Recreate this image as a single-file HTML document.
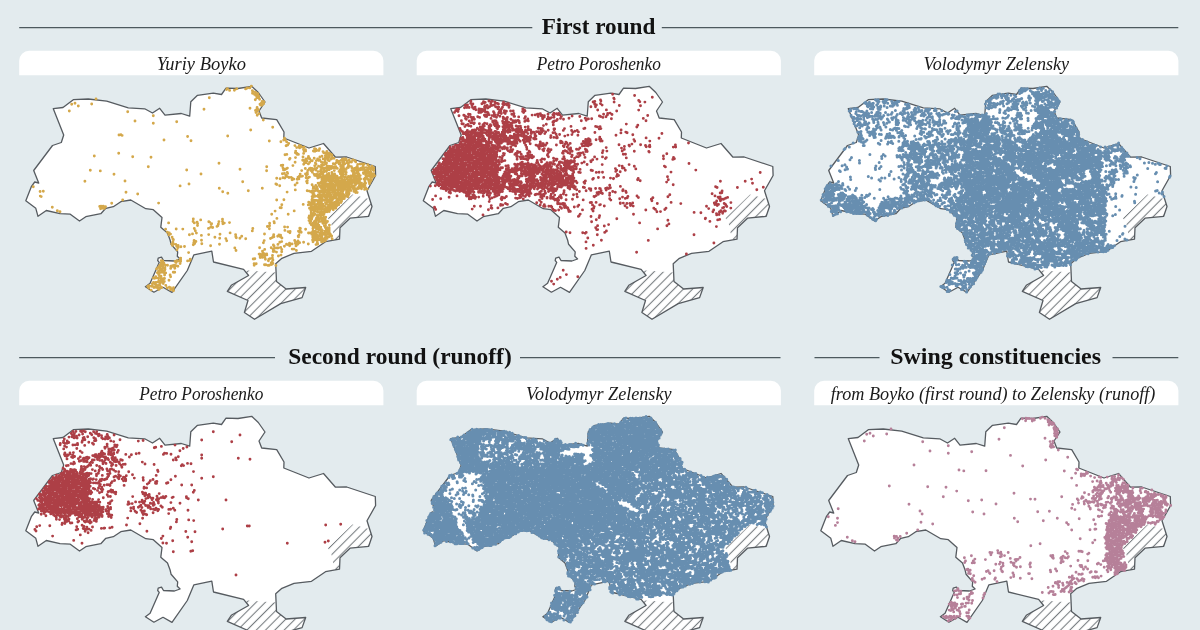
<!DOCTYPE html><html><head><meta charset="utf-8"><title>Ukraine election maps</title><style>html,body{margin:0;padding:0;background:#e3ebee}svg{display:block}</style></head><body><svg width="1200" height="630" viewBox="0 0 1200 630"><defs><pattern id="h" width="6.58" height="6.58" patternUnits="userSpaceOnUse" patternTransform="translate(542.35 0) rotate(-45)"><rect width="6.58" height="6.58" fill="#fff"/><line x1="0" y1="3.29" x2="6.58" y2="3.29" stroke="#787d81" stroke-width="1.1"/></pattern></defs><rect width="1200" height="630" fill="#e3ebee"/><line x1="19.2" y1="27.6" x2="532.3" y2="27.6" stroke="#4d595e" stroke-width="1.3"/><line x1="661.8" y1="27.6" x2="1178.3" y2="27.6" stroke="#4d595e" stroke-width="1.3"/><line x1="19.2" y1="357.6" x2="275" y2="357.6" stroke="#4d595e" stroke-width="1.3"/><line x1="520" y1="357.6" x2="780.5" y2="357.6" stroke="#4d595e" stroke-width="1.3"/><line x1="814.5" y1="357.6" x2="879.5" y2="357.6" stroke="#4d595e" stroke-width="1.3"/><line x1="1112.5" y1="357.6" x2="1178.3" y2="357.6" stroke="#4d595e" stroke-width="1.3"/><text x="541.7" y="34.2" textLength="113.7" lengthAdjust="spacingAndGlyphs" font-family="'Liberation Serif',serif" font-weight="bold" font-size="22.5" fill="#121212">First round</text><text x="288.3" y="364.2" textLength="223.4" lengthAdjust="spacingAndGlyphs" font-family="'Liberation Serif',serif" font-weight="bold" font-size="22.5" fill="#121212">Second round (runoff)</text><text x="890.2" y="364.2" textLength="210.8" lengthAdjust="spacingAndGlyphs" font-family="'Liberation Serif',serif" font-weight="bold" font-size="22.5" fill="#121212">Swing constituencies</text><path d="M19.2 75.19999999999999V60.8a10 10 0 0 1 10 -10H373.4a10 10 0 0 1 10 10V75.19999999999999Z" fill="#fff"/><text x="156.7" y="70.0" textLength="89.2" lengthAdjust="spacingAndGlyphs" font-family="'Liberation Serif',serif" font-style="italic" font-size="19.5" fill="#1a1a1a">Yuriy Boyko</text><g transform="translate(0.0,0)"><polygon points="53.3,108.7 63.0,107.5 73.3,99.7 88.3,99.0 106.7,101.2 128.3,107.8 144.7,108.8 152.5,113.0 159.7,108.3 165.0,115.2 181.3,113.5 189.7,116.2 190.8,101.7 197.5,95.3 213.3,93.2 221.5,94.5 226.0,88.2 238.0,88.5 251.7,86.3 258.3,92.5 265.0,102.0 259.0,111.0 261.7,118.0 276.7,119.7 284.0,132.0 283.8,138.0 309.0,148.0 323.5,143.5 335.5,157.2 346.7,157.0 375.3,166.5 375.6,175.5 367.0,190.8 372.0,206.5 368.7,216.3 350.0,218.2 340.0,227.8 339.5,239.2 325.5,241.7 311.5,251.3 294.0,253.3 281.9,258.3 275.7,263.7 276.5,281.5 286.1,289.0 305.7,287.5 302.1,297.6 280.7,303.6 254.5,319.3 244.4,312.5 248.0,300.5 227.3,291.3 231.3,285.3 248.6,275.5 243.6,269.4 213.5,262.0 211.8,251.2 193.9,254.8 187.3,270.5 172.0,292.4 163.0,287.3 153.9,292.2 145.4,286.7 150.1,283.3 159.2,262.4 157.7,260.5 158.2,258.1 161.5,257.1 163.5,260.5 174.4,261.0 180.1,259.0 177.3,256.2 177.7,251.9 171.1,244.3 170.1,240.0 167.5,233.0 160.8,227.2 162.0,217.5 153.3,209.7 145.8,208.7 130.8,200.0 120.8,201.7 113.3,206.7 105.8,208.3 100.8,213.7 85.8,216.7 79.5,221.0 70.3,214.2 60.0,213.7 46.3,210.5 38.0,216.3 35.8,208.3 25.8,200.8 31.3,186.7 34.7,182.0 38.7,183.0 33.7,170.5 52.5,145.5 61.3,142.5 63.7,135.0" fill="#fff"/><polygon points="248.6,275.5 243.6,269.4 248.0,270.5 276.0,272.5 276.5,281.5 286.1,289.0 305.7,287.5 302.1,297.6 280.7,303.6 254.5,319.3 244.4,312.5 248.0,300.5 227.3,291.3 231.3,285.3" fill="url(#h)"/><polygon points="352.5,194.5 369.0,199.0 372.0,206.5 368.7,216.3 350.0,218.2 340.0,227.8 339.5,239.2 335.5,239.9 333.0,232.5 331.5,224.5 328.0,218.0" fill="url(#h)"/><polygon points="53.3,108.7 63.0,107.5 73.3,99.7 88.3,99.0 106.7,101.2 128.3,107.8 144.7,108.8 152.5,113.0 159.7,108.3 165.0,115.2 181.3,113.5 189.7,116.2 190.8,101.7 197.5,95.3 213.3,93.2 221.5,94.5 226.0,88.2 238.0,88.5 251.7,86.3 258.3,92.5 265.0,102.0 259.0,111.0 261.7,118.0 276.7,119.7 284.0,132.0 283.8,138.0 309.0,148.0 323.5,143.5 335.5,157.2 346.7,157.0 375.3,166.5 375.6,175.5 367.0,190.8 372.0,206.5 368.7,216.3 350.0,218.2 340.0,227.8 339.5,239.2 325.5,241.7 311.5,251.3 294.0,253.3 281.9,258.3 275.7,263.7 276.5,281.5 286.1,289.0 305.7,287.5 302.1,297.6 280.7,303.6 254.5,319.3 244.4,312.5 248.0,300.5 227.3,291.3 231.3,285.3 248.6,275.5 243.6,269.4 213.5,262.0 211.8,251.2 193.9,254.8 187.3,270.5 172.0,292.4 163.0,287.3 153.9,292.2 145.4,286.7 150.1,283.3 159.2,262.4 157.7,260.5 158.2,258.1 161.5,257.1 163.5,260.5 174.4,261.0 180.1,259.0 177.3,256.2 177.7,251.9 171.1,244.3 170.1,240.0 167.5,233.0 160.8,227.2 162.0,217.5 153.3,209.7 145.8,208.7 130.8,200.0 120.8,201.7 113.3,206.7 105.8,208.3 100.8,213.7 85.8,216.7 79.5,221.0 70.3,214.2 60.0,213.7 46.3,210.5 38.0,216.3 35.8,208.3 25.8,200.8 31.3,186.7 34.7,182.0 38.7,183.0 33.7,170.5 52.5,145.5 61.3,142.5 63.7,135.0" fill="none" stroke="#565b60" stroke-width="1.3" stroke-linejoin="round"/><path transform="scale(.1)" d="M2514 861h0m-16 18h0m-25 1h0m-199 6h0m93 2h0m89 1h0m-190 7h0m78 6h0m-48 2h0m228 3h0m10 9h0m21 8h0m-30 9h0m53 3h0m-10 4h0m-22 4h0m13 10h0m20 2h0m10 3h0m-496 18h0m495 0h0m-19 1h0m-1609 12h0m1636 3h0m-43 5h0m68 16h0m18 4h0m-24 14h0m-1865 1h0m1886 5h0m-1719 2h0m1683 2h0m-1883 1h0m1888 8h0m14 1h0m-1836 8h0m1788 15h0m-71 8h0m70 5h0m-530 5h0m544 5h0m-29 7h0m-1862 5h0m1876 3h0m-1292 4h0m1283 9h0m29 10h0m-17 16h0m-1039 5h0m1100 43h0m-1283 10h0m417 7h0m-234 16h0m1194 40h0m-220 27h0m-1298 48h0m-19 2h0m31 4h0m1056 6h0m-401 5h0m969 18h0m5 15h0m-1210 2h0m1197 1h0m-927 6h0m783 3h0m173 7h0m-57 1h0m78 16h0m-10 16h0m72 6h0m-88 2h0m132 0h0m12 1h0m-15 9h0m31 3h0m20 0h0m-74 5h0m29 3h0m200 8h0m-51 1h0m14 4h0m-124 4h0m20 1h0m112 8h0m22 0h0m-148 5h0m93 0h0m-177 1h0m100 0h0m93 2h0m119 1h0m-39 2h0m-276 12h0m283 0h0m21 1h0m17 1h0m-2088 2h0m1783 2h0m66 0h0m259 0h0m-325 9h0m335 0h0m-437 1h0m116 0h0m-134 4h0m469 1h0m-28 1h0m-25 2h0m-12 3h0m-2311 5h0m2277 2h0m-135 2h0m-1758 3h0m1966 2h0m27 0h0m-290 1h0m169 0h0m79 2h0m-1768 1h0m1744 0h0m-299 3h0m127 6h0m60 1h0m183 0h0m15 0h0m-440 1h0m365 0h0m-168 3h0m185 0h0m159 1h0m-209 1h0m230 0h0m-403 1h0m117 0h0m135 1h0m-416 1h0m528 0h0m-177 1h0m282 6h0m-331 1h0m252 0h0m43 0h0m-78 1h0m-131 1h0m-256 1h0m225 0h0m116 2h0m61 0h0m-265 1h0m25 0h0m-78 1h0m-68 1h0m79 0h0m170 0h0m256 0h0m-76 1h0m-403 1h0m322 1h0m-177 8h0m212 0h0m131 0h0m-58 1h0m16 0h0m-564 2h0m298 0h0m190 1h0m-343 1h0m128 1h0m-179 1h0m319 0h0m19 0h0m15 0h0m-338 2h0m413 0h0m-208 1h0m-111 1h0m-964 3h0m1143 5h0m18 0h0m98 0h0m-365 1h0m535 0h0m23 0h0m-250 1h0m39 0h0m52 0h0m118 0h0m-345 1h0m-219 1h0m123 1h0m244 1h0m173 0h0m100 4h0m-462 1h0m21 0h0m-408 2h0m-16 3h0m117 2h0m218 1h0m126 2h0m220 0h0m196 0h0m-503 2h0m248 0h0m49 0h0m237 1h0m-87 1h0m-226 1h0m166 0h0m-281 1h0m8 0h0m19 0h0m99 0h0m-72 1h0m168 0h0m-2031 1h0m1184 0h0m692 0h0m-153 2h0m72 7h0m195 0h0m11 0h0m178 0h0m32 0h0m-865 1h0m433 0h0m455 0h0m-494 1h0m114 0h0m224 0h0m75 1h0m-467 1h0m126 0h0m64 0h0m258 0h0m121 0h0m-864 1h0m369 0h0m277 0h0m-416 1h0m326 1h0m251 0h0m-561 1h0m253 0h0m37 0h0m-357 1h0m95 0h0m166 0h0m129 0h0m103 0h0m36 0h0m-749 1h0m771 0h0m-739 1h0m228 0h0m-693 6h0m1228 2h0m54 0h0m25 0h0m-498 1h0m252 0h0m-614 1h0m575 0h0m17 0h0m167 0h0m-314 1h0m297 0h0m138 0h0m-892 1h0m295 0h0m271 0h0m155 0h0m12 0h0m-1701 1h0m1292 0h0m113 0h0m266 0h0m-301 1h0m-2334 1h0m2745 1h0m-570 1h0m584 0h0m-553 1h0m140 0h0m488 0h0m-720 1h0m326 0h0m176 0h0m-853 2h0m-1663 1h0m2387 5h0m289 0h0m-475 1h0m322 0h0m-346 1h0m84 0h0m179 0h0m-228 1h0m324 2h0m43 0h0m73 0h0m-242 1h0m-174 1h0m196 0h0m265 0h0m-576 1h0m444 0h0m141 1h0m-837 1h0m590 0h0m-143 1h0m-246 1h0m561 0h0m39 7h0m-829 1h0m32 0h0m334 1h0m79 0h0m282 0h0m137 0h0m-288 1h0m129 0h0m86 0h0m54 0h0m33 0h0m15 0h0m-913 1h0m579 1h0m251 0h0m-308 1h0m-1336 1h0m1045 0h0m171 0h0m-224 1h0m165 0h0m422 0h0m-514 1h0m358 0h0m100 0h0m-2393 1h0m2002 1h0m15 0h0m35 0h0m80 0h0m51 0h0m136 1h0m86 7h0m-481 1h0m83 1h0m-288 1h0m419 0h0m55 0h0m18 0h0m-155 1h0m406 0h0m-438 1h0m150 0h0m114 0h0m318 0h0m-449 1h0m287 0h0m74 0h0m58 0h0m-461 1h0m253 0h0m187 0h0m-451 1h0m491 0h0m-710 1h0m345 0h0m44 1h0m110 0h0m42 0h0m113 0h0m-502 1h0m-186 1h0m19 0h0m209 0h0m265 0h0m-613 1h0m223 6h0m-114 1h0m476 0h0m83 0h0m186 0h0m-511 1h0m230 0h0m-532 1h0m314 0h0m268 0h0m-604 1h0m298 0h0m362 0h0m-201 1h0m124 0h0m234 0h0m-877 1h0m462 0h0m85 0h0m18 0h0m197 0h0m71 0h0m-602 1h0m209 0h0m37 0h0m203 0h0m-431 1h0m337 0h0m-568 1h0m330 0h0m190 1h0m-116 1h0m74 0h0m241 0h0m85 0h0m-885 1h0m155 0h0m-121 4h0m188 2h0m230 1h0m138 0h0m249 0h0m34 0h0m-701 1h0m644 0h0m-611 2h0m265 0h0m132 0h0m103 0h0m96 1h0m84 0h0m-109 1h0m138 0h0m-424 1h0m41 0h0m117 0h0m90 0h0m23 0h0m162 0h0m-769 1h0m359 1h0m40 1h0m114 0h0m-103 1h0m383 0h0m-328 1h0m63 0h0m32 0h0m-408 6h0m218 2h0m70 0h0m-2111 1h0m2014 0h0m45 0h0m12 0h0m328 0h0m-421 2h0m171 0h0m38 0h0m75 0h0m-2663 1h0m2687 0h0m21 0h0m-491 1h0m529 0h0m-378 1h0m358 1h0m-1148 1h0m920 0h0m76 0h0m68 0h0m199 0h0m14 0h0m-455 1h0m135 0h0m69 2h0m25 0h0m-66 8h0m-441 1h0m101 0h0m245 0h0m184 0h0m19 0h0m27 0h0m-345 1h0m169 0h0m205 0h0m-395 1h0m434 0h0m41 1h0m-436 1h0m137 0h0m-120 1h0m61 1h0m191 0h0m-234 1h0m312 0h0m-238 1h0m119 0h0m247 0h0m-230 1h0m178 0h0m-368 1h0m119 0h0m39 0h0m163 0h0m-1706 1h0m869 0h0m9 5h0m708 2h0m-355 1h0m372 0h0m25 0h0m-226 1h0m16 0h0m107 0h0m-464 1h0m372 0h0m231 0h0m76 0h0m-441 1h0m40 1h0m420 0h0m-307 1h0m15 0h0m83 0h0m-282 1h0m240 0h0m218 0h0m-362 1h0m12 0h0m113 1h0m152 0h0m-318 1h0m381 0h0m-797 1h0m656 0h0m-1652 1h0m1331 7h0m66 0h0m-2865 1h0m3044 0h0m9 0h0m-146 1h0m249 0h0m130 0h0m-146 1h0m-43 1h0m-292 1h0m366 1h0m15 0h0m80 0h0m45 0h0m-475 1h0m112 0h0m20 0h0m-48 1h0m64 0h0m-93 1h0m105 0h0m78 0h0m136 0h0m-90 1h0m-104 1h0m228 0h0m79 1h0m-1463 5h0m430 0h0m509 1h0m17 1h0m81 0h0m73 0h0m-88 1h0m333 0h0m38 0h0m-205 1h0m234 0h0m-190 1h0m109 0h0m-253 1h0m219 0h0m67 2h0m105 0h0m-497 1h0m150 0h0m153 1h0m-232 1h0m94 0h0m101 0h0m205 0h0m-245 1h0m-138 1h0m96 0h0m104 0h0m-510 3h0m208 5h0m227 0h0m-154 1h0m276 0h0m-194 1h0m-833 1h0m589 0h0m359 0h0m129 1h0m-438 2h0m291 0h0m-320 1h0m53 0h0m109 0h0m210 0h0m-183 1h0m12 0h0m-2861 1h0m2749 0h0m21 0h0m136 0h0m9 0h0m29 0h0m-274 1h0m437 0h0m-3139 1h0m2818 0h0m266 0h0m-1258 2h0m644 4h0m-1611 2h0m1856 0h0m95 1h0m139 0h0m-25 1h0m232 0h0m15 0h0m-347 1h0m21 0h0m-48 2h0m183 1h0m-109 1h0m94 1h0m98 0h0m15 0h0m-178 1h0m-1023 1h0m1013 0h0m108 0h0m27 0h0m65 0h0m-357 2h0m-1757 5h0m1978 4h0m74 0h0m-155 1h0m24 0h0m41 1h0m28 0h0m121 0h0m-346 2h0m40 1h0m52 0h0m209 0h0m28 0h0m-341 1h0m124 0h0m158 0h0m-19 1h0m-81 1h0m-108 1h0m22 0h0m-2823 8h0m2938 0h0m44 0h0m-210 1h0m-24 1h0m309 0h0m-196 2h0m20 0h0m73 0h0m47 0h0m-2992 1h0m2709 0h0m18 0h0m86 0h0m254 1h0m-273 1h0m100 0h0m24 1h0m-142 1h0m238 1h0m11 0h0m-186 1h0m22 9h0m86 0h0m-40 1h0m-17 3h0m33 0h0m108 0h0m-72 2h0m20 0h0m-168 1h0m204 0h0m-304 1h0m138 1h0m-64 1h0m215 0h0m-573 6h0m430 2h0m-2042 1h0m1540 0h0m352 0h0m171 1h0m33 0h0m60 1h0m22 0h0m-264 1h0m89 0h0m17 0h0m-92 1h0m35 0h0m178 0h0m-199 1h0m136 0h0m-96 3h0m207 1h0m-291 10h0m77 0h0m94 0h0m-24 2h0m41 0h0m40 0h0m-266 2h0m94 0h0m-37 1h0m224 0h0m42 2h0m-303 1h0m108 0h0m40 0h0m83 0h0m53 0h0m-1805 4h0m-469 2h0m2003 6h0m13 0h0m130 0h0m-88 2h0m54 0h0m74 0h0m62 1h0m-172 1h0m134 0h0m21 0h0m-316 1h0m72 0h0m51 1h0m59 1h0m70 0h0m-466 1h0m569 1h0m-304 1h0m156 7h0m-32 1h0m160 2h0m-208 1h0m-2127 1h0m2155 1h0m-2177 1h0m2288 0h0m55 0h0m-207 1h0m137 0h0m32 0h0m-2318 1h0m2225 0h0m109 0h0m-210 1h0m133 0h0m-2199 1h0m2054 0h0m-2586 6h0m2703 3h0m118 0h0m-543 1h0m481 0h0m-469 1h0m321 1h0m39 0h0m-56 1h0m-22 2h0m54 0h0m57 0h0m56 0h0m-2232 1h0m2159 0h0m170 0h0m-2315 1h0m2209 1h0m54 0h0m17 1h0m-2318 1h0m2152 7h0m-35 1h0m118 0h0m-99 1h0m54 0h0m78 0h0m59 1h0m-155 1h0m120 1h0m-83 1h0m-106 2h0m152 3h0m-2688 2h0m2369 2h0m-191 2h0m402 2h0m139 3h0m-2692 1h0m2672 0h0m-132 1h0m93 1h0m21 1h0m-41 2h0m-37 1h0m-64 1h0m83 0h0m27 10h0m-98 2h0m-12 1h0m87 0h0m-317 5h0m357 0h0m-522 1h0m433 0h0m43 8h0m41 0h0m-96 1h0m72 1h0m-38 2h0m-54 4h0m-25 1h0m84 12h0m-55 1h0m84 0h0m51 0h0m-18 1h0m-130 2h0m108 0h0m-129 2h0m77 2h0m-396 4h0m-836 6h0m1184 0h0m100 0h0m-992 2h0m947 0h0m19 0h0m38 1h0m23 4h0m-93 1h0m-1152 1h0m1090 0h0m-7 7h0m19 3h0m127 0h0m-49 2h0m29 1h0m-57 2h0m-1228 1h0m294 0h0m920 0h0m130 0h0m-1086 1h0m551 0h0m458 0h0m65 1h0m-1175 1h0m-117 3h0m124 0h0m200 5h0m968 1h0m-1577 2h0m257 0h0m800 0h0m357 1h0m152 0h0m-1009 1h0m453 1h0m435 0h0m28 1h0m70 0h0m-118 1h0m66 0h0m-948 3h0m-253 1h0m140 0h0m68 2h0m-72 6h0m1001 1h0m32 0h0m-17 3h0m166 1h0m-106 2h0m67 0h0m-87 1h0m-1193 2h0m1269 1h0m-1065 1h0m517 0h0m-526 6h0m504 1h0m458 1h0m40 2h0m26 1h0m-352 1h0m-738 1h0m768 0h0m332 0h0m-55 3h0m-1026 1h0m1126 0h0m20 1h0m18 0h0m-293 7h0m-913 1h0m919 0h0m-1061 1h0m585 0h0m601 0h0m147 0h0m-582 3h0m472 1h0m-1404 1h0m1422 0h0m80 0h0m28 0h0m-1464 1h0m-172 1h0m1400 1h0m144 1h0m15 1h0m-25 8h0m-341 1h0m153 2h0m207 0h0m58 0h0m-43 1h0m-1271 1h0m570 1h0m607 1h0m162 0h0m-41 1h0m-266 1h0m169 1h0m-253 1h0m-20 2h0m114 6h0m17 0h0m112 0h0m39 0h0m14 0h0m-1503 1h0m1584 0h0m20 0h0m-57 2h0m-322 2h0m-598 2h0m800 0h0m-1408 1h0m1392 0h0m-1121 1h0m1270 0h0m-94 1h0m61 0h0m94 1h0m-1370 6h0m720 1h0m-940 1h0m1580 0h0m-147 1h0m-938 1h0m919 1h0m186 0h0m-1218 2h0m650 0h0m475 0h0m16 0h0m-1334 1h0m1261 0h0m-799 1h0m896 0h0m-1563 1h0m1507 0h0m69 0h0m-476 1h0m201 1h0m179 0h0m-363 2h0m-792 1h0m1166 6h0m19 0h0m118 0h0m-335 1h0m-565 1h0m360 1h0m-44 1h0m407 2h0m-782 1h0m860 0h0m75 0h0m-554 1h0m65 0h0m356 0h0m-175 1h0m291 0h0m-20 1h0m-129 1h0m-1406 1h0m428 0h0m573 4h0m-359 2h0m456 2h0m391 1h0m-1013 1h0m202 0h0m851 1h0m-78 1h0m100 0h0m-567 1h0m426 0h0m-873 1h0m199 1h0m772 0h0m-43 1h0m135 0h0m-165 2h0m-1427 1h0m5 7h0m1465 0h0m-73 1h0m96 0h0m-80 1h0m36 1h0m-12 1h0m76 0h0m-1227 1h0m-74 1h0m1006 0h0m-305 2h0m613 0h0m-988 2h0m713 2h0m-1021 5h0m858 1h0m134 0h0m27 0h0m256 0h0m-104 2h0m-1401 2h0m1487 0h0m-418 2h0m238 0h0m137 3h0m-1235 1h0m696 1h0m329 0h0m33 0h0m-101 4h0m59 4h0m-1007 1h0m71 1h0m-300 2h0m1203 0h0m-1188 1h0m1350 0h0m94 0h0m-982 2h0m782 0h0m-112 1h0m-1107 1h0m1021 0h0m119 0h0m-22 2h0m284 0h0m-1227 2h0m801 1h0m-1009 5h0m56 1h0m1115 2h0m-790 1h0m854 1h0m-219 4h0m103 0h0m-1077 1h0m78 1h0m-36 3h0m998 6h0m-1026 1h0m815 2h0m116 1h0m-364 1h0m434 0h0m-11 1h0m-25 3h0m176 8h0m18 0h0m-293 3h0m85 0h0m86 0h0m-1048 3h0m590 8h0m604 0h0m-339 7h0m118 1h0m-11 2h0m85 3h0m-52 3h0m-879 5h0m741 7h0m14 4h0m26 3h0m-76 1h0m9 0h0m68 8h0m142 2h0m-186 2h0m-13 1h0m114 1h0m-76 1h0m135 4h0m-183 1h0m23 13h0m24 0h0m-46 2h0m122 3h0m-917 2h0m895 5h0m-154 1h0m-16 3h0m157 1h0m-888 1h0m101 0h0m752 0h0m-847 7h0m922 0h0m-829 6h0m-287 2h0m157 0h0m914 1h0m-808 1h0m-95 2h0m-152 2h0m121 1h0m56 0h0m916 4h0m-961 7h0m951 4h0m-1073 3h0m-27 1h0m1117 2h0m-928 1h0m-182 1h0m943 0h0m-21 1h0m-927 7h0m1102 1h0m-71 1h0m-1013 1h0m1025 0h0m-1002 3h0m887 1h0m-867 1h0m69 0h0m949 0h0m-1097 1h0m1083 0h0m80 1h0m-1033 2h0m34 0h0m19 5h0m-71 1h0m11 1h0m19 1h0m-135 3h0m25 2h0m-45 4h0m66 2h0m-9 7h0m108 0h0m-41 1h0m-141 5h0m32 2h0m23 0h0m29 2h0m-48 9h0m45 2h0m-25 5h0m-36 3h0m34 10h0m127 0h0m-14 1h0m-96 3h0m-63 2h0m83 1h0m-62 1h0m-7 17h0m58 3h0m55 0h0m-108 8h0m17 5h0m96 4h0m-149 1h0m6 10h0m-28 2h0m11 3h0m37 0h0m26 0h0m36 2h0m-15 1h0m0 15h0m60 1h0m-80 5h0m-19 1h0m37 7h0m15 0h0m-61 3h0m-47 7h0m28 0h0m-12 1h0m53 2h0m-62 7h0m90 0h0m-109 2h0m29 7h0m43 1h0m5 9h0m58 0h0m-88 1h0m16 0h0m-96 3h0m24 5h0m11 0h0m-48 2h0m75 7h0m142 0h0m-155 3h0m78 0h0m88 1h0m30 2h0m-247 2h0m183 0h0m-71 1h0m-23 1h0m149 9h0m-139 4h0m119 3h0m-195 3h0m225 5h0m-3 2h0" stroke="#d4a84b" stroke-width="29" stroke-linecap="round" fill="none"/></g><path d="M416.7 75.19999999999999V60.8a10 10 0 0 1 10 -10H770.9a10 10 0 0 1 10 10V75.19999999999999Z" fill="#fff"/><text x="536.8" y="70.0" textLength="124" lengthAdjust="spacingAndGlyphs" font-family="'Liberation Serif',serif" font-style="italic" font-size="19.5" fill="#1a1a1a">Petro Poroshenko</text><g transform="translate(397.5,0)"><polygon points="53.3,108.7 63.0,107.5 73.3,99.7 88.3,99.0 106.7,101.2 128.3,107.8 144.7,108.8 152.5,113.0 159.7,108.3 165.0,115.2 181.3,113.5 189.7,116.2 190.8,101.7 197.5,95.3 213.3,93.2 221.5,94.5 226.0,88.2 238.0,88.5 251.7,86.3 258.3,92.5 265.0,102.0 259.0,111.0 261.7,118.0 276.7,119.7 284.0,132.0 283.8,138.0 309.0,148.0 323.5,143.5 335.5,157.2 346.7,157.0 375.3,166.5 375.6,175.5 367.0,190.8 372.0,206.5 368.7,216.3 350.0,218.2 340.0,227.8 339.5,239.2 325.5,241.7 311.5,251.3 294.0,253.3 281.9,258.3 275.7,263.7 276.5,281.5 286.1,289.0 305.7,287.5 302.1,297.6 280.7,303.6 254.5,319.3 244.4,312.5 248.0,300.5 227.3,291.3 231.3,285.3 248.6,275.5 243.6,269.4 213.5,262.0 211.8,251.2 193.9,254.8 187.3,270.5 172.0,292.4 163.0,287.3 153.9,292.2 145.4,286.7 150.1,283.3 159.2,262.4 157.7,260.5 158.2,258.1 161.5,257.1 163.5,260.5 174.4,261.0 180.1,259.0 177.3,256.2 177.7,251.9 171.1,244.3 170.1,240.0 167.5,233.0 160.8,227.2 162.0,217.5 153.3,209.7 145.8,208.7 130.8,200.0 120.8,201.7 113.3,206.7 105.8,208.3 100.8,213.7 85.8,216.7 79.5,221.0 70.3,214.2 60.0,213.7 46.3,210.5 38.0,216.3 35.8,208.3 25.8,200.8 31.3,186.7 34.7,182.0 38.7,183.0 33.7,170.5 52.5,145.5 61.3,142.5 63.7,135.0" fill="#fff"/><polygon points="248.6,275.5 243.6,269.4 248.0,270.5 276.0,272.5 276.5,281.5 286.1,289.0 305.7,287.5 302.1,297.6 280.7,303.6 254.5,319.3 244.4,312.5 248.0,300.5 227.3,291.3 231.3,285.3" fill="url(#h)"/><polygon points="352.5,194.5 369.0,199.0 372.0,206.5 368.7,216.3 350.0,218.2 340.0,227.8 339.5,239.2 335.5,239.9 333.0,232.5 331.5,224.5 328.0,218.0" fill="url(#h)"/><polygon points="53.3,108.7 63.0,107.5 73.3,99.7 88.3,99.0 106.7,101.2 128.3,107.8 144.7,108.8 152.5,113.0 159.7,108.3 165.0,115.2 181.3,113.5 189.7,116.2 190.8,101.7 197.5,95.3 213.3,93.2 221.5,94.5 226.0,88.2 238.0,88.5 251.7,86.3 258.3,92.5 265.0,102.0 259.0,111.0 261.7,118.0 276.7,119.7 284.0,132.0 283.8,138.0 309.0,148.0 323.5,143.5 335.5,157.2 346.7,157.0 375.3,166.5 375.6,175.5 367.0,190.8 372.0,206.5 368.7,216.3 350.0,218.2 340.0,227.8 339.5,239.2 325.5,241.7 311.5,251.3 294.0,253.3 281.9,258.3 275.7,263.7 276.5,281.5 286.1,289.0 305.7,287.5 302.1,297.6 280.7,303.6 254.5,319.3 244.4,312.5 248.0,300.5 227.3,291.3 231.3,285.3 248.6,275.5 243.6,269.4 213.5,262.0 211.8,251.2 193.9,254.8 187.3,270.5 172.0,292.4 163.0,287.3 153.9,292.2 145.4,286.7 150.1,283.3 159.2,262.4 157.7,260.5 158.2,258.1 161.5,257.1 163.5,260.5 174.4,261.0 180.1,259.0 177.3,256.2 177.7,251.9 171.1,244.3 170.1,240.0 167.5,233.0 160.8,227.2 162.0,217.5 153.3,209.7 145.8,208.7 130.8,200.0 120.8,201.7 113.3,206.7 105.8,208.3 100.8,213.7 85.8,216.7 79.5,221.0 70.3,214.2 60.0,213.7 46.3,210.5 38.0,216.3 35.8,208.3 25.8,200.8 31.3,186.7 34.7,182.0 38.7,183.0 33.7,170.5 52.5,145.5 61.3,142.5 63.7,135.0" fill="none" stroke="#565b60" stroke-width="1.3" stroke-linejoin="round"/><path transform="scale(.1)" d="M2151 943h0m220 12h0m177 17h0m-385 11h0m4 8h0m-137 8h0m382 6h0m-1498 5h0m1120 1h0m-1300 1h0m214 0h0m1025 3h0m-1038 1h0m-75 1h0m1563 0h0m-467 3h0m210 1h0m308 0h0m-1414 1h0m-85 1h0m-98 1h0m-11 6h0m113 3h0m-247 1h0m265 0h0m-64 2h0m176 0h0m920 0h0m-1185 1h0m228 1h0m-318 2h0m255 0h0m44 0h0m43 0h0m876 2h0m-882 5h0m-28 2h0m-362 1h0m268 0h0m131 0h0m890 0h0m57 1h0m-1368 1h0m218 2h0m50 0h0m171 1h0m1101 0h0m-1473 1h0m188 1h0m1497 0h0m-1554 3h0m105 7h0m-60 1h0m1013 0h0m46 0h0m-989 1h0m-121 1h0m-94 1h0m236 0h0m38 1h0m-300 2h0m365 0h0m-399 1h0m163 0h0m-185 1h0m-24 1h0m233 3h0m-141 7h0m242 0h0m37 0h0m212 2h0m-438 1h0m-223 1h0m19 1h0m223 1h0m18 2h0m22 1h0m-90 1h0m239 2h0m1066 0h0m-820 1h0m733 0h0m410 1h0m-1554 4h0m-45 1h0m256 0h0m-487 1h0m246 0h0m329 2h0m118 0h0m-241 1h0m97 0h0m1061 0h0m-1103 2h0m162 2h0m6 0h0m-652 1h0m243 1h0m112 1h0m-83 1h0m140 1h0m-118 4h0m-329 1h0m264 0h0m427 1h0m-448 1h0m253 0h0m-160 4h0m61 0h0m45 0h0m1114 1h0m-562 1h0m-526 3h0m39 0h0m87 0h0m449 0h0m489 0h0m-673 2h0m162 1h0m-192 4h0m106 0h0m556 0h0m-1351 1h0m433 0h0m270 0h0m-512 1h0m-175 1h0m1419 0h0m-543 1h0m-687 2h0m639 0h0m546 0h0m-1219 1h0m92 0h0m404 0h0m188 0h0m58 0h0m-622 1h0m161 0h0m184 1h0m-477 1h0m-206 1h0m301 0h0m-296 2h0m779 0h0m1055 0h0m-1558 1h0m-329 1h0m822 0h0m32 0h0m550 3h0m-273 1h0m-722 1h0m-147 1h0m89 1h0m199 0h0m6 0h0m-490 1h0m726 0h0m416 0h0m-931 1h0m747 0h0m393 0h0m-1230 1h0m1283 0h0m-806 1h0m-67 1h0m-504 1h0m760 1h0m-478 1h0m575 0h0m-828 1h0m320 0h0m450 0h0m-747 1h0m61 0h0m1233 0h0m-955 1h0m352 1h0m88 0h0m-787 7h0m778 0h0m185 0h0m162 0h0m-942 1h0m336 0h0m359 0h0m828 0h0m-1778 1h0m378 1h0m1081 1h0m-1064 1h0m376 0h0m491 0h0m-426 1h0m393 0h0m-606 1h0m594 0h0m-399 1h0m-729 1h0m325 0h0m40 0h0m526 0h0m-972 1h0m910 2h0m-853 4h0m1142 4h0m-802 1h0m118 0h0m89 0h0m298 2h0m-618 1h0m866 0h0m647 0h0m-1846 1h0m515 0h0m24 0h0m-226 1h0m33 0h0m323 0h0m263 0h0m-854 1h0m379 0h0m119 0h0m347 1h0m-511 2h0m222 1h0m-88 5h0m-232 2h0m120 1h0m481 0h0m7 0h0m-581 1h0m192 0h0m-58 2h0m-367 1h0m249 0h0m223 1h0m-485 2h0m34 0h0m287 0h0m39 1h0m42 1h0m11 1h0m-276 1h0m-227 4h0m120 1h0m55 0h0m76 0h0m-237 2h0m432 1h0m1198 0h0m-1225 2h0m425 0h0m-783 2h0m260 0h0m19 0h0m16 0h0m-145 1h0m74 0h0m208 2h0m-41 1h0m462 0h0m-870 2h0m428 0h0m1287 1h0m-943 4h0m-526 1h0m-223 1h0m157 1h0m47 0h0m62 0h0m18 0h0m191 0h0m-112 1h0m59 0h0m12 0h0m84 1h0m-495 1h0m1001 2h0m246 0h0m-966 1h0m79 0h0m14 0h0m99 0h0m-533 1h0m1352 0h0m-1178 1h0m206 0h0m252 1h0m693 1h0m-1172 1h0m1566 0h0m-1116 1h0m-175 5h0m-187 1h0m148 1h0m170 1h0m-240 1h0m125 1h0m28 0h0m-348 1h0m58 0h0m223 0h0m327 1h0m468 0h0m-950 1h0m506 0h0m-805 1h0m528 1h0m154 0h0m363 0h0m193 0h0m171 0h0m-586 1h0m-614 1h0m166 0h0m191 1h0m25 0h0m349 0h0m453 0h0m-446 1h0m-711 5h0m59 0h0m-107 2h0m32 0h0m230 0h0m-17 1h0m105 0h0m403 0h0m-238 1h0m908 0h0m-1467 1h0m415 0h0m122 0h0m-427 1h0m56 0h0m307 0h0m194 0h0m-654 1h0m345 0h0m205 0h0m175 0h0m-758 1h0m362 0h0m42 0h0m127 0h0m-646 1h0m65 0h0m959 0h0m-426 1h0m509 0h0m56 0h0m-895 1h0m556 0h0m-626 1h0m266 0h0m112 0h0m563 6h0m-798 2h0m209 0h0m-485 1h0m57 0h0m-31 1h0m665 0h0m21 0h0m-761 1h0m249 0h0m89 0h0m138 0h0m162 0h0m-211 1h0m197 0h0m208 0h0m327 0h0m-613 1h0m35 0h0m-300 1h0m134 0h0m297 0h0m921 0h0m-1598 1h0m56 0h0m110 0h0m407 0h0m88 0h0m97 0h0m310 0h0m-706 1h0m-213 1h0m271 0h0m232 0h0m-558 1h0m139 0h0m93 0h0m411 0h0m552 0h0m-1314 1h0m143 0h0m19 0h0m49 0h0m80 0h0m260 0h0m363 0h0m722 1h0m-741 1h0m679 1h0m-1527 4h0m44 2h0m97 0h0m38 0h0m452 0h0m1306 0h0m-1955 1h0m250 0h0m54 0h0m311 0h0m114 0h0m55 0h0m-797 1h0m564 0h0m190 0h0m-773 1h0m397 0h0m-241 1h0m-39 1h0m298 0h0m-247 1h0m383 1h0m166 0h0m-640 1h0m230 0h0m11 0h0m193 0h0m418 0h0m-792 1h0m110 1h0m12 0h0m106 0h0m18 0h0m226 0h0m355 0h0m-428 1h0m551 0h0m609 1h0m-649 4h0m-887 1h0m987 0h0m381 0h0m-1496 1h0m209 0h0m75 0h0m247 0h0m-500 2h0m-18 1h0m363 0h0m-326 1h0m795 0h0m-733 1h0m397 0h0m-413 1h0m56 0h0m161 0h0m181 0h0m57 0h0m144 0h0m-257 1h0m248 0h0m-420 1h0m128 0h0m53 0h0m27 0h0m510 0h0m-759 1h0m17 0h0m356 0h0m43 0h0m-473 1h0m133 0h0m34 0h0m25 1h0m210 0h0m14 0h0m320 0h0m-830 1h0m60 7h0m140 0h0m303 0h0m37 0h0m720 0h0m-840 1h0m22 0h0m-476 1h0m214 0h0m390 0h0m230 0h0m-909 1h0m99 0h0m226 0h0m553 0h0m-456 2h0m513 0h0m-439 1h0m177 0h0m271 0h0m-595 1h0m102 0h0m1381 0h0m-1789 1h0m74 0h0m-137 1h0m226 0h0m272 0h0m-423 1h0m100 0h0m41 0h0m67 0h0m143 1h0m27 0h0m201 0h0m1327 0h0m-1583 1h0m131 0h0m198 1h0m16 0h0m533 1h0m-525 3h0m-666 1h0m651 0h0m-496 1h0m147 0h0m-380 1h0m362 0h0m314 0h0m-684 1h0m1388 0h0m12 0h0m-1082 1h0m17 0h0m232 0h0m682 0h0m19 0h0m-1240 1h0m85 0h0m56 0h0m181 0h0m-208 1h0m1589 0h0m-1282 1h0m98 0h0m90 0h0m655 0h0m61 0h0m-1279 1h0m51 0h0m157 1h0m185 0h0m226 0h0m-641 1h0m150 0h0m282 0h0m98 0h0m78 0h0m-478 1h0m227 0h0m28 0h0m-218 1h0m405 0h0m-599 8h0m78 0h0m1191 0h0m119 0h0m-1274 1h0m91 0h0m216 0h0m221 0h0m730 0h0m493 0h0m-1774 1h0m134 0h0m748 0h0m263 0h0m-1223 1h0m170 0h0m179 0h0m17 0h0m189 0h0m1146 0h0m-1313 1h0m66 0h0m733 0h0m-879 1h0m116 0h0m70 0h0m152 0h0m-533 1h0m1089 0h0m-871 1h0m104 0h0m-390 1h0m112 0h0m88 0h0m998 0h0m-1010 1h0m524 0h0m-625 1h0m842 0h0m-1012 1h0m66 0h0m241 0h0m253 0h0m85 0h0m-131 1h0m121 0h0m416 1h0m-53 5h0m17 0h0m-893 1h0m159 0h0m949 0h0m-1184 1h0m102 0h0m108 0h0m805 0h0m1216 0h0m-2113 1h0m138 0h0m104 0h0m230 0h0m-276 1h0m202 0h0m299 0h0m-755 1h0m440 0h0m548 1h0m174 1h0m14 0h0m-1189 1h0m112 0h0m184 0h0m94 0h0m-409 1h0m744 0h0m7 0h0m423 0h0m-1256 1h0m16 0h0m174 0h0m322 0h0m190 0h0m-316 1h0m148 0h0m777 0h0m-1267 1h0m1173 0h0m-739 1h0m1241 0h0m-920 1h0m251 0h0m254 6h0m286 0h0m216 0h0m-1485 1h0m220 0h0m-525 1h0m170 0h0m91 0h0m99 0h0m152 0h0m436 0h0m1190 0h0m-2199 1h0m91 0h0m714 0h0m-771 1h0m247 0h0m421 0h0m198 0h0m835 0h0m207 0h0m-1829 1h0m79 0h0m13 0h0m100 0h0m822 0h0m-1054 1h0m77 0h0m-133 1h0m113 0h0m1770 0h0m-1726 1h0m68 0h0m1067 0h0m-930 1h0m14 0h0m897 0h0m-1023 1h0m70 0h0m486 0h0m55 0h0m-277 1h0m239 0h0m238 0h0m191 0h0m58 0h0m-887 1h0m417 1h0m883 0h0m197 3h0m-248 1h0m-1469 2h0m14 0h0m851 0h0m-1108 1h0m160 0h0m352 0h0m1418 0h0m37 0h0m-1391 1h0m-503 1h0m208 0h0m13 0h0m847 0h0m1084 0h0m-2218 1h0m218 0h0m1976 0h0m-2231 1h0m447 0h0m317 0h0m-681 1h0m90 0h0m62 0h0m132 0h0m137 1h0m382 0h0m-767 1h0m225 0h0m117 0h0m-322 1h0m13 0h0m266 0h0m106 0h0m1036 0h0m-1495 1h0m148 0h0m339 0h0m-170 1h0m27 0h0m75 0h0m720 1h0m-632 1h0m725 0h0m416 1h0m-1171 5h0m399 0h0m-622 1h0m33 0h0m101 0h0m70 0h0m-390 1h0m107 0h0m16 0h0m172 0h0m464 0h0m-493 1h0m72 0h0m511 0h0m-915 1h0m137 0h0m130 0h0m870 0h0m-1188 1h0m399 0h0m771 1h0m77 0h0m-1267 1h0m185 0h0m121 0h0m465 0h0m585 0h0m-1313 1h0m47 0h0m27 0h0m55 0h0m207 0h0m231 0h0m677 0h0m458 0h0m-1171 2h0m56 0h0m299 0h0m-872 1h0m94 0h0m75 0h0m60 0h0m726 1h0m355 1h0m-886 5h0m-359 1h0m73 0h0m213 0h0m-193 1h0m763 0h0m554 0h0m-1527 1h0m285 0h0m294 0h0m-532 1h0m33 0h0m166 0h0m250 0h0m437 0h0m214 0h0m-801 1h0m35 0h0m55 0h0m-377 1h0m98 0h0m152 0h0m1410 0h0m-1621 1h0m134 0h0m138 0h0m832 0h0m364 0h0m-1540 1h0m146 0h0m1668 0h0m-1051 1h0m429 0h0m-546 1h0m457 0h0m34 0h0m822 0h0m-2005 1h0m157 0h0m132 0h0m55 0h0m101 0h0m944 0h0m-912 1h0m159 0h0m740 0h0m-759 1h0m395 0h0m997 4h0m-1292 2h0m99 0h0m-478 1h0m147 1h0m-450 1h0m18 0h0m127 0h0m20 0h0m98 0h0m1049 0h0m-1257 1h0m301 0h0m40 1h0m766 0h0m344 0h0m-1417 1h0m124 0h0m107 0h0m-135 1h0m56 0h0m142 0h0m57 0h0m-500 1h0m134 0h0m35 0h0m310 0h0m238 0h0m450 0h0m169 0h0m15 0h0m-1162 1h0m150 0h0m67 0h0m413 0h0m-797 1h0m14 0h0m62 0h0m191 1h0m411 0h0m474 0h0m67 0h0m-664 1h0m9 1h0m436 0h0m298 0h0m890 1h0m-2006 6h0m74 0h0m135 0h0m1362 0h0m22 0h0m-1106 1h0m64 0h0m-380 1h0m112 0h0m-246 1h0m90 0h0m1052 0h0m-1072 1h0m83 0h0m115 0h0m198 0h0m-716 1h0m186 0h0m118 0h0m62 1h0m225 0h0m260 0h0m-836 1h0m61 0h0m382 0h0m-415 1h0m17 0h0m36 0h0m58 0h0m118 0h0m166 0h0m430 0h0m-732 1h0m338 0h0m356 0h0m443 0h0m-1157 1h0m114 0h0m795 0h0m-855 1h0m1181 0h0m834 5h0m-1608 1h0m-376 2h0m43 0h0m-87 1h0m159 0h0m497 0h0m-380 1h0m-424 1h0m18 0h0m153 0h0m80 0h0m466 0h0m-389 1h0m182 0h0m199 0h0m66 0h0m406 0h0m-815 1h0m15 0h0m96 0h0m346 0h0m30 0h0m24 0h0m149 0h0m-683 1h0m52 0h0m863 0h0m51 0h0m17 0h0m-1265 1h0m434 0h0m993 0h0m79 0h0m-1495 1h0m673 0h0m-700 1h0m68 0h0m94 0h0m65 0h0m19 0h0m464 0h0m80 0h0m-735 1h0m30 0h0m326 0h0m83 0h0m-100 1h0m953 1h0m885 1h0m-672 1h0m-1043 3h0m301 0h0m942 0h0m-971 2h0m-742 1h0m259 0h0m937 0h0m-1272 1h0m10 0h0m136 0h0m58 0h0m57 0h0m25 0h0m775 0h0m-951 1h0m55 0h0m55 0h0m195 0h0m16 0h0m-108 1h0m37 0h0m394 0h0m-382 1h0m21 0h0m55 0h0m36 0h0m1096 0h0m-1625 1h0m288 0h0m527 0h0m-792 1h0m489 0h0m268 0h0m436 0h0m990 0h0m109 0h0m-2186 1h0m1069 0h0m-967 1h0m762 0h0m-920 1h0m96 0h0m177 0h0m783 0h0m412 0h0m-1441 1h0m916 0h0m-274 1h0m93 0h0m306 0h0m1158 1h0m-801 3h0m-1148 3h0m176 0h0m60 0h0m262 0h0m-803 1h0m179 0h0m16 0h0m42 0h0m89 0h0m37 0h0m571 0h0m-895 1h0m25 0h0m92 0h0m191 0h0m108 0h0m634 0h0m-1068 1h0m103 0h0m126 0h0m262 0h0m-529 1h0m100 0h0m21 0h0m112 0h0m168 0h0m25 1h0m489 0h0m-462 1h0m139 0h0m690 0h0m-845 1h0m779 0h0m38 0h0m-1267 1h0m523 0h0m-218 1h0m901 0h0m258 0h0m-1296 1h0m150 0h0m266 0h0m717 1h0m-208 2h0m161 0h0m-684 4h0m896 1h0m-1438 1h0m221 0h0m722 0h0m311 0h0m-1049 1h0m191 0h0m737 0h0m237 0h0m-1333 1h0m71 0h0m191 0h0m23 0h0m194 0h0m235 0h0m370 0h0m147 0h0m-1293 1h0m92 0h0m307 0h0m79 0h0m-492 1h0m474 0h0m-287 1h0m117 0h0m640 0h0m306 0h0m-1046 2h0m324 0h0m405 0h0m104 0h0m29 0h0m-842 1h0m99 0h0m130 0h0m55 0h0m569 0h0m114 0h0m-1137 1h0m36 0h0m311 0h0m-274 1h0m47 0h0m674 0h0m369 0h0m-1256 1h0m317 0h0m100 0h0m396 0h0m453 0h0m45 0h0m113 1h0m1072 4h0m-2394 4h0m152 0h0m137 0h0m35 0h0m-432 1h0m34 0h0m43 0h0m753 0h0m40 0h0m270 0h0m66 0h0m-1075 1h0m60 0h0m17 0h0m266 0h0m32 0h0m63 0h0m285 0h0m221 0h0m-733 1h0m183 0h0m81 0h0m183 0h0m138 0h0m461 0h0m-629 1h0m51 0h0m73 0h0m274 0h0m130 0h0m77 0h0m-1199 1h0m73 0h0m1031 0h0m-956 1h0m589 0h0m96 0h0m94 0h0m19 0h0m194 0h0m178 0h0m-1264 1h0m82 0h0m60 0h0m15 0h0m1258 0h0m269 0h0m-1849 1h0m33 0h0m190 0h0m139 0h0m34 0h0m43 0h0m286 0h0m-766 1h0m129 0h0m437 0h0m484 0h0m-520 1h0m408 0h0m240 0h0m63 0h0m-289 1h0m391 6h0m448 0h0m-1110 1h0m-669 1h0m153 0h0m592 0h0m149 0h0m90 0h0m61 0h0m16 0h0m-820 1h0m47 0h0m182 0h0m176 0h0m156 0h0m222 0h0m-929 1h0m131 0h0m111 0h0m199 0h0m280 0h0m101 0h0m163 0h0m177 1h0m974 0h0m-2189 1h0m718 0h0m175 0h0m874 0h0m121 0h0m-1965 1h0m430 0h0m171 0h0m591 0h0m-1182 1h0m156 0h0m225 0h0m25 0h0m57 0h0m419 0h0m95 0h0m-761 1h0m15 0h0m249 0h0m54 0h0m686 0h0m-1024 1h0m99 0h0m56 0h0m87 0h0m84 0h0m605 0h0m-1088 1h0m60 0h0m35 0h0m197 0h0m524 0h0m48 0h0m389 0h0m44 0h0m38 0h0m-1295 1h0m501 0h0m447 0h0m237 0h0m49 0h0m953 1h0m-1924 7h0m280 0h0m196 0h0m32 0h0m60 0h0m-540 1h0m327 0h0m307 0h0m52 0h0m-571 1h0m152 0h0m633 0h0m-1257 1h0m158 0h0m148 0h0m245 0h0m196 0h0m429 0h0m95 0h0m38 0h0m-1294 1h0m24 0h0m81 0h0m131 0h0m31 0h0m100 0h0m-399 1h0m193 0h0m229 0h0m30 0h0m673 0h0m715 0h0m16 0h0m-1499 1h0m416 0h0m314 0h0m265 0h0m-1105 1h0m648 0h0m77 0h0m124 0h0m162 0h0m-1168 1h0m22 0h0m39 0h0m320 0h0m41 0h0m19 0h0m18 0h0m402 0h0m-974 1h0m614 0h0m12 0h0m229 0h0m36 0h0m62 0h0m61 0h0m316 0h0m-570 1h0m285 0h0m214 0h0m534 0h0m-1695 1h0m135 0h0m20 0h0m55 0h0m156 0h0m239 0h0m118 0h0m241 0h0m182 0h0m158 0h0m595 2h0m-617 5h0m60 0h0m-1413 1h0m409 0h0m396 0h0m94 0h0m-928 1h0m9 0h0m275 0h0m115 0h0m125 0h0m180 0h0m141 0h0m328 0h0m82 0h0m-691 1h0m78 0h0m77 0h0m631 0h0m-1372 1h0m131 0h0m53 0h0m173 0h0m120 0h0m35 0h0m-413 1h0m20 0h0m108 0h0m165 0h0m825 0h0m-973 1h0m138 0h0m676 0h0m269 0h0m-1252 1h0m361 0h0m60 0h0m73 0h0m192 0h0m40 0h0m200 0h0m124 0h0m53 0h0m59 0h0m69 0h0m1315 0h0m-2015 1h0m35 0h0m135 0h0m358 0h0m440 0h0m256 0h0m86 0h0m-1703 1h0m75 0h0m55 0h0m476 0h0m20 0h0m145 0h0m99 0h0m15 0h0m285 0h0m-1228 1h0m12 0h0m459 0h0m298 0h0m-660 1h0m57 0h0m210 0h0m358 0h0m19 0h0m56 0h0m76 0h0m115 0h0m-129 1h0m259 0h0m303 0h0m-1289 8h0m870 0h0m76 0h0m576 0h0m-1454 1h0m405 0h0m106 0h0m252 0h0m168 0h0m-1287 1h0m38 0h0m94 0h0m37 0h0m173 0h0m36 0h0m870 0h0m-1133 1h0m452 0h0m210 0h0m113 0h0m300 0h0m123 0h0m541 0h0m-1644 1h0m286 0h0m244 0h0m434 0h0m-716 1h0m123 0h0m211 0h0m255 0h0m-1028 1h0m36 0h0m172 0h0m473 0h0m328 0h0m-956 1h0m77 0h0m325 0h0m340 0h0m190 0h0m128 0h0m1230 0h0m-2178 1h0m76 0h0m150 0h0m538 0h0m17 0h0m18 0h0m111 0h0m295 0h0m254 0h0m34 0h0m-1696 1h0m343 0h0m78 0h0m128 0h0m73 0h0m310 0h0m19 0h0m507 0h0m-1345 1h0m342 0h0m71 0h0m120 0h0m453 0h0m138 0h0m397 0h0m-1376 1h0m58 0h0m247 0h0m175 0h0m2535 0h0m-1799 1h0m-1374 7h0m1032 0h0m148 0h0m-1078 1h0m91 0h0m455 0h0m184 0h0m293 0h0m-947 1h0m-200 1h0m76 0h0m79 0h0m171 0h0m138 0h0m56 0h0m286 0h0m95 0h0m59 0h0m11 0h0m115 0h0m173 0h0m-994 1h0m480 0h0m381 0h0m-1194 1h0m37 0h0m717 0h0m227 0h0m-680 1h0m173 0h0m660 0h0m254 0h0m-1374 1h0m41 0h0m186 0h0m82 0h0m111 0h0m14 0h0m119 0h0m55 0h0m-269 1h0m26 0h0m336 0h0m178 0h0m13 0h0m265 0h0m79 0h0m-1137 1h0m16 0h0m77 0h0m211 0h0m94 0h0m190 0h0m128 0h0m118 0h0m133 0h0m-906 1h0m316 0h0m55 0h0m59 0h0m394 0h0m311 0h0m-75 1h0m600 1h0m-1433 7h0m231 0h0m345 0h0m-661 1h0m124 0h0m26 0h0m35 0h0m54 0h0m388 0h0m166 0h0m42 0h0m-960 1h0m382 0h0m744 0h0m-993 1h0m268 0h0m23 0h0m479 0h0m29 0h0m119 0h0m604 0h0m-1463 1h0m616 0h0m343 0h0m-1179 1h0m89 0h0m172 0h0m309 0h0m524 0h0m-1114 1h0m130 0h0m213 0h0m472 0h0m205 0h0m118 0h0m108 0h0m-639 1h0m132 0h0m345 0h0m-1198 1h0m33 0h0m17 0h0m37 0h0m121 0h0m55 0h0m400 0h0m21 0h0m153 0h0m52 0h0m382 0h0m-947 1h0m658 0h0m-914 1h0m80 0h0m41 0h0m152 0h0m145 0h0m20 0h0m671 0h0m166 0h0m-1330 1h0m728 0h0m75 0h0m335 0h0m178 0h0m469 1h0m509 4h0m-2246 3h0m210 0h0m206 0h0m85 0h0m129 0h0m261 0h0m177 0h0m-1009 1h0m90 0h0m161 0h0m867 0h0m118 0h0m-1064 1h0m374 0h0m497 0h0m56 0h0m-1237 1h0m198 0h0m78 0h0m49 0h0m312 0h0m418 0h0m38 0h0m28 0h0m45 0h0m521 0h0m-1643 1h0m21 0h0m399 0h0m17 0h0m40 0h0m97 0h0m1016 0h0m-1615 2h0m330 0h0m247 0h0m136 0h0m-578 1h0m94 0h0m158 0h0m146 0h0m117 0h0m321 0h0m210 0h0m23 0h0m135 0h0m-1183 1h0m194 0h0m457 0h0m125 0h0m115 0h0m270 0h0m-1231 1h0m107 0h0m626 0h0m274 0h0m166 0h0m111 0h0m-1265 1h0m300 0h0m226 0h0m100 0h0m191 0h0m372 0h0m442 0h0m-1307 1h0m94 0h0m1244 2h0m-202 1h0m448 0h0m-248 3h0m-1118 2h0m316 0h0m265 0h0m21 0h0m-1196 1h0m190 0h0m78 0h0m869 0h0m1957 0h0m-3054 1h0m133 0h0m299 0h0m681 0h0m352 0h0m-1014 1h0m362 0h0m399 0h0m-1272 1h0m36 0h0m329 0h0m37 0h0m136 0h0m238 0h0m251 0h0m261 0h0m41 0h0m-1103 1h0m326 0h0m191 0h0m118 0h0m237 0h0m23 0h0m17 0h0m-828 1h0m354 0h0m34 0h0m-734 1h0m204 0h0m80 0h0m662 0h0m58 0h0m37 0h0m254 0h0m715 0h0m-1631 1h0m301 0h0m304 0h0m1333 0h0m-2187 1h0m167 0h0m153 0h0m19 0h0m41 0h0m213 0h0m77 0h0m467 0h0m-1246 1h0m148 0h0m18 0h0m168 0h0m137 0h0m111 0h0m17 0h0m44 0h0m98 0h0m336 0h0m-988 1h0m35 0h0m268 0h0m516 0h0m153 0h0m264 0h0m690 7h0m-1910 1h0m86 0h0m135 0h0m386 0h0m11 0h0m199 0h0m59 0h0m197 0h0m-794 1h0m138 0h0m55 0h0m510 0h0m135 0h0m245 0h0m-1342 1h0m10 0h0m153 0h0m252 0h0m51 0h0m541 0h0m130 0h0m-1198 1h0m704 0h0m282 0h0m322 0h0m1445 0h0m-2828 1h0m36 0h0m413 0h0m248 0h0m104 0h0m151 0h0m51 0h0m212 0h0m156 0h0m1705 0h0m-3058 1h0m171 0h0m299 0h0m323 0h0m77 0h0m77 0h0m-586 1h0m268 0h0m35 0h0m78 0h0m586 0h0m-1022 1h0m113 0h0m137 0h0m541 0h0m142 0h0m-989 1h0m94 0h0m115 0h0m33 0h0m323 0h0m254 0h0m217 0h0m-1016 1h0m133 0h0m198 0h0m287 0h0m382 0h0m-1228 1h0m104 0h0m77 0h0m427 0h0m-571 1h0m124 0h0m820 0h0m115 0h0m21 0h0m155 0h0m958 1h0m-826 2h0m-70 4h0m-1345 1h0m167 0h0m622 0h0m295 1h0m-937 1h0m82 0h0m127 0h0m212 0h0m168 0h0m43 0h0m128 0h0m271 0h0m-854 1h0m18 0h0m29 0h0m80 0h0m822 0h0m12 0h0m-1194 1h0m185 0h0m249 0h0m76 0h0m151 0h0m200 0h0m148 0h0m2000 0h0m-3030 1h0m64 0h0m129 0h0m450 0h0m172 0h0m98 0h0m320 0h0m119 0h0m-1393 1h0m173 0h0m39 0h0m231 0h0m22 0h0m173 0h0m209 0h0m87 0h0m-1018 1h0m474 0h0m125 0h0m157 0h0m317 0h0m-719 1h0m740 0h0m174 0h0m-1105 1h0m398 0h0m178 0h0m509 0h0m55 0h0m-1289 1h0m98 0h0m127 0h0m244 0h0m194 0h0m311 0h0m66 0h0m65 0h0m53 0h0m36 0h0m84 0h0m-1263 1h0m47 0h0m379 0h0m446 0h0m292 0h0m-1153 8h0m134 0h0m950 0h0m82 0h0m1156 0h0m-2353 1h0m93 0h0m316 0h0m133 0h0m-164 1h0m414 0h0m213 0h0m134 0h0m20 0h0m187 0h0m-1082 1h0m456 0h0m145 0h0m119 0h0m72 0h0m-1005 1h0m549 0h0m177 0h0m109 0h0m35 0h0m352 0h0m18 0h0m35 0h0m-1127 1h0m116 0h0m44 0h0m149 0h0m57 0h0m99 0h0m571 0h0m483 0h0m-1533 1h0m91 0h0m19 0h0m101 0h0m130 0h0m102 0h0m409 0h0m36 0h0m179 0h0m-1007 1h0m229 0h0m492 0h0m-817 1h0m677 0h0m277 0h0m111 0h0m-1144 1h0m63 0h0m299 0h0m25 0h0m30 0h0m532 0h0m284 0h0m-1293 1h0m102 0h0m112 0h0m529 0h0m61 0h0m545 0h0m-1385 1h0m359 0h0m248 0h0m58 0h0m92 0h0m117 0h0m64 0h0m31 0h0m-1018 3h0m1900 3h0m-1707 2h0m759 0h0m120 0h0m341 0h0m-893 1h0m129 0h0m97 0h0m-624 1h0m147 0h0m176 0h0m702 0h0m1705 0h0m-2695 1h0m79 0h0m49 0h0m287 0h0m395 0h0m76 0h0m255 0h0m151 0h0m-1104 1h0m75 0h0m38 0h0m149 0h0m703 0h0m81 0h0m-1137 1h0m285 0h0m374 0h0m-603 1h0m173 0h0m204 0h0m40 0h0m286 0h0m13 0h0m75 0h0m119 0h0m309 0h0m1800 0h0m-3187 1h0m73 0h0m111 0h0m77 0h0m150 0h0m115 0h0m129 0h0m102 0h0m96 0h0m125 0h0m151 0h0m158 0h0m-644 1h0m418 0h0m-440 1h0m2104 0h0m203 0h0m-2901 1h0m195 0h0m23 0h0m116 0h0m87 0h0m37 0h0m84 0h0m224 0h0m150 0h0m456 0h0m-717 1h0m10 0h0m328 0h0m214 0h0m424 0h0m-6 1h0m-27 1h0m-1660 4h0m1585 1h0m-880 1h0m840 0h0m100 0h0m-1303 1h0m72 0h0m28 0h0m16 0h0m57 0h0m819 0h0m147 0h0m194 0h0m-1633 1h0m132 0h0m51 0h0m79 0h0m245 0h0m121 0h0m262 0h0m81 0h0m96 0h0m483 0h0m-1571 1h0m38 0h0m148 0h0m153 0h0m329 0h0m50 0h0m74 0h0m44 0h0m211 0h0m68 0h0m-1040 1h0m90 0h0m57 0h0m257 0h0m394 0h0m-362 1h0m89 0h0m408 0h0m258 0h0m210 0h0m-1341 1h0m620 0h0m188 0h0m126 0h0m67 0h0m-1086 1h0m198 0h0m117 0h0m-64 1h0m148 0h0m373 0h0m-730 1h0m175 0h0m286 1h0m20 0h0m14 0h0m111 0h0m42 0h0m116 0h0m246 0h0m-327 1h0m560 1h0m463 0h0m1338 0h0m-1506 4h0m-1524 3h0m304 0h0m1066 0h0m-1447 1h0m153 0h0m886 0h0m60 0h0m-987 1h0m1068 0h0m-938 1h0m537 0h0m-416 1h0m398 0h0m639 0h0m150 0h0m216 0h0m-1726 1h0m378 0h0m221 0h0m62 1h0m2059 0h0m-2666 1h0m97 0h0m239 0h0m383 0h0m269 0h0m-244 1h0m150 0h0m-763 1h0m245 0h0m23 0h0m18 0h0m18 0h0m25 0h0m399 0h0m111 0h0m732 0h0m-1629 1h0m94 0h0m64 0h0m19 0h0m54 0h0m267 0h0m51 0h0m76 0h0m-656 1h0m66 0h0m480 0h0m52 0h0m290 0h0m309 0h0m333 0h0m-1103 1h0m-77 5h0m56 0h0m-513 1h0m908 0h0m591 0h0m-1347 1h0m97 0h0m47 0h0m458 0h0m396 0h0m513 0h0m-1475 1h0m130 0h0m345 1h0m115 0h0m994 0h0m-728 1h0m-322 1h0m77 0h0m681 0h0m-1127 1h0m2375 0h0m-2338 1h0m1131 0h0m-1506 1h0m454 0h0m2243 0h0m-1974 1h0m869 0h0m-1192 1h0m550 0h0m-792 1h0m40 0h0m172 0h0m434 1h0m-477 1h0m152 0h0m1040 0h0m1097 2h0m-2173 3h0m439 0h0m247 0h0m-478 1h0m285 0h0m-226 1h0m769 0h0m-714 1h0m95 0h0m38 0h0m109 0h0m256 0h0m-1082 2h0m602 2h0m135 0h0m312 0h0m-384 1h0m1347 0h0m-1826 1h0m117 0h0m-261 1h0m536 0h0m283 1h0m60 0h0m54 0h0m435 1h0m-900 1h0m-532 1h0m231 0h0m-152 1h0m230 0h0m259 0h0m730 1h0m-1606 3h0m214 0h0m2580 0h0m-2185 1h0m1405 0h0m-1705 1h0m628 0h0m147 0h0m67 0h0m-823 1h0m148 0h0m-138 2h0m1246 0h0m339 0h0m-1541 1h0m326 0h0m189 0h0m163 2h0m-524 1h0m702 0h0m350 0h0m735 0h0m-1734 1h0m828 0h0m-366 1h0m1794 0h0m-2444 1h0m30 0h0m1438 0h0m-1734 1h0m227 0h0m300 0h0m513 0h0m81 0h0m-403 1h0m1972 0h0m-1710 1h0m1805 0h0m-892 1h0m145 2h0m-1798 1h0m306 0h0m161 0h0m1075 0h0m-1353 1h0m127 0h0m423 1h0m143 0h0m-457 1h0m349 1h0m1751 0h0m-1675 1h0m-830 1h0m774 0h0m728 0h0m-1079 1h0m247 0h0m1773 1h0m-2787 1h0m604 0h0m-300 1h0m827 0h0m559 0h0m100 0h0m-1504 1h0m540 0h0m-334 1h0m661 1h0m953 1h0m723 0h0m-1511 1h0m1493 0h0m-2892 2h0m692 2h0m643 1h0m171 1h0m-284 2h0m560 0h0m-713 2h0m191 0h0m-13 1h0m946 3h0m685 1h0m-37 1h0m-2275 7h0m520 6h0m165 1h0m384 1h0m750 0h0m-796 1h0m-13 1h0m1407 0h0m-1942 1h0m960 2h0m-124 1h0m940 0h0m7 0h0m-917 1h0m66 3h0m-1244 1h0m575 0h0m639 0h0m304 0h0m669 0h0m-1039 1h0m605 0h0m-1232 1h0m20 0h0m49 0h0m1518 1h0m-1550 1h0m-539 5h0m1238 0h0m873 0h0m-2178 1h0m2142 0h0m-1145 1h0m-561 1h0m1814 1h0m-1332 1h0m72 0h0m-970 1h0m375 0h0m386 1h0m-782 3h0m1299 1h0m867 0h0m-2259 1h0m724 0h0m18 0h0m1605 0h0m-1010 2h0m-207 2h0m289 1h0m-896 1h0m75 0h0m1554 0h0m-2322 1h0m62 0h0m683 0h0m-37 1h0m327 0h0m1490 1h0m-1326 1h0m-339 3h0m140 1h0m-1398 2h0m1173 1h0m1719 1h0m-1571 1h0m-21 1h0m625 0h0m-1359 3h0m68 0h0m699 0h0m1548 0h0m-2878 2h0m2960 0h0m-1693 1h0m322 0h0m-1018 1h0m1619 0h0m122 0h0m427 3h0m-2365 5h0m807 2h0m391 0h0m-1563 1h0m2197 0h0m-872 1h0m966 0h0m-1764 2h0m941 2h0m1312 0h0m-1550 1h0m871 0h0m-919 3h0m150 2h0m-134 1h0m1654 1h0m36 0h0m-1314 4h0m1323 0h0m-1551 3h0m-14 1h0m916 1h0m-36 2h0m560 0h0m65 1h0m7 0h0m29 0h0m-289 5h0m68 4h0m218 4h0m-62 4h0m-1363 5h0m533 2h0m856 2h0m-2361 4h0m2337 0h0m-1376 8h0m205 1h0m-212 6h0m126 1h0m81 11h0m1064 7h0m-2 4h0m-885 1h0m1029 6h0m-1234 4h0m1214 1h0m-498 4h0m420 11h0m-1183 4h0m480 11h0m293 10h0m-603 7h0m-110 11h0m693 0h0m-626 3h0m1121 6h0m-1207 11h0m619 12h0m-609 7h0m10 0h0m87 14h0m-402 10h0m200 4h0m185 0h0m-347 4h0m127 0h0m25 5h0m1088 14h0m-967 1h0m-95 32h0m136 22h0m469 2h0m-623 15h0m1279 11h0m-1206 23h0m-72 31h0m505 38h0m498 18h0m-1232 162h0m32 44h0m114 21h0m-176 7h0m-29 18h0m-58 21h0m22 28h0" stroke="#ad3f46" stroke-width="29" stroke-linecap="round" fill="none"/></g><path d="M814.2 75.19999999999999V60.8a10 10 0 0 1 10 -10H1168.4a10 10 0 0 1 10 10V75.19999999999999Z" fill="#fff"/><text x="923.6" y="70.0" textLength="145.5" lengthAdjust="spacingAndGlyphs" font-family="'Liberation Serif',serif" font-style="italic" font-size="19.5" fill="#1a1a1a">Volodymyr Zelensky</text><g transform="translate(795.0,0)"><polygon points="53.3,108.7 63.0,107.5 73.3,99.7 88.3,99.0 106.7,101.2 128.3,107.8 144.7,108.8 152.5,113.0 159.7,108.3 165.0,115.2 181.3,113.5 189.7,116.2 190.8,101.7 197.5,95.3 213.3,93.2 221.5,94.5 226.0,88.2 238.0,88.5 251.7,86.3 258.3,92.5 265.0,102.0 259.0,111.0 261.7,118.0 276.7,119.7 284.0,132.0 283.8,138.0 309.0,148.0 323.5,143.5 335.5,157.2 346.7,157.0 375.3,166.5 375.6,175.5 367.0,190.8 372.0,206.5 368.7,216.3 350.0,218.2 340.0,227.8 339.5,239.2 325.5,241.7 311.5,251.3 294.0,253.3 281.9,258.3 275.7,263.7 276.5,281.5 286.1,289.0 305.7,287.5 302.1,297.6 280.7,303.6 254.5,319.3 244.4,312.5 248.0,300.5 227.3,291.3 231.3,285.3 248.6,275.5 243.6,269.4 213.5,262.0 211.8,251.2 193.9,254.8 187.3,270.5 172.0,292.4 163.0,287.3 153.9,292.2 145.4,286.7 150.1,283.3 159.2,262.4 157.7,260.5 158.2,258.1 161.5,257.1 163.5,260.5 174.4,261.0 180.1,259.0 177.3,256.2 177.7,251.9 171.1,244.3 170.1,240.0 167.5,233.0 160.8,227.2 162.0,217.5 153.3,209.7 145.8,208.7 130.8,200.0 120.8,201.7 113.3,206.7 105.8,208.3 100.8,213.7 85.8,216.7 79.5,221.0 70.3,214.2 60.0,213.7 46.3,210.5 38.0,216.3 35.8,208.3 25.8,200.8 31.3,186.7 34.7,182.0 38.7,183.0 33.7,170.5 52.5,145.5 61.3,142.5 63.7,135.0" fill="#fff"/><polygon points="248.6,275.5 243.6,269.4 248.0,270.5 276.0,272.5 276.5,281.5 286.1,289.0 305.7,287.5 302.1,297.6 280.7,303.6 254.5,319.3 244.4,312.5 248.0,300.5 227.3,291.3 231.3,285.3" fill="url(#h)"/><polygon points="352.5,194.5 369.0,199.0 372.0,206.5 368.7,216.3 350.0,218.2 340.0,227.8 339.5,239.2 335.5,239.9 333.0,232.5 331.5,224.5 328.0,218.0" fill="url(#h)"/><polygon points="53.3,108.7 63.0,107.5 73.3,99.7 88.3,99.0 106.7,101.2 128.3,107.8 144.7,108.8 152.5,113.0 159.7,108.3 165.0,115.2 181.3,113.5 189.7,116.2 190.8,101.7 197.5,95.3 213.3,93.2 221.5,94.5 226.0,88.2 238.0,88.5 251.7,86.3 258.3,92.5 265.0,102.0 259.0,111.0 261.7,118.0 276.7,119.7 284.0,132.0 283.8,138.0 309.0,148.0 323.5,143.5 335.5,157.2 346.7,157.0 375.3,166.5 375.6,175.5 367.0,190.8 372.0,206.5 368.7,216.3 350.0,218.2 340.0,227.8 339.5,239.2 325.5,241.7 311.5,251.3 294.0,253.3 281.9,258.3 275.7,263.7 276.5,281.5 286.1,289.0 305.7,287.5 302.1,297.6 280.7,303.6 254.5,319.3 244.4,312.5 248.0,300.5 227.3,291.3 231.3,285.3 248.6,275.5 243.6,269.4 213.5,262.0 211.8,251.2 193.9,254.8 187.3,270.5 172.0,292.4 163.0,287.3 153.9,292.2 145.4,286.7 150.1,283.3 159.2,262.4 157.7,260.5 158.2,258.1 161.5,257.1 163.5,260.5 174.4,261.0 180.1,259.0 177.3,256.2 177.7,251.9 171.1,244.3 170.1,240.0 167.5,233.0 160.8,227.2 162.0,217.5 153.3,209.7 145.8,208.7 130.8,200.0 120.8,201.7 113.3,206.7 105.8,208.3 100.8,213.7 85.8,216.7 79.5,221.0 70.3,214.2 60.0,213.7 46.3,210.5 38.0,216.3 35.8,208.3 25.8,200.8 31.3,186.7 34.7,182.0 38.7,183.0 33.7,170.5 52.5,145.5 61.3,142.5 63.7,135.0" fill="none" stroke="#565b60" stroke-width="1.3" stroke-linejoin="round"/><path transform="scale(.1)" d="M2446 880h0m37 2h0m-217 2h0m58 3h0m-32 1h0m14 1h0m120 0h0m32 0h0m-143 7h0m235 1h0m-282 3h0m85 4h0m-107 1h0m262 0h0m-43 1h0m-163 2h0m-17 1h0m254 7h0m-172 1h0m209 0h0m-61 2h0m-78 2h0m-14 1h0m-154 1h0m116 1h0m22 1h0m-150 2h0m246 0h0m-257 7h0m141 1h0m96 0h0m-7 2h0m92 0h0m-193 1h0m206 0h0m-72 1h0m-479 1h0m18 0h0m366 0h0m20 0h0m112 1h0m-89 1h0m-373 2h0m41 2h0m400 0h0m-330 6h0m-36 1h0m232 1h0m-365 1h0m60 1h0m-24 1h0m38 0h0m363 1h0m70 0h0m-530 1h0m423 0h0m20 1h0m53 0h0m-159 1h0m-223 1h0m363 0h0m99 0h0m-589 1h0m409 0h0m158 1h0m32 0h0m-77 1h0m-304 1h0m-213 7h0m35 0h0m459 1h0m51 0h0m19 0h0m-103 1h0m-352 1h0m-128 1h0m92 0h0m510 0h0m-242 1h0m282 1h0m-208 1h0m-276 1h0m221 0h0m80 0h0m-420 1h0m585 0h0m-640 2h0m307 0h0m198 0h0m-278 1h0m-54 7h0m-171 1h0m290 0h0m211 0h0m129 0h0m-1689 1h0m1594 0h0m-267 1h0m339 0h0m-455 1h0m60 0h0m-1369 1h0m116 0h0m-90 1h0m1114 0h0m576 0h0m108 0h0m-186 1h0m166 0h0m-398 1h0m134 3h0m77 0h0m113 0h0m-129 1h0m-275 6h0m87 0h0m26 0h0m-1426 1h0m1266 0h0m-1117 1h0m1182 0h0m14 0h0m320 0h0m-1576 1h0m119 0h0m889 0h0m22 0h0m705 0h0m-1762 1h0m9 0h0m1186 0h0m341 0h0m-208 1h0m-1368 1h0m199 0h0m1435 0h0m-282 1h0m339 0h0m-580 1h0m105 2h0m370 0h0m122 0h0m-268 1h0m33 0h0m-1605 1h0m287 0h0m1569 0h0m42 0h0m15 0h0m-1877 1h0m267 0h0m-122 6h0m1385 0h0m-1578 1h0m201 0h0m1456 0h0m-392 1h0m173 0h0m151 0h0m26 0h0m-1384 1h0m1016 0h0m379 0h0m240 0h0m-1779 1h0m1204 0h0m438 0h0m-1651 1h0m1823 0h0m-1768 1h0m145 0h0m1052 0h0m51 0h0m502 0h0m-43 1h0m99 0h0m-1616 1h0m-306 1h0m12 0h0m1275 0h0m119 0h0m111 0h0m-1238 1h0m141 0h0m915 0h0m150 0h0m12 0h0m194 0h0m208 0h0m-1861 1h0m1153 0h0m276 0h0m319 0h0m-1394 2h0m914 6h0m299 0h0m-1570 1h0m69 0h0m174 0h0m1308 0h0m288 0h0m10 0h0m-67 2h0m-1506 1h0m910 0h0m493 0h0m86 0h0m30 0h0m-589 1h0m617 0h0m-1794 1h0m1849 0h0m-645 1h0m206 0h0m281 0h0m-260 1h0m10 0h0m-1461 1h0m383 0h0m1316 1h0m-370 1h0m289 0h0m-1483 1h0m234 0h0m-403 1h0m133 0h0m97 0h0m1045 0h0m265 0h0m16 0h0m-1304 1h0m-245 5h0m1256 0h0m183 0h0m228 1h0m49 0h0m-1659 1h0m71 0h0m1091 1h0m55 0h0m-1174 1h0m1739 0h0m-1796 1h0m460 0h0m1039 0h0m210 0h0m69 1h0m-1408 1h0m1355 0h0m-1650 2h0m73 0h0m1386 0h0m120 0h0m167 0h0m-1476 1h0m847 0h0m255 0h0m244 0h0m-552 1h0m219 1h0m403 0h0m82 0h0m-1414 1h0m728 0h0m264 0h0m323 0h0m-1909 5h0m222 0h0m258 1h0m1053 0h0m43 0h0m-1597 1h0m516 0h0m835 0h0m265 0h0m-1449 1h0m368 0h0m280 0h0m-192 1h0m-586 1h0m1881 0h0m-1728 1h0m1655 0h0m-1124 1h0m978 0h0m-1731 1h0m296 0h0m497 0h0m1125 0h0m-60 1h0m-1172 1h0m88 0h0m720 1h0m406 0h0m-1264 1h0m931 0h0m400 0h0m-360 1h0m237 0h0m85 0h0m-257 2h0m-1223 5h0m265 0h0m67 0h0m974 0h0m51 0h0m42 0h0m-1009 1h0m17 0h0m638 0h0m87 0h0m-1579 1h0m911 0h0m-387 1h0m1377 0h0m-1817 1h0m78 0h0m1819 0h0m-1996 1h0m762 0h0m798 0h0m322 0h0m73 0h0m-1404 1h0m114 0h0m414 0h0m826 0h0m-1122 1h0m-133 2h0m411 0h0m872 0h0m39 0h0m-1853 1h0m171 0h0m420 0h0m-579 1h0m1924 0h0m-1985 2h0m616 1h0m-323 5h0m260 0h0m-347 1h0m153 0h0m1075 0h0m410 0h0m-1690 1h0m446 0h0m1331 0h0m18 0h0m18 1h0m-1890 1h0m370 0h0m69 0h0m75 0h0m887 0h0m344 0h0m69 0h0m-1661 1h0m1624 0h0m-1765 1h0m633 0h0m-617 1h0m569 0h0m231 0h0m798 0h0m-1215 1h0m341 0h0m815 0h0m78 0h0m156 0h0m-1638 1h0m1374 0h0m19 0h0m-1637 1h0m443 1h0m36 0h0m275 0h0m743 0h0m-1369 1h0m682 0h0m496 0h0m614 0h0m-1022 1h0m33 0h0m-267 1h0m-69 4h0m-240 1h0m172 0h0m353 0h0m45 0h0m-511 1h0m1211 1h0m-1062 1h0m17 0h0m613 0h0m445 0h0m-1441 1h0m123 0h0m146 0h0m377 0h0m309 0h0m756 0h0m16 0h0m-1598 1h0m369 0h0m469 0h0m65 0h0m667 0h0m-1881 2h0m950 0h0m987 0h0m10 0h0m-1890 1h0m55 0h0m90 0h0m647 0h0m248 0h0m18 0h0m78 0h0m55 0h0m22 0h0m-462 1h0m214 0h0m574 0h0m257 0h0m116 0h0m-2031 1h0m782 0h0m249 0h0m867 0h0m-1770 1h0m198 0h0m374 0h0m649 0h0m224 0h0m132 1h0m180 0h0m-1804 1h0m66 0h0m144 0h0m-194 5h0m630 0h0m-646 1h0m114 0h0m67 0h0m1420 0h0m358 0h0m-2038 1h0m210 0h0m24 0h0m875 0h0m-661 1h0m845 0h0m-1225 1h0m496 0h0m34 0h0m684 0h0m78 0h0m60 0h0m-1144 1h0m895 0h0m773 0h0m64 0h0m12 0h0m-962 1h0m72 0h0m738 0h0m55 0h0m-1746 1h0m613 0h0m20 0h0m72 0h0m496 0h0m314 0h0m-30 1h0m245 0h0m-586 1h0m638 1h0m-1934 1h0m268 0h0m286 0h0m40 0h0m450 0h0m193 0h0m624 0h0m96 0h0m-1671 1h0m830 0h0m105 0h0m91 0h0m224 0h0m-1138 1h0m661 0h0m-960 1h0m37 0h0m360 0h0m496 0h0m-254 1h0m-5 4h0m53 0h0m-531 1h0m124 0h0m233 0h0m878 0h0m-156 1h0m182 0h0m-539 1h0m765 0h0m285 0h0m-2001 1h0m1556 0h0m37 0h0m329 0h0m-908 1h0m170 0h0m97 0h0m525 0h0m-1829 1h0m500 0h0m26 0h0m489 0h0m379 0h0m425 0h0m48 0h0m-204 1h0m12 0h0m309 0h0m75 0h0m-627 1h0m-1366 1h0m119 0h0m958 0h0m274 0h0m-1146 1h0m62 0h0m246 0h0m467 0h0m80 0h0m727 0h0m-1859 1h0m1186 0h0m49 0h0m-1183 1h0m550 0h0m1010 0h0m281 0h0m232 0h0m-1905 1h0m207 0h0m123 0h0m564 0h0m64 0h0m114 0h0m26 0h0m41 0h0m610 0h0m35 0h0m75 0h0m-1840 1h0m150 0h0m473 0h0m515 0h0m-1274 1h0m661 5h0m-39 1h0m359 0h0m96 0h0m435 0h0m461 0h0m95 0h0m-1825 1h0m151 0h0m197 0h0m450 0h0m99 0h0m809 1h0m85 0h0m-2100 1h0m409 0h0m352 0h0m495 0h0m453 0h0m-1177 1h0m1337 0h0m11 0h0m66 0h0m-1986 1h0m1341 0h0m599 0h0m-1325 1h0m290 0h0m262 0h0m58 0h0m95 0h0m687 0h0m-47 1h0m-1433 1h0m36 0h0m564 0h0m224 0h0m765 0h0m-1912 1h0m659 0h0m421 0h0m319 0h0m-946 1h0m256 0h0m288 0h0m438 0h0m193 0h0m194 0h0m12 0h0m112 0h0m46 0h0m-1766 1h0m680 0h0m782 0h0m-1215 1h0m691 0h0m135 1h0m-1379 4h0m730 0h0m-492 1h0m-347 1h0m806 0h0m1381 0h0m-1337 1h0m297 0h0m-1048 1h0m134 0h0m388 0h0m160 0h0m435 0h0m138 0h0m-608 1h0m430 0h0m192 0h0m629 0h0m-895 1h0m191 0h0m113 0h0m403 0h0m96 0h0m75 0h0m110 0h0m19 0h0m17 0h0m-1935 1h0m539 0h0m398 0h0m128 0h0m243 0h0m576 0h0m-2029 1h0m242 0h0m536 0h0m453 0h0m150 0h0m431 0h0m87 0h0m73 0h0m-1965 1h0m362 0h0m822 0h0m93 0h0m158 0h0m391 0h0m-1440 1h0m90 0h0m24 0h0m-411 1h0m506 0h0m433 0h0m539 0h0m305 0h0m33 0h0m-1047 1h0m91 0h0m-324 1h0m362 0h0m118 0h0m43 0h0m115 0h0m238 0h0m278 0h0m206 0h0m136 0h0m-1558 1h0m272 0h0m551 0h0m-1118 1h0m-327 5h0m811 0h0m18 0h0m778 0h0m-1472 1h0m1667 0h0m195 0h0m144 0h0m-1591 1h0m147 0h0m160 0h0m146 0h0m27 0h0m980 0h0m120 0h0m-685 1h0m391 0h0m217 0h0m19 0h0m-2032 1h0m1268 0h0m-1066 1h0m514 1h0m459 0h0m19 0h0m90 0h0m537 0h0m-1807 1h0m1085 0h0m14 0h0m100 0h0m19 0h0m94 0h0m462 0h0m92 0h0m-1824 1h0m18 0h0m307 0h0m17 0h0m280 0h0m1167 0h0m152 0h0m72 0h0m-1808 1h0m264 0h0m114 0h0m665 0h0m-1270 1h0m576 0h0m834 0h0m457 0h0m142 0h0m116 0h0m-1530 1h0m205 0h0m320 0h0m102 0h0m160 0h0m494 0h0m-770 1h0m465 0h0m23 0h0m301 0h0m-1171 2h0m-568 4h0m-162 1h0m776 0h0m-815 1h0m631 0h0m1175 0h0m114 0h0m54 0h0m56 0h0m-1003 1h0m238 0h0m313 0h0m180 0h0m194 0h0m139 0h0m-731 1h0m121 0h0m536 0h0m-2032 1h0m67 0h0m423 0h0m638 0h0m176 0h0m330 0h0m285 0h0m30 0h0m195 0h0m-1130 1h0m631 0h0m-1437 1h0m985 0h0m338 0h0m342 0h0m191 0h0m-1443 1h0m534 0h0m21 0h0m939 0h0m-1614 1h0m475 0h0m349 0h0m151 0h0m318 0h0m389 0h0m-934 1h0m607 0h0m232 0h0m68 0h0m-1415 1h0m490 0h0m780 0h0m-1888 1h0m404 0h0m681 0h0m57 0h0m341 0h0m228 0h0m-1590 1h0m1115 0h0m-1055 1h0m346 5h0m1007 1h0m129 0h0m35 0h0m-1688 1h0m86 0h0m902 0h0m38 0h0m76 0h0m251 0h0m480 0h0m-1924 1h0m1405 0h0m195 0h0m340 0h0m17 0h0m78 0h0m-877 1h0m149 0h0m419 0h0m154 0h0m127 0h0m-719 1h0m515 0h0m330 0h0m-1777 1h0m1205 0h0m603 0h0m-1788 1h0m477 0h0m366 0h0m360 0h0m106 0h0m142 0h0m317 0h0m-1938 1h0m765 0h0m356 0h0m170 0h0m473 0h0m134 0h0m-1533 1h0m155 0h0m514 0h0m600 0h0m-1768 1h0m1030 0h0m165 0h0m495 0h0m-1370 1h0m231 0h0m363 0h0m268 0h0m167 0h0m574 0h0m-927 1h0m68 0h0m40 0h0m301 0h0m578 0h0m-1714 1h0m309 0h0m699 0h0m-546 1h0m-665 1h0m519 0h0m-497 4h0m590 1h0m70 0h0m786 0h0m-1536 1h0m236 0h0m864 0h0m130 0h0m102 0h0m188 0h0m318 0h0m-1138 1h0m203 0h0m391 0h0m8 0h0m-1226 1h0m948 0h0m54 0h0m833 0h0m-1652 1h0m780 0h0m454 0h0m266 0h0m179 0h0m71 0h0m-898 1h0m542 0h0m374 0h0m-1883 1h0m915 0h0m135 0h0m285 0h0m397 0h0m205 0h0m-530 1h0m417 0h0m-1671 1h0m361 0h0m480 0h0m811 0h0m43 0h0m59 0h0m-304 1h0m58 0h0m85 0h0m-1056 1h0m343 0h0m39 0h0m853 0h0m-1718 1h0m650 0h0m364 0h0m-628 1h0m72 0h0m349 0h0m190 0h0m40 0h0m34 0h0m23 0h0m333 0h0m46 0h0m28 0h0m251 0h0m-1560 1h0m380 0h0m58 0h0m422 0h0m172 0h0m10 0h0m-786 5h0m-742 1h0m289 0h0m633 0h0m400 0h0m244 0h0m-1680 1h0m599 0h0m209 0h0m340 0h0m78 0h0m172 0h0m474 0h0m167 0h0m-1274 1h0m476 1h0m687 0h0m30 0h0m-1824 1h0m569 0h0m172 0h0m177 0h0m548 0h0m21 0h0m39 0h0m190 0h0m283 0h0m38 0h0m-1489 1h0m99 0h0m303 0h0m41 0h0m151 0h0m83 0h0m523 0h0m56 0h0m170 0h0m-1494 1h0m546 0h0m427 0h0m508 0h0m-2127 1h0m100 0h0m14 0h0m1360 0h0m577 0h0m136 0h0m-1528 1h0m475 0h0m95 0h0m707 0h0m92 0h0m76 0h0m-2087 1h0m114 0h0m874 0h0m532 0h0m471 0h0m-791 1h0m222 0h0m400 0h0m16 0h0m-566 1h0m-874 1h0m1365 0h0m44 0h0m271 0h0m-1072 1h0m503 0h0m-1126 1h0m574 0h0m-816 4h0m649 1h0m651 0h0m-1340 1h0m200 0h0m870 0h0m-565 1h0m433 0h0m167 0h0m383 0h0m61 0h0m263 0h0m132 0h0m-1611 1h0m452 0h0m95 0h0m15 0h0m357 0h0m477 0h0m-1671 1h0m806 0h0m84 0h0m275 0h0m303 0h0m478 0h0m-1427 1h0m509 0h0m96 0h0m57 0h0m434 0h0m123 0h0m-1484 1h0m819 0h0m225 0h0m-1334 1h0m592 0h0m413 0h0m137 0h0m608 0h0m-1860 1h0m1142 0h0m89 0h0m357 0h0m197 0h0m53 0h0m179 0h0m29 0h0m17 0h0m-1877 1h0m77 0h0m533 0h0m30 0h0m1094 0h0m-436 1h0m11 0h0m304 0h0m154 0h0m176 0h0m36 0h0m-1259 1h0m190 0h0m840 0h0m-1329 1h0m77 0h0m372 0h0m457 0h0m212 0h0m378 0h0m76 0h0m-1974 1h0m719 0h0m533 0h0m-1318 6h0m577 1h0m412 0h0m110 0h0m84 0h0m407 0h0m41 0h0m-1643 1h0m321 0h0m373 0h0m931 0h0m312 0h0m95 0h0m-2153 1h0m83 0h0m987 0h0m294 0h0m672 0h0m-1068 1h0m189 0h0m56 0h0m313 0h0m304 0h0m-329 1h0m288 0h0m283 0h0m-1784 1h0m119 0h0m738 0h0m1023 0h0m-1865 1h0m230 0h0m152 0h0m518 0h0m701 0h0m53 0h0m-1979 1h0m441 0h0m662 0h0m103 0h0m732 0h0m-885 1h0m377 0h0m53 0h0m646 0h0m-1834 1h0m46 0h0m59 0h0m254 0h0m667 0h0m32 0h0m155 0h0m453 0h0m156 0h0m-843 1h0m99 0h0m497 0h0m38 0h0m-1638 1h0m795 0h0m59 0h0m174 0h0m524 0h0m61 0h0m-1188 1h0m132 0h0m904 0h0m-1401 6h0m68 0h0m277 1h0m103 0h0m607 0h0m409 0h0m-1633 1h0m998 0h0m-714 1h0m787 0h0m169 0h0m110 0h0m406 0h0m30 0h0m151 0h0m80 0h0m-1861 1h0m780 0h0m194 0h0m173 0h0m140 0h0m122 0h0m318 0h0m-1895 1h0m203 0h0m1485 0h0m285 0h0m-1829 1h0m727 0h0m172 0h0m117 0h0m40 0h0m388 0h0m26 0h0m242 0h0m-647 1h0m74 0h0m-1401 1h0m635 0h0m330 0h0m174 0h0m156 0h0m454 0h0m363 0h0m-1178 1h0m241 0h0m383 0h0m344 0h0m-1923 1h0m1121 0h0m114 0h0m466 0h0m141 0h0m27 0h0m13 0h0m101 0h0m208 0h0m-1937 1h0m1291 0h0m261 0h0m-695 1h0m149 0h0m700 0h0m186 0h0m-2166 1h0m630 0h0m-601 6h0m437 0h0m143 0h0m18 0h0m969 0h0m143 0h0m-1690 1h0m820 0h0m245 0h0m253 0h0m264 0h0m303 0h0m-878 1h0m235 0h0m227 0h0m-724 1h0m376 0h0m245 0h0m614 0h0m14 0h0m-1464 1h0m427 0h0m391 0h0m323 0h0m138 0h0m-929 1h0m297 0h0m481 0h0m-747 1h0m57 0h0m137 0h0m317 0h0m308 0h0m464 0h0m-1299 1h0m92 0h0m230 0h0m77 0h0m44 0h0m106 0h0m78 0h0m310 0h0m17 0h0m167 0h0m92 0h0m26 0h0m-232 1h0m196 0h0m-1008 1h0m466 0h0m382 0h0m136 0h0m-1026 1h0m211 0h0m358 0h0m552 0h0m-2131 1h0m897 0h0m776 0h0m75 0h0m168 0h0m106 0h0m-1338 1h0m137 0h0m339 0h0m74 0h0m117 0h0m16 0h0m199 0h0m256 0h0m67 0h0m217 0h0m-2177 2h0m213 0h0m1473 5h0m-519 1h0m412 0h0m137 0h0m110 0h0m-1830 1h0m1227 0h0m593 0h0m376 0h0m-1249 1h0m262 0h0m119 0h0m185 0h0m56 0h0m188 0h0m169 0h0m134 0h0m-1999 1h0m259 0h0m74 0h0m87 0h0m258 0h0m511 0h0m239 0h0m132 0h0m428 0h0m-1509 1h0m157 0h0m270 0h0m465 0h0m459 0h0m61 0h0m55 0h0m137 0h0m38 0h0m35 0h0m12 0h0m-1781 1h0m234 0h0m86 0h0m56 0h0m519 0h0m566 0h0m-871 1h0m24 0h0m56 0h0m10 0h0m257 0h0m93 0h0m683 0h0m-1698 1h0m457 0h0m156 0h0m23 0h0m57 0h0m124 0h0m327 0h0m55 0h0m587 0h0m25 0h0m-1279 1h0m270 0h0m131 0h0m476 0h0m-1823 1h0m928 0h0m382 0h0m348 0h0m145 0h0m268 0h0m-1236 1h0m762 0h0m146 0h0m195 0h0m-1967 1h0m269 0h0m230 0h0m239 0h0m153 0h0m396 0h0m153 0h0m69 0h0m209 0h0m46 0h0m182 0h0m57 0h0m56 0h0m-1062 1h0m537 0h0m-1242 4h0m-272 2h0m545 0h0m118 1h0m572 0h0m607 0h0m-1944 1h0m498 0h0m477 0h0m232 0h0m226 0h0m90 0h0m172 0h0m207 0h0m95 0h0m-1243 1h0m380 0h0m46 0h0m425 0h0m188 0h0m132 0h0m330 0h0m399 0h0m-2403 1h0m328 0h0m41 0h0m238 0h0m710 0h0m304 0h0m340 0h0m-1694 1h0m576 0h0m752 0h0m321 0h0m-1136 1h0m75 0h0m132 0h0m20 0h0m209 0h0m77 0h0m177 0h0m248 0h0m332 0h0m23 0h0m-1692 1h0m814 0h0m444 0h0m247 0h0m18 0h0m192 0h0m-1952 1h0m1640 0h0m66 0h0m13 0h0m-1571 1h0m473 0h0m401 0h0m88 0h0m75 0h0m-685 1h0m267 0h0m66 0h0m50 0h0m479 0h0m264 0h0m54 0h0m152 0h0m56 0h0m-1939 1h0m475 0h0m62 0h0m76 0h0m186 0h0m475 0h0m153 0h0m59 0h0m360 0h0m75 0h0m-1671 1h0m115 0h0m130 0h0m79 0h0m154 0h0m280 0h0m390 0h0m75 0h0m165 0h0m83 0h0m-1799 3h0m395 4h0m139 0h0m10 0h0m401 1h0m632 0h0m106 0h0m343 0h0m19 0h0m29 0h0m-1607 1h0m370 0h0m514 0h0m396 0h0m147 0h0m248 0h0m-1650 1h0m356 0h0m136 0h0m73 0h0m250 0h0m173 0h0m338 0h0m23 0h0m166 0h0m120 0h0m-1843 1h0m56 0h0m415 0h0m55 0h0m97 0h0m766 0h0m30 0h0m284 0h0m371 0h0m-2128 1h0m202 0h0m76 0h0m595 0h0m186 0h0m327 0h0m185 0h0m116 0h0m-1030 1h0m112 0h0m84 0h0m451 0h0m58 0h0m492 0h0m302 0h0m-1341 1h0m324 0h0m186 0h0m232 0h0m74 0h0m80 0h0m-2097 1h0m730 0h0m124 0h0m265 0h0m156 0h0m17 0h0m20 0h0m14 0h0m83 0h0m508 0h0m405 0h0m-2331 1h0m485 0h0m56 0h0m71 0h0m478 0h0m267 0h0m533 0h0m235 0h0m148 0h0m229 0h0m39 0h0m-2080 1h0m579 0h0m448 0h0m119 0h0m19 0h0m167 0h0m350 0h0m-1735 1h0m25 0h0m89 0h0m233 0h0m640 0h0m45 0h0m220 0h0m156 0h0m231 0h0m-1196 1h0m39 0h0m13 0h0m690 0h0m-800 7h0m-94 1h0m114 0h0m48 0h0m74 0h0m276 0h0m64 0h0m172 0h0m40 0h0m124 0h0m152 0h0m192 0h0m82 0h0m452 0h0m-1974 1h0m551 0h0m78 0h0m164 0h0m370 0h0m185 0h0m62 0h0m51 0h0m21 0h0m70 0h0m391 0h0m-2598 1h0m692 0h0m22 0h0m1253 0h0m288 0h0m19 0h0m239 0h0m-1626 1h0m414 0h0m-766 1h0m270 0h0m166 0h0m350 0h0m74 0h0m345 0h0m89 0h0m572 0h0m157 0h0m-1825 1h0m184 0h0m235 0h0m33 0h0m839 0h0m393 0h0m-1740 1h0m222 0h0m594 0h0m74 0h0m78 0h0m301 0h0m741 0h0m-2071 1h0m214 0h0m638 0h0m521 0h0m353 0h0m-1838 1h0m18 0h0m566 0h0m44 0h0m645 0h0m146 0h0m151 0h0m258 0h0m56 0h0m336 0h0m-2083 1h0m730 0h0m62 0h0m171 0h0m76 0h0m174 0h0m381 0h0m220 0h0m-1436 1h0m16 0h0m133 0h0m167 0h0m323 0h0m41 0h0m97 0h0m363 0h0m32 0h0m101 0h0m20 0h0m123 0h0m-1838 1h0m516 0h0m431 0h0m501 0h0m324 0h0m237 0h0m-2111 6h0m-537 1h0m634 0h0m186 0h0m1790 0h0m-1356 1h0m307 0h0m52 0h0m630 0h0m-1532 1h0m32 0h0m651 0h0m114 0h0m30 0h0m324 0h0m78 0h0m188 0h0m210 0h0m95 0h0m20 0h0m-1486 1h0m233 0h0m510 0h0m762 0h0m-1904 1h0m519 0h0m395 0h0m177 0h0m13 0h0m234 0h0m152 0h0m341 0h0m355 0h0m-2103 1h0m15 0h0m24 0h0m299 0h0m153 0h0m262 0h0m21 0h0m103 0h0m221 0h0m169 0h0m191 0h0m112 0h0m40 0h0m-1531 1h0m144 0h0m434 0h0m382 0h0m388 0h0m17 0h0m49 0h0m133 0h0m87 0h0m-1804 1h0m219 0h0m156 0h0m283 0h0m154 0h0m69 0h0m-677 1h0m88 0h0m221 0h0m56 0h0m50 0h0m53 0h0m496 0h0m40 0h0m38 0h0m215 0h0m299 0h0m309 0h0m37 0h0m112 0h0m-2788 1h0m1039 0h0m18 0h0m415 0h0m141 0h0m28 0h0m401 0h0m381 0h0m80 0h0m36 0h0m193 0h0m-1766 1h0m827 0h0m385 0h0m37 0h0m178 0h0m-1581 1h0m478 0h0m600 0h0m93 0h0m215 0h0m496 0h0m-1681 1h0m163 0h0m796 0h0m39 0h0m700 1h0m42 0h0m-2066 7h0m359 0h0m974 0h0m435 0h0m-1907 1h0m43 0h0m158 0h0m130 0h0m88 0h0m24 0h0m555 0h0m181 0h0m23 0h0m114 0h0m109 0h0m232 0h0m214 0h0m300 0h0m17 0h0m-2163 1h0m510 0h0m217 0h0m130 0h0m78 0h0m283 0h0m91 0h0m416 0h0m98 0h0m149 0h0m-1785 1h0m458 0h0m367 0h0m132 0h0m543 0h0m79 0h0m344 0h0m116 0h0m-1902 1h0m668 0h0m523 0h0m428 0h0m18 0h0m174 0h0m-1753 1h0m115 0h0m320 0h0m253 0h0m171 0h0m369 0h0m307 0h0m154 0h0m-1713 1h0m97 0h0m745 0h0m335 0h0m64 0h0m390 0h0m44 0h0m-1898 1h0m73 0h0m423 0h0m29 0h0m99 0h0m21 0h0m56 0h0m268 0h0m288 0h0m161 0h0m25 0h0m227 0h0m58 0h0m335 0h0m-1116 1h0m34 0h0m137 0h0m17 0h0m149 0h0m253 0h0m386 0h0m-1958 1h0m127 0h0m17 0h0m310 0h0m322 0h0m11 0h0m439 0h0m157 0h0m303 0h0m112 0h0m-1458 1h0m239 0h0m24 0h0m33 0h0m57 0h0m154 0h0m95 0h0m324 0h0m93 0h0m42 0h0m-480 1h0m689 0h0m-699 8h0m580 0h0m95 0h0m411 0h0m-1648 1h0m315 0h0m25 0h0m93 0h0m607 0h0m83 0h0m335 0h0m40 0h0m19 0h0m-1923 1h0m858 0h0m381 0h0m782 0h0m11 0h0m-1873 1h0m170 0h0m133 0h0m242 0h0m82 0h0m17 0h0m128 0h0m78 0h0m55 0h0m276 0h0m410 0h0m194 0h0m21 0h0m-1795 1h0m255 0h0m342 0h0m455 0h0m151 0h0m812 0h0m-905 1h0m74 0h0m155 0h0m222 0h0m121 0h0m-1507 1h0m249 0h0m74 0h0m159 0h0m772 0h0m194 0h0m419 0h0m-2113 1h0m381 0h0m165 0h0m267 0h0m82 0h0m259 0h0m46 0h0m106 0h0m61 0h0m115 0h0m400 0h0m-1792 1h0m78 0h0m369 0h0m397 0h0m57 0h0m-1046 1h0m571 0h0m71 0h0m367 0h0m71 0h0m79 0h0m186 0h0m43 0h0m224 0h0m152 0h0m74 0h0m-1769 1h0m20 0h0m235 0h0m529 0h0m253 0h0m468 0h0m156 0h0m50 0h0m-1746 1h0m175 0h0m245 0h0m451 0h0m213 0h0m154 0h0m171 0h0m75 0h0m155 0h0m284 0h0m-1945 1h0m2120 0h0m-1816 6h0m-199 1h0m484 0h0m490 0h0m56 0h0m626 0h0m-1573 1h0m357 0h0m234 0h0m410 0h0m120 0h0m838 0h0m-1518 1h0m333 0h0m194 0h0m185 0h0m124 0h0m90 0h0m393 0h0m-2362 1h0m134 0h0m199 0h0m286 0h0m38 0h0m493 0h0m157 0h0m206 0h0m175 0h0m52 0h0m248 0h0m90 0h0m156 0h0m-1688 1h0m238 0h0m267 0h0m22 0h0m160 0h0m435 0h0m550 0h0m87 0h0m235 0h0m-2135 1h0m18 0h0m221 0h0m123 0h0m123 0h0m223 0h0m324 1h0m190 0h0m151 0h0m137 0h0m-1468 1h0m491 0h0m154 0h0m438 0h0m418 0h0m74 0h0m24 0h0m95 0h0m145 0h0m-1929 1h0m18 0h0m134 0h0m221 0h0m288 0h0m154 0h0m223 0h0m464 0h0m245 0h0m15 0h0m-911 1h0m209 0h0m33 0h0m557 0h0m57 0h0m94 0h0m229 0h0m-1640 1h0m125 0h0m488 0h0m232 0h0m107 0h0m116 0h0m535 0h0m174 0h0m51 0h0m-2184 1h0m74 0h0m357 0h0m25 0h0m134 0h0m153 0h0m506 0h0m152 0h0m405 0h0m-1926 1h0m29 0h0m-148 4h0m2169 2h0m-1954 1h0m76 0h0m1481 0h0m276 0h0m30 0h0m338 0h0m22 0h0m-1844 1h0m316 0h0m41 0h0m55 0h0m44 0h0m323 0h0m448 0h0m59 0h0m97 0h0m-2012 1h0m514 0h0m41 0h0m37 0h0m475 0h0m300 0h0m52 0h0m58 0h0m365 0h0m136 0h0m246 0h0m111 0h0m-2165 1h0m62 0h0m243 0h0m432 0h0m217 0h0m111 0h0m23 0h0m34 0h0m90 0h0m157 0h0m38 0h0m50 0h0m86 0h0m29 0h0m210 0h0m236 0h0m-1904 1h0m116 0h0m470 0h0m25 0h0m69 0h0m387 0h0m88 0h0m731 0h0m94 0h0m-1658 1h0m242 0h0m179 0h0m287 0h0m188 0h0m379 0h0m511 0h0m38 0h0m-1972 1h0m683 0h0m757 0h0m147 0h0m197 0h0m-1804 1h0m497 0h0m586 0h0m166 0h0m590 0h0m71 0h0m-1646 1h0m115 0h0m781 0h0m51 0h0m176 0h0m241 0h0m-1910 1h0m37 0h0m183 0h0m302 0h0m58 0h0m36 0h0m229 0h0m611 0h0m328 0h0m191 0h0m-1918 1h0m121 0h0m28 0h0m360 0h0m374 0h0m124 0h0m242 0h0m93 0h0m112 0h0m332 0h0m34 0h0m118 0h0m260 0h0m-1880 1h0m232 0h0m68 0h0m439 0h0m58 0h0m-1028 1h0m2256 0h0m-2857 1h0m494 6h0m59 0h0m17 0h0m29 0h0m95 0h0m127 0h0m724 0h0m90 0h0m246 0h0m80 0h0m81 0h0m143 0h0m58 0h0m216 0h0m170 0h0m-1860 1h0m352 0h0m462 0h0m92 0h0m177 0h0m246 0h0m447 0h0m-1892 1h0m250 0h0m133 0h0m182 0h0m154 0h0m422 0h0m131 0h0m232 0h0m71 0h0m43 0h0m130 0h0m248 0h0m-2346 1h0m619 0h0m486 0h0m58 0h0m608 0h0m38 0h0m382 0h0m-1884 1h0m327 0h0m242 0h0m96 0h0m18 0h0m270 0h0m63 0h0m711 0h0m30 0h0m292 0h0m-1402 1h0m172 0h0m53 0h0m180 0h0m319 0h0m150 0h0m290 0h0m16 0h0m-574 1h0m134 0h0m288 0h0m95 0h0m505 0h0m-1907 1h0m184 0h0m364 0h0m172 0h0m474 0h0m-1538 1h0m211 0h0m21 0h0m13 0h0m130 0h0m135 0h0m211 0h0m90 0h0m155 0h0m128 0h0m21 0h0m786 0h0m154 0h0m-1486 1h0m512 0h0m193 0h0m415 0h0m248 0h0m-1584 1h0m325 0h0m19 0h0m438 0h0m42 0h0m17 0h0m226 0h0m159 0h0m267 0h0m245 0h0m-2052 1h0m563 0h0m155 0h0m553 0h0m355 0h0m-2314 6h0m581 1h0m321 0h0m1671 0h0m149 0h0m-2059 1h0m469 0h0m14 0h0m42 0h0m112 0h0m252 0h0m211 0h0m240 0h0m235 0h0m35 0h0m187 0h0m35 0h0m252 0h0m-2225 1h0m122 0h0m474 0h0m509 0h0m113 0h0m-872 1h0m495 0h0m113 0h0m222 0h0m114 0h0m553 0h0m198 0h0m104 0h0m-2073 1h0m122 0h0m93 0h0m363 0h0m400 0h0m151 0h0m71 0h0m233 0h0m279 0h0m134 0h0m-2557 1h0m1075 0h0m556 0h0m127 0h0m740 0h0m219 0h0m-1834 1h0m24 0h0m891 0h0m227 0h0m171 0h0m-1985 1h0m843 0h0m405 0h0m259 0h0m251 0h0m75 0h0m16 0h0m173 0h0m309 0h0m-1535 1h0m317 0h0m666 0h0m299 0h0m119 0h0m-1467 1h0m150 0h0m405 0h0m686 0h0m30 0h0m237 0h0m11 0h0m61 0h0m-1648 1h0m266 0h0m201 0h0m308 0h0m309 0h0m144 0h0m58 0h0m121 0h0m28 0h0m59 0h0m406 0h0m-1979 1h0m641 0h0m117 0h0m19 0h0m34 0h0m288 0h0m914 0h0m-1847 1h0m211 0h0m605 0h0m233 0h0m79 0h0m168 0h0m78 0h0m263 0h0m-1783 1h0m1914 0h0m92 0h0m-1985 6h0m170 0h0m-243 1h0m129 0h0m20 0h0m46 0h0m135 0h0m351 0h0m118 0h0m97 0h0m112 0h0m416 0h0m195 0h0m130 0h0m20 0h0m-1830 1h0m690 0h0m36 0h0m62 0h0m245 0h0m13 0h0m44 0h0m117 0h0m128 0h0m116 0h0m395 0h0m-1764 1h0m214 0h0m297 0h0m210 0h0m306 0h0m964 0h0m-1971 1h0m547 0h0m25 0h0m206 0h0m18 0h0m284 0h0m215 0h0m127 0h0m91 0h0m122 0h0m411 0h0m-1786 1h0m219 0h0m180 0h0m384 0h0m73 0h0m59 0h0m150 0h0m83 0h0m353 0h0m42 0h0m236 0h0m-2186 1h0m391 0h0m173 0h0m778 0h0m290 0h0m111 0h0m20 0h0m57 0h0m21 0h0m129 0h0m480 0h0m-2697 1h0m1138 0h0m419 0h0m299 0h0m-432 1h0m189 0h0m52 0h0m-1105 1h0m199 0h0m1131 0h0m44 0h0m243 0h0m-1274 1h0m22 0h0m80 0h0m529 0h0m418 0h0m384 0h0m-2533 1h0m607 0h0m116 0h0m933 0h0m-984 1h0m643 0h0m90 0h0m18 0h0m43 0h0m441 0h0m47 0h0m82 0h0m212 0h0m181 0h0m-1949 1h0m2187 0h0m182 0h0m81 1h0m56 0h0m-2386 5h0m1917 0h0m148 0h0m-1689 1h0m787 0h0m794 0h0m78 0h0m-1963 1h0m96 0h0m23 0h0m397 0h0m136 0h0m264 0h0m137 0h0m162 0h0m77 0h0m24 0h0m13 0h0m47 0h0m128 0h0m73 0h0m-1008 1h0m19 0h0m114 0h0m86 0h0m187 0h0m210 0h0m165 0h0m98 0h0m152 0h0m23 0h0m-1088 1h0m-519 1h0m539 0h0m456 0h0m419 0h0m301 0h0m-1600 1h0m123 0h0m438 0h0m189 0h0m110 0h0m478 0h0m282 0h0m115 0h0m144 0h0m276 0h0m-1938 1h0m413 0h0m56 0h0m39 0h0m548 0h0m570 0h0m-2127 1h0m214 0h0m891 0h0m121 0h0m417 0h0m839 0h0m7 0h0m-2558 1h0m48 0h0m162 0h0m96 0h0m95 0h0m221 0h0m211 0h0m59 0h0m56 0h0m13 0h0m197 0h0m192 0h0m12 0h0m139 0h0m-900 1h0m85 0h0m39 0h0m122 0h0m403 0h0m363 0h0m166 0h0m85 0h0m-2460 1h0m626 0h0m381 0h0m100 0h0m137 0h0m10 0h0m42 0h0m1070 0h0m109 0h0m19 0h0m32 0h0m125 0h0m-1797 1h0m228 0h0m64 0h0m479 0h0m302 0h0m585 0h0m241 0h0m-101 7h0m-2680 1h0m667 0h0m482 0h0m71 0h0m35 0h0m75 0h0m82 0h0m171 0h0m127 0h0m668 0h0m360 0h0m142 0h0m-1415 1h0m92 0h0m64 0h0m300 0h0m115 0h0m158 0h0m113 0h0m336 0h0m-2305 1h0m317 0h0m285 0h0m417 0h0m38 0h0m1056 0h0m46 0h0m12 0h0m330 0h0m-2075 1h0m339 0h0m271 0h0m168 0h0m64 0h0m390 0h0m178 0h0m361 0h0m247 0h0m466 0h0m-3359 1h0m701 0h0m683 0h0m617 0h0m73 0h0m190 0h0m170 0h0m222 0h0m-1684 1h0m16 0h0m71 0h0m295 0h0m184 0h0m843 0h0m91 0h0m71 0h0m-1615 1h0m309 0h0m55 0h0m263 0h0m197 0h0m33 0h0m113 0h0m228 0h0m217 0h0m172 0h0m399 0h0m-1489 1h0m1163 0h0m-1642 1h0m676 0h0m151 0h0m109 0h0m441 0h0m376 0h0m-2199 1h0m179 0h0m45 0h0m73 0h0m378 0h0m635 0h0m133 0h0m30 0h0m45 0h0m334 0h0m95 0h0m268 0h0m-1863 1h0m64 0h0m183 0h0m102 0h0m79 0h0m131 0h0m185 0h0m362 0h0m97 0h0m36 0h0m431 0h0m473 0h0m-1852 1h0m17 0h0m156 0h0m1085 0h0m277 0h0m-1781 1h0m2061 0h0m-2802 2h0m2812 3h0m-19 1h0m-2043 1h0m94 0h0m183 0h0m933 0h0m172 0h0m64 0h0m-1051 1h0m420 0h0m779 0h0m-1387 1h0m136 0h0m29 0h0m96 0h0m607 0h0m84 0h0m41 0h0m161 0h0m56 0h0m332 0h0m33 0h0m-1880 1h0m73 0h0m917 0h0m12 0h0m38 0h0m47 0h0m474 0h0m204 0h0m-2130 1h0m522 0h0m13 0h0m73 0h0m115 0h0m230 0h0m99 0h0m246 0h0m232 0h0m221 0h0m253 0h0m485 0h0m-2200 1h0m33 0h0m106 0h0m221 0h0m262 0h0m101 0h0m91 0h0m74 0h0m216 0h0m193 0h0m276 0h0m-1082 1h0m703 0h0m19 0h0m191 0h0m244 0h0m-1060 1h0m205 0h0m61 0h0m196 0h0m89 0h0m211 0h0m347 0h0m164 0h0m748 0h0m-2080 1h0m213 0h0m90 0h0m195 0h0m420 0h0m440 0h0m55 0h0m493 0h0m-1965 1h0m210 0h0m274 0h0m323 0h0m146 0h0m385 0h0m15 0h0m342 0h0m453 0h0m-2866 1h0m307 0h0m640 0h0m171 0h0m59 0h0m42 0h0m337 0h0m214 0h0m263 0h0m-1175 1h0m165 0h0m902 0h0m57 0h0m17 0h0m147 0h0m-1479 1h0m-986 2h0m280 5h0m785 0h0m713 0h0m162 0h0m744 0h0m-1692 1h0m44 0h0m334 0h0m171 0h0m82 0h0m38 0h0m471 0h0m139 0h0m189 0h0m-2484 1h0m2044 0h0m25 0h0m-897 1h0m41 0h0m9 0h0m194 0h0m572 0h0m231 0h0m340 0h0m-1905 1h0m484 0h0m55 0h0m169 0h0m250 0h0m57 0h0m676 0h0m352 0h0m-2133 1h0m478 0h0m36 0h0m354 0h0m121 0h0m210 0h0m97 0h0m16 0h0m18 0h0m306 0h0m471 0h0m-2050 1h0m58 0h0m323 0h0m268 0h0m78 0h0m105 0h0m63 0h0m12 0h0m309 0h0m96 0h0m564 0h0m-1853 1h0m86 0h0m17 0h0m228 0h0m1045 0h0m107 0h0m51 0h0m131 0h0m20 0h0m38 0h0m24 0h0m68 0h0m-1636 1h0m768 0h0m231 0h0m181 0h0m86 0h0m48 0h0m644 0h0m29 0h0m-1510 1h0m650 0h0m302 0h0m-1475 1h0m334 0h0m368 0h0m297 0h0m459 0h0m-985 1h0m39 0h0m206 0h0m133 0h0m289 0h0m182 0h0m173 0h0m271 0h0m-2599 2h0m8 6h0m2061 0h0m440 0h0m265 0h0m101 0h0m-2360 1h0m587 0h0m133 0h0m45 0h0m70 0h0m585 0h0m272 0h0m96 0h0m76 0h0m226 0h0m-1715 1h0m686 0h0m378 0h0m177 0h0m267 0h0m41 0h0m224 0h0m-1917 1h0m722 0h0m209 0h0m240 0h0m132 0h0m521 0h0m-1738 1h0m326 0h0m403 0h0m98 0h0m54 0h0m12 0h0m138 0h0m234 0h0m10 0h0m630 0h0m-2011 1h0m204 0h0m196 0h0m247 0h0m37 0h0m202 0h0m86 0h0m200 0h0m76 0h0m42 0h0m683 0h0m-1783 1h0m307 0h0m274 0h0m694 0h0m32 0h0m321 0h0m172 0h0m-1862 1h0m19 0h0m156 0h0m572 0h0m566 0h0m101 0h0m589 0h0m-1791 1h0m318 0h0m60 0h0m41 0h0m151 0h0m518 0h0m163 0h0m273 0h0m-1337 1h0m39 0h0m993 0h0m68 0h0m58 0h0m-1652 1h0m673 0h0m92 0h0m364 0h0m146 0h0m214 0h0m921 0h0m-2467 1h0m609 0h0m441 0h0m94 0h0m154 0h0m339 0h0m193 0h0m222 0h0m-2070 1h0m2179 5h0m15 0h0m-1899 2h0m59 0h0m93 0h0m61 0h0m249 0h0m13 0h0m232 0h0m202 0h0m98 0h0m320 0h0m-1615 1h0m597 0h0m68 0h0m248 0h0m360 0h0m480 0h0m110 0h0m-1177 1h0m39 0h0m154 0h0m21 0h0m316 0h0m114 0h0m96 0h0m178 0h0m549 0h0m-1353 1h0m138 0h0m114 0h0m190 0h0m113 0h0m51 0h0m178 0h0m91 0h0m174 0h0m-1680 1h0m85 0h0m724 0h0m921 0h0m570 0h0m-2253 1h0m340 0h0m470 0h0m540 0h0m146 0h0m175 0h0m137 0h0m-1886 1h0m12 0h0m278 0h0m146 0h0m33 0h0m-663 1h0m134 0h0m152 0h0m1081 0h0m230 0h0m118 0h0m-1393 1h0m558 0h0m621 0h0m17 0h0m20 0h0m19 0h0m131 0h0m199 0h0m-2023 1h0m176 0h0m534 0h0m136 0h0m361 0h0m361 0h0m21 0h0m335 0h0m318 0h0m-1995 1h0m43 0h0m969 0h0m189 0h0m268 0h0m-988 1h0m94 0h0m77 0h0m76 0h0m166 0h0m-724 7h0m2062 0h0m-2317 1h0m901 0h0m532 0h0m75 0h0m-1429 1h0m254 0h0m151 0h0m87 0h0m706 0h0m263 0h0m84 0h0m298 0h0m-1287 1h0m38 0h0m300 0h0m44 0h0m58 0h0m37 0h0m241 0h0m168 0h0m237 0h0m183 0h0m142 0h0m-1921 1h0m69 0h0m1089 0h0m75 0h0m171 0h0m205 0h0m-1934 1h0m338 0h0m367 0h0m188 0h0m639 0h0m117 0h0m155 0h0m394 0h0m-1729 1h0m308 0h0m212 0h0m267 0h0m494 0h0m85 0h0m422 0h0m-1810 1h0m273 0h0m91 0h0m66 0h0m164 0h0m112 0h0m62 0h0m398 0h0m157 0h0m262 0h0m-1593 1h0m493 0h0m170 0h0m-434 1h0m86 0h0m96 0h0m65 0h0m209 0h0m75 0h0m86 0h0m293 0h0m476 0h0m754 0h0m-2620 1h0m72 0h0m123 0h0m585 0h0m37 0h0m1063 0h0m-1792 1h0m29 0h0m640 0h0m130 0h0m426 0h0m362 0h0m306 0h0m-1493 1h0m348 0h0m436 0h0m169 0h0m194 0h0m52 0h0m82 0h0m391 0h0m-2558 3h0m-179 5h0m684 0h0m535 0h0m32 0h0m801 0h0m277 0h0m235 0h0m-1821 1h0m51 0h0m358 0h0m82 0h0m70 0h0m229 0h0m1658 0h0m-2572 1h0m137 0h0m52 0h0m38 0h0m324 0h0m24 0h0m134 0h0m250 0h0m259 0h0m102 0h0m36 0h0m96 0h0m191 0h0m223 0h0m149 0h0m-2087 1h0m284 0h0m456 0h0m159 0h0m32 0h0m17 0h0m192 0h0m43 0h0m124 0h0m22 0h0m339 0h0m209 0h0m-1863 1h0m898 0h0m454 0h0m363 0h0m172 0h0m-1963 1h0m882 0h0m265 0h0m517 0h0m20 0h0m664 0h0m-2134 1h0m281 0h0m57 0h0m579 0h0m39 0h0m352 0h0m23 0h0m571 0h0m-1877 1h0m413 0h0m289 0h0m475 0h0m645 0h0m-2234 1h0m630 0h0m327 0h0m116 0h0m15 0h0m729 0h0m333 0h0m387 0h0m-2504 1h0m525 0h0m185 0h0m466 0h0m436 0h0m154 0h0m128 0h0m81 0h0m-2108 1h0m562 0h0m230 0h0m101 0h0m11 0h0m479 0h0m396 0h0m309 0h0m281 0h0m-1937 1h0m906 0h0m161 0h0m375 0h0m-1649 8h0m1221 0h0m251 0h0m41 0h0m266 0h0m339 0h0m-1390 1h0m82 0h0m130 0h0m647 0h0m20 0h0m51 0h0m518 0h0m-1901 1h0m54 0h0m212 0h0m303 0h0m1023 0h0m290 0h0m-2054 1h0m496 0h0m722 0h0m249 0h0m467 0h0m369 0h0m-2335 1h0m601 0h0m471 0h0m398 0h0m-847 1h0m15 0h0m118 0h0m187 0h0m167 0h0m63 0h0m50 0h0m332 0h0m-2060 1h0m607 0h0m328 0h0m135 0h0m247 0h0m30 0h0m64 0h0m59 0h0m35 0h0m206 0h0m940 0h0m27 0h0m-2086 1h0m89 0h0m409 0h0m97 0h0m108 0h0m91 0h0m689 0h0m92 0h0m95 0h0m230 0h0m-2209 1h0m353 0h0m353 0h0m208 0h0m341 0h0m27 0h0m131 0h0m584 0h0m131 0h0m-1684 1h0m231 0h0m374 0h0m97 0h0m58 0h0m399 0h0m547 0h0m24 0h0m-1908 1h0m234 0h0m740 0h0m78 0h0m266 0h0m55 0h0m701 0h0m-1607 1h0m208 0h0m416 0h0m323 0h0m191 0h0m29 0h0m329 0h0m-701 7h0m-1514 1h0m490 0h0m1395 0h0m202 0h0m94 0h0m20 0h0m19 0h0m-1882 1h0m379 0h0m346 0h0m25 0h0m771 0h0m389 0h0m-1942 1h0m90 0h0m419 0h0m119 0h0m186 0h0m384 0h0m116 0h0m-637 1h0m257 0h0m814 0h0m-1694 1h0m114 0h0m381 0h0m117 0h0m434 0h0m194 0h0m109 0h0m421 0h0m12 0h0m-1888 1h0m942 0h0m250 0h0m1089 0h0m-2327 1h0m78 0h0m133 0h0m282 0h0m170 0h0m175 0h0m113 0h0m138 0h0m135 0h0m589 0h0m-2440 1h0m1083 0h0m227 0h0m330 0h0m448 0h0m133 0h0m124 0h0m152 0h0m-1755 1h0m319 0h0m105 0h0m15 0h0m72 0h0m302 0h0m552 0h0m47 0h0m38 0h0m533 0h0m466 0h0m-2396 1h0m308 0h0m226 0h0m102 0h0m17 0h0m73 0h0m170 0h0m189 0h0m172 0h0m18 0h0m104 0h0m-1316 1h0m953 0h0m91 0h0m549 0h0m75 0h0m54 0h0m-1210 1h0m228 0h0m80 0h0m71 0h0m574 0h0m432 0h0m-1554 1h0m13 0h0m1529 0h0m-1916 6h0m479 1h0m184 0h0m96 0h0m691 0h0m-1575 1h0m186 0h0m167 0h0m94 0h0m54 0h0m156 0h0m61 0h0m32 0h0m475 0h0m157 0h0m99 0h0m46 0h0m100 0h0m99 0h0m145 0h0m41 0h0m140 0h0m-1718 1h0m248 0h0m223 0h0m24 0h0m433 0h0m256 0h0m-1501 1h0m470 0h0m360 0h0m245 0h0m36 0h0m213 0h0m245 0h0m270 0h0m-1823 1h0m516 0h0m95 0h0m468 0h0m492 0h0m-923 1h0m284 0h0m11 0h0m78 0h0m139 0h0m52 0h0m516 0h0m33 0h0m22 0h0m-2602 1h0m126 0h0m748 0h0m323 0h0m742 0h0m21 0h0m40 0h0m114 0h0m341 0h0m227 0h0m-1461 1h0m256 0h0m48 0h0m190 0h0m718 0h0m-1503 1h0m55 0h0m196 0h0m602 0h0m502 0h0m-1428 1h0m250 0h0m49 0h0m192 0h0m60 0h0m251 0h0m36 0h0m134 0h0m396 0h0m23 0h0m314 0h0m-2499 1h0m1243 0h0m422 0h0m414 0h0m47 0h0m-1446 1h0m88 0h0m419 0h0m313 0h0m302 0h0m345 0h0m264 0h0m11 0h0m137 0h0m187 0h0m-1863 1h0m187 6h0m1668 0h0m-2758 1h0m937 0h0m362 0h0m92 0h0m232 0h0m11 0h0m191 0h0m284 0h0m303 0h0m-2443 1h0m715 0h0m116 0h0m251 0h0m265 0h0m266 0h0m281 0h0m41 0h0m383 0h0m117 0h0m320 0h0m-2680 1h0m867 0h0m1255 0h0m104 0h0m-1300 1h0m181 0h0m75 0h0m238 0h0m389 0h0m110 0h0m110 0h0m141 0h0m-2129 1h0m1511 0h0m347 0h0m493 0h0m36 0h0m19 0h0m191 0h0m-2691 1h0m798 0h0m166 0h0m536 0h0m32 0h0m176 0h0m35 0h0m360 0h0m214 0h0m237 0h0m83 0h0m-2674 1h0m938 0h0m237 0h0m640 0h0m25 0h0m87 0h0m103 0h0m800 0h0m-2856 1h0m899 0h0m32 0h0m479 0h0m173 0h0m47 0h0m252 0h0m191 0h0m55 0h0m177 0h0m293 0h0m88 0h0m-1605 1h0m347 0h0m90 0h0m94 0h0m171 0h0m210 0h0m267 0h0m461 0h0m98 0h0m-1872 1h0m116 0h0m75 0h0m168 0h0m43 0h0m98 0h0m35 0h0m250 0h0m16 0h0m76 0h0m398 0h0m95 0h0m215 0h0m-2439 1h0m1139 0h0m38 0h0m236 0h0m586 0h0m111 0h0m385 0h0m57 0h0m11 0h0m84 0h0m-1955 1h0m1322 0h0m-1970 1h0m1039 0h0m1679 6h0m-2803 1h0m834 0h0m23 0h0m84 0h0m123 0h0m72 0h0m842 0h0m32 0h0m42 0h0m229 0h0m351 0h0m-2689 1h0m853 0h0m109 0h0m553 0h0m82 0h0m35 0h0m528 0h0m478 0h0m97 0h0m-1594 1h0m108 0h0m1025 0h0m283 0h0m-1473 1h0m67 0h0m66 0h0m279 0h0m330 0h0m53 0h0m245 0h0m918 0h0m-2896 1h0m67 0h0m1146 0h0m381 0h0m189 0h0m555 0h0m22 0h0m92 0h0m76 0h0m-1687 1h0m738 0h0m129 0h0m287 0h0m82 0h0m21 0h0m48 0h0m368 0h0m90 0h0m60 0h0m-1521 1h0m128 0h0m122 0h0m13 0h0m59 0h0m302 0h0m59 0h0m115 0h0m171 0h0m-955 1h0m137 0h0m130 0h0m606 0h0m177 0h0m222 0h0m-2561 1h0m860 0h0m525 0h0m270 0h0m108 0h0m122 0h0m54 0h0m35 0h0m24 0h0m304 0h0m-1374 1h0m233 0h0m174 0h0m34 0h0m95 0h0m169 0h0m64 0h0m493 0h0m333 0h0m237 0h0m-2034 1h0m54 0h0m18 0h0m228 0h0m16 0h0m626 0h0m81 0h0m41 0h0m906 0h0m80 0h0m305 0h0m-3057 1h0m30 0h0m24 0h0m19 0h0m24 0h0m788 0h0m539 0h0m1061 0h0m97 0h0m-2323 5h0m888 2h0m-1107 1h0m75 0h0m707 0h0m33 0h0m161 0h0m73 0h0m301 0h0m455 0h0m122 0h0m19 0h0m529 0h0m166 0h0m-1608 1h0m399 0h0m168 0h0m480 0h0m600 0h0m-2737 1h0m919 0h0m263 0h0m249 0h0m416 0h0m380 0h0m416 0h0m80 0h0m-2759 1h0m1311 0h0m95 0h0m212 0h0m92 0h0m206 0h0m290 0h0m113 0h0m480 0h0m19 0h0m-2753 1h0m698 0h0m1533 0h0m294 0h0m-941 1h0m457 0h0m137 0h0m381 0h0m-1031 1h0m153 0h0m311 0h0m91 0h0m80 0h0m148 0h0m39 0h0m-1553 1h0m811 0h0m111 0h0m154 0h0m193 0h0m270 0h0m132 0h0m132 0h0m-2648 1h0m227 0h0m727 0h0m40 0h0m41 0h0m449 0h0m360 0h0m98 0h0m35 0h0m79 0h0m14 0h0m385 0h0m355 0h0m-1835 1h0m817 0h0m828 0h0m-2558 1h0m61 0h0m757 0h0m259 0h0m81 0h0m195 0h0m50 0h0m64 0h0m14 0h0m20 0h0m872 0h0m265 0h0m-2600 1h0m81 0h0m348 0h0m237 0h0m857 0h0m87 0h0m42 0h0m211 0h0m305 0h0m153 0h0m47 0h0m61 0h0m54 0h0m-1785 7h0m-514 1h0m1175 0h0m212 0h0m248 0h0m566 0h0m80 0h0m-1673 1h0m504 0h0m151 0h0m653 0h0m-2011 1h0m817 0h0m36 0h0m318 0h0m234 0h0m59 0h0m52 0h0m1011 0h0m587 0h0m-3227 1h0m1082 0h0m188 0h0m135 0h0m622 0h0m645 0h0m-972 1h0m882 0h0m34 0h0m-2700 1h0m61 0h0m1580 0h0m49 0h0m64 0h0m19 0h0m182 0h0m464 0h0m12 0h0m864 0h0m-2509 1h0m29 0h0m216 0h0m410 0h0m655 0h0m188 0h0m95 0h0m155 0h0m-648 1h0m54 0h0m111 0h0m198 0h0m20 0h0m207 0h0m152 0h0m145 0h0m-1782 1h0m533 0h0m376 0h0m100 0h0m79 0h0m109 0h0m211 0h0m205 0h0m82 0h0m47 0h0m-2688 1h0m1492 0h0m267 0h0m211 0h0m21 0h0m97 0h0m173 0h0m53 0h0m-1138 1h0m206 0h0m186 0h0m934 0h0m243 0h0m-2772 1h0m1220 0h0m271 0h0m360 0h0m105 0h0m251 0h0m229 0h0m55 0h0m82 0h0m56 0h0m716 6h0m-2441 1h0m40 0h0m267 0h0m1572 0h0m-2735 1h0m1271 0h0m633 0h0m15 0h0m235 0h0m225 0h0m-737 1h0m66 0h0m120 0h0m-1864 1h0m1029 0h0m605 0h0m63 0h0m434 0h0m117 0h0m183 0h0m148 0h0m-2563 1h0m934 0h0m42 0h0m816 0h0m209 0h0m-1101 1h0m380 0h0m29 0h0m578 0h0m322 0h0m59 0h0m77 0h0m32 0h0m129 0h0m-1746 1h0m403 0h0m226 0h0m118 0h0m931 0h0m303 0h0m-2770 1h0m780 0h0m245 0h0m436 0h0m57 0h0m77 0h0m243 0h0m93 0h0m79 0h0m339 0h0m303 0h0m80 0h0m-1973 1h0m685 0h0m1082 0h0m148 0h0m40 0h0m39 0h0m561 0h0m-3183 1h0m17 0h0m724 0h0m505 0h0m290 0h0m417 0h0m547 0h0m-2652 1h0m1082 0h0m687 0h0m28 0h0m75 0h0m199 0h0m54 0h0m213 0h0m262 0h0m-1182 1h0m77 0h0m157 0h0m362 0h0m128 0h0m95 0h0m290 0h0m111 0h0m-1639 1h0m515 0h0m118 0h0m111 0h0m74 0h0m97 0h0m271 0h0m110 0h0m114 0h0m92 0h0m75 0h0m-1666 1h0m1990 2h0m-2460 3h0m2393 0h0m530 1h0m-3282 1h0m1159 0h0m499 0h0m89 0h0m137 0h0m285 0h0m229 0h0m620 0h0m-3088 1h0m170 0h0m1112 0h0m212 0h0m141 0h0m57 0h0m85 0h0m768 0h0m-1673 1h0m334 0h0m600 0h0m57 0h0m31 0h0m36 0h0m82 0h0m97 0h0m169 0h0m344 0h0m87 0h0m17 0h0m-2763 1h0m1379 0h0m42 0h0m93 0h0m61 0h0m209 0h0m760 0h0m78 0h0m-2527 1h0m57 0h0m16 0h0m811 0h0m159 0h0m603 0h0m286 0h0m321 0h0m492 0h0m-1649 1h0m38 0h0m224 0h0m21 0h0m111 0h0m325 0h0m194 0h0m228 0h0m262 0h0m190 0h0m-2766 1h0m817 0h0m131 0h0m525 0h0m61 0h0m458 0h0m439 0h0m360 0h0m-2514 1h0m826 0h0m829 0h0m480 0h0m208 0h0m89 0h0m-2674 1h0m834 0h0m53 0h0m66 0h0m47 0h0m384 0h0m368 0h0m357 0h0m15 0h0m23 0h0m39 0h0m171 0h0m269 0h0m-1825 1h0m773 0h0m55 0h0m19 0h0m361 0h0m332 0h0m94 0h0m35 0h0m40 0h0m-2491 1h0m116 0h0m37 0h0m162 0h0m1017 0h0m470 0h0m213 0h0m133 0h0m476 0h0m13 0h0m-2275 1h0m607 0h0m40 0h0m534 0h0m36 0h0m599 0h0m46 0h0m76 0h0m97 0h0m-2017 1h0m765 0h0m90 0h0m1683 0h0m-2212 6h0m60 0h0m224 0h0m-754 1h0m1365 0h0m173 0h0m41 0h0m506 0h0m391 0h0m-2744 1h0m59 0h0m811 0h0m857 0h0m19 0h0m22 0h0m553 0h0m285 0h0m342 0h0m-2550 1h0m1149 0h0m73 0h0m39 0h0m344 0h0m244 0h0m128 0h0m46 0h0m50 0h0m281 0h0m-2630 1h0m808 0h0m28 0h0m453 0h0m379 0h0m74 0h0m309 0h0m33 0h0m129 0h0m114 0h0m81 0h0m-2495 1h0m196 0h0m774 0h0m383 0h0m76 0h0m24 0h0m491 0h0m203 0h0m120 0h0m241 0h0m826 0h0m-3346 1h0m128 0h0m704 0h0m480 0h0m168 0h0m187 0h0m426 0h0m18 0h0m10 0h0m482 0h0m259 0h0m-2927 1h0m216 0h0m37 0h0m71 0h0m553 0h0m760 0h0m117 0h0m175 0h0m50 0h0m345 0h0m206 0h0m83 0h0m-2583 1h0m263 0h0m359 0h0m288 0h0m281 0h0m191 0h0m153 0h0m534 0h0m528 0h0m79 0h0m-2524 1h0m905 0h0m311 0h0m656 0h0m256 0h0m-987 1h0m616 0h0m-317 1h0m343 0h0m32 0h0m83 0h0m363 0h0m34 0h0m338 0h0m59 0h0m-1638 1h0m96 0h0m156 0h0m119 0h0m110 0h0m151 0h0m394 0h0m293 0h0m169 0h0m24 0h0m8 0h0m-1894 1h0m149 0h0m194 0h0m-786 1h0m-305 6h0m31 0h0m226 0h0m403 0h0m54 0h0m345 0h0m191 0h0m286 0h0m193 0h0m29 0h0m-1590 1h0m21 0h0m421 0h0m563 0h0m112 0h0m498 0h0m271 0h0m76 0h0m75 0h0m410 0h0m76 0h0m-2470 1h0m55 0h0m217 0h0m133 0h0m605 0h0m282 0h0m574 0h0m80 0h0m95 0h0m148 0h0m117 0h0m13 0h0m116 0h0m161 0h0m-2664 1h0m53 0h0m194 0h0m356 0h0m109 0h0m629 0h0m463 0h0m-1901 1h0m720 0h0m546 0h0m118 0h0m114 0h0m75 0h0m405 0h0m38 0h0m199 0h0m27 0h0m-2336 1h0m135 0h0m577 0h0m439 0h0m572 0h0m152 0h0m65 0h0m813 0h0m78 0h0m-2089 1h0m31 0h0m615 0h0m51 0h0m169 0h0m254 0h0m418 0h0m89 0h0m26 0h0m67 0h0m43 0h0m21 0h0m-1185 1h0m159 0h0m152 0h0m97 0h0m169 0h0m344 0h0m222 0h0m57 0h0m61 0h0m-2626 1h0m81 0h0m53 0h0m1289 0h0m235 0h0m57 0h0m87 0h0m231 0h0m211 0h0m209 0h0m-2416 1h0m571 0h0m376 0h0m349 0h0m150 0h0m53 0h0m331 0h0m126 0h0m438 0h0m-1780 1h0m302 0h0m962 0h0m58 0h0m197 0h0m526 0h0m-2730 1h0m14 0h0m209 0h0m437 0h0m83 0h0m192 0h0m15 0h0m59 0h0m239 0h0m237 0h0m751 0h0m171 0h0m364 0h0m-1731 1h0m1830 0h0m-1839 6h0m-1039 1h0m108 0h0m78 0h0m661 0h0m132 0h0m668 0h0m98 0h0m605 0h0m367 0h0m53 0h0m-2797 1h0m63 0h0m320 0h0m268 0h0m42 0h0m431 0h0m382 0h0m53 0h0m192 0h0m302 0h0m156 0h0m278 0h0m27 0h0m127 0h0m-2599 1h0m60 0h0m49 0h0m132 0h0m617 0h0m135 0h0m813 0h0m41 0h0m86 0h0m216 0h0m168 0h0m101 0h0m171 0h0m205 0h0m-2656 1h0m93 0h0m135 0h0m229 0h0m351 0h0m406 0h0m41 0h0m585 0h0m742 0h0m-2678 1h0m1291 0h0m67 0h0m884 0h0m95 0h0m-2109 1h0m530 0h0m87 0h0m972 0h0m23 0h0m75 0h0m40 0h0m78 0h0m114 0h0m38 0h0m169 0h0m36 0h0m119 0h0m-2401 1h0m538 0h0m127 0h0m321 0h0m135 0h0m38 0h0m132 0h0m61 0h0m549 0h0m719 0h0m-2025 1h0m381 0h0m29 0h0m93 0h0m117 0h0m196 0h0m20 0h0m66 0h0m477 0h0m438 0h0m-2263 1h0m1235 0h0m-1454 1h0m211 0h0m32 0h0m348 0h0m264 0h0m549 0h0m545 0h0m275 0h0m56 0h0m-2145 1h0m544 0h0m110 0h0m47 0h0m135 0h0m182 0h0m193 0h0m247 0h0m13 0h0m81 0h0m21 0h0m35 0h0m78 0h0m306 0h0m39 0h0m14 0h0m366 0h0m113 0h0m-1138 1h0m19 0h0m303 0h0m733 0h0m155 1h0m280 1h0m-2189 5h0m-661 1h0m1115 0h0m45 0h0m200 0h0m94 0h0m60 0h0m289 0h0m137 0h0m586 0h0m-2629 1h0m113 0h0m420 0h0m135 0h0m605 0h0m305 0h0m18 0h0m213 0h0m382 0h0m77 0h0m183 0h0m-2393 1h0m101 0h0m1593 0h0m110 0h0m538 0h0m193 0h0m-2718 1h0m370 0h0m308 0h0m77 0h0m16 0h0m48 0h0m758 0h0m381 0h0m242 0h0m535 0h0m-2761 1h0m293 0h0m284 0h0m67 0h0m30 0h0m66 0h0m823 0h0m99 0h0m38 0h0m757 0h0m334 0h0m-2468 1h0m939 0h0m75 0h0m151 0h0m626 0h0m324 0h0m204 0h0m75 0h0m-2088 1h0m91 0h0m1087 0h0m41 0h0m321 0h0m342 0h0m-1924 1h0m859 0h0m474 0h0m21 0h0m319 0h0m59 0h0m-1973 1h0m857 0h0m68 0h0m403 0h0m397 0h0m85 0h0m226 0h0m88 0h0m25 0h0m129 0h0m-1855 1h0m318 0h0m34 0h0m426 0h0m275 0h0m179 0h0m39 0h0m91 0h0m173 0h0m397 0h0m-2341 1h0m25 0h0m228 0h0m244 0h0m42 0h0m396 0h0m52 0h0m45 0h0m77 0h0m52 0h0m342 0h0m19 0h0m689 0h0m93 0h0m147 0h0m295 0h0m-3032 1h0m1503 0h0m57 0h0m154 0h0m304 0h0m115 0h0m39 0h0m33 0h0m309 0h0m98 0h0m-1500 1h0m-581 6h0m489 0h0m-740 1h0m1082 0h0m348 0h0m409 0h0m236 0h0m38 0h0m131 0h0m-2379 1h0m483 0h0m34 0h0m1477 0h0m83 0h0m186 0h0m-2105 1h0m908 0h0m254 0h0m201 0h0m22 0h0m90 0h0m285 0h0m113 0h0m304 0h0m78 0h0m-1496 1h0m42 0h0m209 0h0m679 0h0m383 0h0m-1728 1h0m92 0h0m11 0h0m448 0h0m352 0h0m305 0h0m25 0h0m129 0h0m154 0h0m271 0h0m141 0h0m-2595 1h0m190 0h0m16 0h0m306 0h0m777 0h0m461 0h0m10 0h0m75 0h0m215 0h0m-1963 1h0m656 0h0m523 0h0m76 0h0m55 0h0m193 0h0m519 0h0m412 0h0m115 0h0m45 0h0m-2573 1h0m35 0h0m228 0h0m254 0h0m78 0h0m736 0h0m338 0h0m49 0h0m109 0h0m61 0h0m69 0h0m151 0h0m55 0h0m-1987 1h0m243 0h0m186 0h0m532 0h0m610 0h0m628 0h0m75 0h0m95 0h0m56 0h0m-2482 1h0m20 0h0m13 0h0m307 0h0m14 0h0m724 0h0m112 0h0m102 0h0m738 0h0m209 0h0m229 0h0m-2713 1h0m1555 0h0m1221 0h0m-2627 1h0m474 0h0m457 0h0m400 0h0m35 0h0m63 0h0m106 0h0m249 0h0m215 0h0m606 0h0m-2617 8h0m576 0h0m32 0h0m935 0h0m78 0h0m267 0h0m92 0h0m208 0h0m90 0h0m39 0h0m207 0h0m116 0h0m-2169 1h0m475 0h0m539 0h0m318 0h0m264 0h0m24 0h0m78 0h0m301 0h0m-2525 1h0m718 0h0m403 0h0m23 0h0m372 0h0m401 0h0m96 0h0m-2032 1h0m212 0h0m249 0h0m9 0h0m134 0h0m721 0h0m29 0h0m104 0h0m303 0h0m61 0h0m243 0h0m467 0h0m104 0h0m-2450 1h0m1026 0h0m365 0h0m169 0h0m57 0h0m781 0h0m118 0h0m-2546 1h0m15 0h0m52 0h0m81 0h0m399 0h0m698 0h0m97 0h0m18 0h0m157 0h0m736 0h0m158 0h0m-2604 1h0m19 0h0m285 0h0m21 0h0m769 0h0m211 0h0m326 0h0m61 0h0m186 0h0m16 0h0m38 0h0m218 0h0m67 0h0m39 0h0m-2276 1h0m100 0h0m84 0h0m367 0h0m17 0h0m57 0h0m149 0h0m668 0h0m42 0h0m207 0h0m148 0h0m189 0h0m38 0h0m330 0h0m112 0h0m-2336 1h0m130 0h0m797 0h0m74 0h0m124 0h0m14 0h0m41 0h0m832 0h0m493 0h0m-2528 1h0m442 0h0m128 0h0m446 0h0m256 0h0m74 0h0m557 0h0m208 0h0m170 0h0m444 0h0m-2231 1h0m729 0h0m172 0h0m247 0h0m549 0h0m143 0h0m232 0h0m21 0h0m-2057 1h0m574 0h0m517 0h0m377 0h0m206 0h0m22 0h0m165 0h0m28 0h0m-1310 7h0m-950 1h0m66 0h0m1075 0h0m553 0h0m209 0h0m35 0h0m84 0h0m-1794 1h0m1070 0h0m50 0h0m479 0h0m135 0h0m130 0h0m133 0h0m-2450 1h0m17 0h0m76 0h0m80 0h0m251 0h0m106 0h0m895 0h0m723 0h0m130 0h0m102 0h0m144 0h0m48 0h0m-2611 1h0m115 0h0m39 0h0m24 0h0m300 0h0m62 0h0m585 0h0m227 0h0m154 0h0m31 0h0m118 0h0m40 0h0m14 0h0m39 0h0m75 0h0m179 0h0m454 0h0m182 0h0m-2444 1h0m1078 0h0m306 0h0m266 0h0m196 0h0m356 0h0m-2113 1h0m380 0h0m27 0h0m1178 0h0m153 0h0m416 0h0m-2089 1h0m16 0h0m186 0h0m636 0h0m143 0h0m345 0h0m99 0h0m474 0h0m134 0h0m152 0h0m134 0h0m29 0h0m-2679 1h0m232 0h0m1013 0h0m131 0h0m86 0h0m43 0h0m113 0h0m244 0h0m26 0h0m677 0h0m-1292 1h0m26 0h0m55 0h0m555 0h0m19 0h0m105 0h0m-1747 1h0m97 0h0m190 0h0m57 0h0m801 0h0m284 0h0m73 0h0m308 0h0m13 0h0m178 0h0m315 0h0m68 0h0m-2455 1h0m282 0h0m911 0h0m359 0h0m722 0h0m38 0h0m-1349 1h0m38 0h0m367 0h0m384 0h0m169 0h0m115 0h0m205 0h0m244 0h0m-2460 8h0m931 0h0m137 0h0m114 0h0m127 0h0m742 0h0m160 0h0m35 0h0m21 0h0m130 0h0m-2476 1h0m20 0h0m276 0h0m672 0h0m195 0h0m187 0h0m60 0h0m577 0h0m546 0h0m-2435 1h0m113 0h0m19 0h0m80 0h0m82 0h0m1129 0h0m76 0h0m370 0h0m30 0h0m26 0h0m489 0h0m-2682 1h0m161 0h0m1843 0h0m93 0h0m130 0h0m299 0h0m-1034 1h0m168 0h0m300 0h0m64 0h0m451 0h0m113 0h0m76 0h0m-2523 1h0m162 0h0m1052 0h0m37 0h0m157 0h0m92 0h0m41 0h0m29 0h0m539 0h0m324 0h0m-2518 1h0m62 0h0m176 0h0m965 0h0m108 0h0m485 0h0m75 0h0m934 0h0m-2838 1h0m547 0h0m713 0h0m9 0h0m332 0h0m124 0h0m143 0h0m51 0h0m264 0h0m65 0h0m130 0h0m-1791 1h0m835 0h0m60 0h0m309 0h0m87 0h0m131 0h0m83 0h0m166 0h0m267 0h0m60 0h0m-2571 1h0m182 0h0m13 0h0m115 0h0m817 0h0m74 0h0m225 0h0m272 0h0m640 0h0m343 0h0m-2736 1h0m1213 0h0m600 0h0m38 0h0m144 0h0m362 0h0m18 0h0m-1915 1h0m59 0h0m717 0h0m195 0h0m454 0h0m210 0h0m344 0h0m15 0h0m188 0h0m-2387 8h0m114 0h0m2270 0h0m-2643 1h0m171 0h0m154 0h0m206 0h0m834 0h0m118 0h0m95 0h0m151 0h0m130 0h0m327 0h0m282 0h0m227 0h0m-2219 1h0m115 0h0m38 0h0m665 0h0m242 0h0m15 0h0m86 0h0m10 0h0m226 0h0m171 0h0m305 0h0m-1708 1h0m1333 0h0m170 0h0m189 0h0m101 0h0m299 0h0m-2678 1h0m38 0h0m62 0h0m358 0h0m704 0h0m97 0h0m391 0h0m38 0h0m154 0h0m265 0h0m59 0h0m77 0h0m190 0h0m168 0h0m-2636 1h0m474 0h0m967 0h0m63 0h0m85 0h0m63 0h0m114 0h0m36 0h0m778 0h0m121 0h0m-2490 1h0m1020 0h0m248 0h0m458 0h0m56 0h0m90 0h0m153 0h0m189 0h0m55 0h0m179 0h0m-2639 1h0m172 0h0m209 0h0m771 0h0m211 0h0m661 0h0m181 0h0m294 0h0m38 0h0m-2334 1h0m94 0h0m22 0h0m1404 0h0m36 0h0m132 0h0m62 0h0m318 0h0m-2012 1h0m1082 0h0m45 0h0m17 0h0m476 0h0m117 0h0m241 0h0m136 0h0m-2220 1h0m89 0h0m149 0h0m918 0h0m345 0h0m513 0h0m161 0h0m163 0h0m-1297 1h0m96 0h0m269 0h0m239 0h0m283 0h0m267 0h0m175 0h0m60 0h0m-2041 8h0m797 0h0m68 0h0m153 0h0m463 0h0m10 0h0m103 0h0m37 0h0m113 0h0m76 0h0m264 0h0m-2433 1h0m75 0h0m1224 0h0m168 0h0m108 0h0m172 0h0m246 0h0m141 0h0m230 0h0m149 0h0m-2492 1h0m24 0h0m110 0h0m75 0h0m1253 0h0m573 0h0m-2068 1h0m74 0h0m1290 0h0m214 0h0m395 0h0m50 0h0m459 0h0m-2348 1h0m200 0h0m63 0h0m779 0h0m285 0h0m149 0h0m-527 1h0m104 0h0m350 0h0m202 0h0m573 0h0m17 0h0m20 0h0m113 0h0m-2621 1h0m303 0h0m236 0h0m647 0h0m622 0h0m754 0h0m-2193 1h0m9 0h0m1199 0h0m215 0h0m55 0h0m110 0h0m100 0h0m189 0h0m129 0h0m42 0h0m130 0h0m-2082 1h0m696 0h0m212 0h0m70 0h0m417 0h0m78 0h0m44 0h0m59 0h0m51 0h0m114 0h0m458 0h0m-1471 1h0m78 0h0m26 0h0m113 0h0m20 0h0m51 0h0m1213 0h0m-2268 1h0m49 0h0m785 0h0m241 0h0m101 0h0m675 0h0m315 0h0m-2613 1h0m457 0h0m1450 0h0m193 0h0m246 0h0m38 0h0m66 0h0m350 2h0m-2392 6h0m65 0h0m1018 0h0m483 0h0m221 0h0m153 0h0m273 0h0m-2642 1h0m1209 0h0m102 0h0m30 0h0m151 0h0m144 0h0m30 0h0m177 0h0m11 0h0m41 0h0m116 0h0m24 0h0m218 0h0m314 0h0m51 0h0m116 0h0m-2390 1h0m12 0h0m1047 0h0m42 0h0m717 0h0m20 0h0m15 0h0m190 0h0m81 0h0m-1961 1h0m1146 0h0m146 0h0m-510 1h0m302 0h0m189 0h0m286 0h0m-1521 1h0m709 0h0m134 0h0m153 0h0m30 0h0m190 0h0m176 0h0m363 1h0m38 0h0m88 0h0m17 0h0m157 0h0m72 0h0m-1442 1h0m96 0h0m291 0h0m475 0h0m314 0h0m176 0h0m212 0h0m-2377 1h0m1274 0h0m360 0h0m95 0h0m382 0h0m11 0h0m-2083 1h0m811 0h0m686 0h0m290 0h0m107 0h0m-979 1h0m50 0h0m43 0h0m353 0h0m102 0h0m60 0h0m333 0h0m168 0h0m181 0h0m-1184 1h0m405 0h0m398 0h0m-699 8h0m265 0h0m155 0h0m41 0h0m20 0h0m131 0h0m89 0h0m266 0h0m-1037 1h0m588 0h0m39 0h0m264 0h0m-1063 1h0m260 0h0m156 0h0m73 0h0m43 0h0m15 0h0m230 0h0m133 0h0m470 1h0m-1443 1h0m24 0h0m23 0h0m51 0h0m779 0h0m322 0h0m-1001 1h0m47 0h0m102 0h0m604 0h0m80 0h0m20 0h0m209 0h0m133 0h0m-2296 1h0m31 0h0m837 0h0m153 0h0m263 0h0m43 0h0m716 0h0m43 0h0m54 0h0m-1247 1h0m226 0h0m857 0h0m17 0h0m126 0h0m-1064 1h0m134 0h0m75 0h0m43 0h0m34 0h0m58 0h0m25 0h0m13 0h0m152 0h0m727 0h0m-1234 1h0m620 0h0m192 0h0m117 0h0m-1032 1h0m386 0h0m172 0h0m69 0h0m727 0h0m-500 1h0m12 8h0m140 0h0m12 0h0m115 0h0m169 0h0m-1405 1h0m251 0h0m115 0h0m10 0h0m97 0h0m321 0h0m648 0h0m-1424 1h0m104 0h0m56 0h0m261 0h0m167 0h0m306 0h0m113 0h0m290 0h0m-2169 1h0m38 0h0m1327 0h0m37 0h0m401 0h0m271 0h0m-1121 1h0m39 0h0m59 0h0m582 0h0m272 0h0m107 0h0m-1995 1h0m1048 0h0m514 0h0m137 0h0m-594 1h0m475 0h0m251 0h0m-569 1h0m417 0h0m33 0h0m206 0h0m103 0h0m238 0h0m-853 1h0m365 0h0m-897 1h0m464 0h0m124 0h0m380 0h0m133 0h0m55 0h0m59 0h0m17 0h0m196 0h0m-1235 1h0m298 0h0m64 0h0m50 0h0m117 0h0m140 0h0m163 0h0m234 0h0m-967 1h0m10 0h0m122 0h0m-1287 8h0m1697 0h0m53 0h0m32 0h0m125 0h0m18 0h0m238 0h0m-1303 1h0m111 0h0m98 0h0m186 0h0m186 0h0m578 0h0m283 0h0m-1485 1h0m79 0h0m207 0h0m116 0h0m76 0h0m75 0h0m705 0h0m-891 1h0m49 0h0m43 0h0m493 0h0m98 0h0m-918 1h0m876 0h0m110 0h0m191 0h0m66 0h0m8 0h0m-1366 1h0m552 0h0m591 0h0m-954 1h0m138 0h0m173 0h0m923 0h0m-902 1h0m380 0h0m69 0h0m-792 1h0m295 0h0m118 0h0m110 0h0m28 0h0m526 0h0m136 0h0m-1235 1h0m606 0h0m25 0h0m374 0h0m253 0h0m-1374 1h0m62 0h0m116 0h0m38 0h0m392 0h0m663 0h0m-1237 1h0m231 0h0m266 0h0m443 0h0m34 0h0m80 0h0m154 0h0m161 0h0m-405 7h0m-347 1h0m651 0h0m96 0h0m-1194 1h0m243 0h0m605 0h0m136 0h0m62 0h0m77 0h0m-1226 1h0m62 0h0m363 0h0m-533 1h0m100 0h0m284 0h0m111 0h0m89 0h0m104 0h0m9 0h0m44 0h0m175 0h0m238 0h0m-715 1h0m209 0h0m433 0h0m132 0h0m209 0h0m-1404 1h0m57 0h0m77 0h0m151 0h0m55 0h0m742 0h0m263 0h0m-1177 1h0m131 0h0m313 0h0m646 0h0m-761 1h0m455 0h0m68 0h0m-1097 1h0m35 0h0m883 0h0m494 0h0m-1395 1h0m268 0h0m56 0h0m325 0h0m630 0h0m58 0h0m-1236 1h0m719 0h0m61 0h0m142 0h0m158 0h0m-593 1h0m27 0h0m186 0h0m628 0h0m-1280 8h0m277 0h0m174 0h0m92 0h0m104 0h0m-692 1h0m175 0h0m360 0h0m363 0h0m154 0h0m32 0h0m100 0h0m-976 1h0m824 0h0m-1104 1h0m203 0h0m59 0h0m455 0h0m152 0h0m139 0h0m287 0h0m-1271 1h0m283 0h0m287 0h0m239 0h0m249 0h0m355 0h0m-1455 1h0m476 0h0m164 0h0m159 0h0m202 0h0m38 0h0m285 0h0m-1173 1h0m413 0h0m271 0h0m-761 1h0m136 0h0m952 0h0m-455 1h0m103 0h0m269 0h0m-1024 1h0m56 0h0m83 0h0m1214 0h0m-1423 1h0m372 0h0m138 0h0m21 0h0m142 0h0m218 0h0m411 0h0m161 0h0m-1285 1h0m174 0h0m117 0h0m71 0h0m30 0h0m510 0h0m325 0h0m33 0h0m-707 1h0m627 0h0m312 4h0m-1137 2h0m-514 1h0m364 0h0m629 0h0m116 0h0m-839 1h0m22 0h0m871 0h0m156 0h0m92 0h0m-1445 1h0m380 0h0m75 0h0m53 0h0m218 0h0m173 0h0m-691 1h0m42 0h0m249 0h0m33 0h0m166 0h0m-623 1h0m24 0h0m531 0h0m381 0h0m112 0h0m57 0h0m240 0h0m-855 1h0m199 0h0m56 0h0m-795 1h0m132 0h0m11 0h0m575 0h0m99 0h0m526 0h0m112 0h0m-1004 1h0m569 0h0m-453 1h0m19 0h0m31 0h0m520 0h0m48 0h0m257 0h0m-1204 1h0m647 0h0m25 0h0m51 0h0m-298 1h0m375 0h0m33 0h0m240 0h0m66 0h0m-1168 1h0m104 0h0m96 0h0m225 0h0m427 0h0m297 0h0m-1187 1h0m-95 7h0m114 0h0m178 0h0m36 0h0m42 0h0m-461 1h0m187 0h0m323 0h0m195 0h0m95 0h0m109 0h0m-667 1h0m75 0h0m372 0h0m201 0h0m216 0h0m341 0h0m-1298 1h0m138 0h0m269 0h0m218 0h0m363 0h0m-801 1h0m331 0h0m92 0h0m53 0h0m417 0h0m67 0h0m-766 1h0m121 0h0m466 0h0m-1063 1h0m1024 0h0m314 0h0m-1320 1h0m189 0h0m102 0h0m69 0h0m191 0h0m115 0h0m99 0h0m148 0h0m84 0h0m94 0h0m55 0h0m89 0h0m27 0h0m-1312 1h0m152 0h0m56 0h0m258 0h0m365 0h0m348 0h0m150 0h0m14 0h0m58 0h0m-1027 1h0m77 0h0m566 0h0m139 0h0m-456 1h0m210 0h0m471 0h0m61 0h0m-1422 1h0m965 0h0m355 7h0m-1319 1h0m43 0h0m130 0h0m273 0h0m129 0h0m647 0h0m-1165 1h0m76 0h0m538 0h0m13 0h0m616 0h0m-1312 1h0m93 0h0m81 0h0m167 0h0m208 0h0m307 0h0m170 0h0m-779 1h0m130 0h0m-78 1h0m188 0h0m-70 1h0m211 0h0m732 0h0m78 0h0m-1330 1h0m644 0h0m86 0h0m296 0h0m275 0h0m-1187 1h0m423 0h0m17 0h0m60 0h0m58 0h0m12 0h0m270 0h0m42 0h0m-1064 1h0m169 0h0m184 0h0m45 0h0m34 0h0m267 0h0m305 0h0m378 0h0m-1060 1h0m451 0h0m78 0h0m71 0h0m117 0h0m80 0h0m328 1h0m-1205 1h0m38 0h0m210 0h0m77 0h0m298 0h0m39 0h0m177 0h0m146 0h0m75 0h0m38 0h0m-1217 7h0m71 1h0m76 0h0m245 0h0m36 0h0m521 0h0m126 0h0m195 0h0m-1367 1h0m414 0h0m462 0h0m332 0h0m-835 1h0m313 0h0m51 0h0m-169 1h0m24 0h0m12 0h0m418 0h0m309 0h0m-1120 1h0m222 0h0m118 0h0m110 0h0m64 0h0m31 0h0m403 0h0m-1110 1h0m247 0h0m41 0h0m455 0h0m328 0h0m116 0h0m74 0h0m-246 1h0m12 0h0m26 0h0m188 0h0m-1251 1h0m219 0h0m573 0h0m160 0h0m256 0h0m-1063 1h0m436 0h0m77 0h0m-720 1h0m93 0h0m85 0h0m170 0h0m446 0h0m239 0h0m-778 1h0m166 0h0m76 0h0m801 0h0m75 0h0m-1387 1h0m57 0h0m113 0h0m231 0h0m493 0h0m343 1h0m357 2h0m-1556 5h0m483 0h0m184 0h0m212 0h0m-913 1h0m367 0h0m204 0h0m288 0h0m300 0h0m40 0h0m213 0h0m-1332 1h0m17 0h0m77 0h0m70 0h0m550 0h0m629 0h0m163 0h0m-957 1h0m24 0h0m226 0h0m227 0h0m149 0h0m54 0h0m-373 1h0m75 0h0m11 0h0m62 0h0m-894 1h0m-76 1h0m27 0h0m8 0h0m122 0h0m281 0h0m520 0h0m48 0h0m169 0h0m-1225 1h0m151 0h0m171 0h0m39 0h0m255 0h0m62 0h0m590 0h0m43 0h0m-1145 1h0m99 0h0m17 0h0m95 0h0m152 0h0m-303 1h0m440 0h0m38 0h0m186 0h0m184 0h0m38 0h0m101 0h0m117 0h0m-1368 1h0m369 0h0m139 0h0m77 0h0m61 0h0m111 0h0m111 0h0m-436 1h0m363 0h0m231 0h0m211 7h0m-913 1h0m100 0h0m603 0h0m44 0h0m-689 1h0m17 0h0m86 0h0m70 0h0m24 0h0m110 0h0m81 0h0m-761 1h0m133 0h0m204 0h0m498 0h0m278 0h0m98 0h0m-1136 1h0m647 0h0m283 0h0m129 0h0m-1020 1h0m239 0h0m248 0h0m207 0h0m270 0h0m-1099 2h0m189 0h0m58 0h0m79 0h0m605 0h0m614 0h0m-997 1h0m97 0h0m552 0h0m-1158 1h0m14 0h0m227 0h0m327 0h0m-529 1h0m435 0h0m21 0h0m358 0h0m165 0h0m341 0h0m-1231 1h0m137 0h0m416 0h0m152 0h0m250 0h0m-854 1h0m736 0h0m215 0h0m67 0h0m95 0h0m-979 8h0m100 0h0m528 0h0m-930 1h0m27 0h0m31 0h0m310 0h0m72 0h0m476 0h0m77 0h0m39 0h0m30 0h0m-931 1h0m1092 0h0m-1299 1h0m195 0h0m110 0h0m197 0h0m48 0h0m568 0h0m66 0h0m-1013 1h0m76 0h0m78 0h0m73 0h0m807 0h0m-1220 1h0m441 0h0m32 0h0m158 0h0m222 0h0m44 0h0m-723 1h0m69 0h0m58 0h0m72 0h0m860 0h0m157 0h0m-779 1h0m34 0h0m57 0h0m287 0h0m71 0h0m42 0h0m-748 1h0m-276 1h0m200 0h0m443 0h0m194 0h0m134 0h0m242 0h0m-1234 1h0m755 0h0m27 0h0m38 0h0m710 0h0m-927 1h0m150 8h0m53 0h0m35 0h0m42 0h0m73 0h0m72 0h0m56 0h0m-1151 1h0m849 0h0m136 0h0m76 0h0m132 0h0m122 0h0m-1206 1h0m350 0h0m16 0h0m70 0h0m75 0h0m307 0h0m153 0h0m-840 1h0m122 0h0m76 0h0m398 0h0m307 0h0m85 0h0m390 0h0m-1521 1h0m1160 0h0m-1090 1h0m340 0h0m24 0h0m152 0h0m41 0h0m286 0h0m284 0h0m107 0h0m-1389 1h0m191 0h0m26 0h0m355 0h0m-505 1h0m207 0h0m458 0h0m49 0h0m539 0h0m186 0h0m-1480 1h0m99 0h0m356 0h0m110 0h0m513 0h0m-932 1h0m196 0h0m289 0h0m540 0h0m177 0h0m-745 1h0m63 0h0m268 0h0m77 0h0m130 0h0m-1119 1h0m86 0h0m421 0h0m320 0h0m380 1h0m97 0h0m-1323 7h0m288 0h0m302 0h0m77 0h0m556 0h0m-1262 1h0m29 0h0m258 0h0m636 0h0m125 0h0m97 0h0m83 0h0m-1047 1h0m169 0h0m73 0h0m172 0h0m228 0h0m71 0h0m426 0h0m-1261 1h0m132 0h0m344 0h0m46 0h0m455 0h0m295 0h0m-1102 1h0m26 0h0m193 0h0m36 0h0m398 0h0m77 0h0m116 0h0m278 0h0m-600 1h0m46 0h0m199 0h0m-331 1h0m58 0h0m121 0h0m-630 1h0m439 0h0m133 0h0m188 0h0m189 0h0m-399 1h0m242 0h0m285 0h0m-1139 1h0m123 0h0m87 0h0m18 0h0m77 0h0m405 0h0m245 0h0m18 0h0m156 0h0m-1168 1h0m295 0h0m281 0h0m245 0h0m250 0h0m50 0h0m-1138 1h0m36 0h0m369 0h0m19 0h0m95 0h0m591 0h0m171 0h0m-1265 8h0m781 0h0m37 0h0m77 0h0m208 0h0m11 0h0m-1138 1h0m172 0h0m264 0h0m17 0h0m607 0h0m102 0h0m-871 1h0m89 0h0m45 0h0m245 0h0m29 0h0m311 0h0m-975 1h0m39 0h0m323 0h0m141 0h0m-303 1h0m103 0h0m238 0h0m171 0h0m134 0h0m370 0h0m-663 1h0m18 0h0m47 0h0m198 0h0m77 0h0m351 0h0m-1188 1h0m28 0h0m354 0h0m253 0h0m355 0h0m-1122 1h0m102 0h0m88 0h0m62 0h0m737 0h0m81 0h0m-1084 1h0m376 0h0m781 0h0m72 0h0m163 0h0m-1353 1h0m202 0h0m65 0h0m56 0h0m-386 1h0m632 0h0m232 0h0m37 0h0m74 0h0m392 0h0m-1151 1h0m135 0h0m95 0h0m148 0h0m173 0h0m79 0h0m209 0h0m73 0h0m150 0h0m-707 7h0m-420 1h0m391 0h0m211 0h0m189 0h0m502 0h0m-1415 1h0m42 0h0m303 0h0m99 0h0m49 0h0m384 0h0m-854 1h0m166 0h0m96 0h0m778 0h0m-132 1h0m179 0h0m339 0h0m-986 1h0m201 0h0m196 0h0m402 0h0m114 0h0m-1299 1h0m303 0h0m273 0h0m378 0h0m192 0h0m-1235 1h0m488 0h0m226 0h0m429 0h0m55 0h0m52 0h0m61 0h0m125 0h0m-1328 1h0m150 0h0m323 0h0m181 0h0m454 0h0m-1043 1h0m599 0h0m80 0h0m133 0h0m36 0h0m44 0h0m37 0h0m301 0h0m-1249 1h0m77 0h0m84 0h0m325 0h0m178 0h0m94 0h0m96 0h0m315 0h0m-1084 1h0m138 0h0m39 0h0m184 0h0m558 0h0m-1085 1h0m265 0h0m92 0h0m272 0h0m94 0h0m40 0h0m134 0h0m199 0h0m119 0h0m55 0h0m-599 8h0m252 0h0m189 0h0m259 0h0m-32 1h0m-1312 1h0m255 0h0m183 0h0m39 0h0m16 0h0m98 0h0m77 0h0m74 0h0m-423 1h0m200 0h0m434 0h0m53 0h0m187 0h0m135 0h0m-1043 1h0m111 0h0m285 0h0m122 0h0m162 0h0m60 0h0m187 0h0m-1225 1h0m167 0h0m270 0h0m115 0h0m68 0h0m685 0h0m-1391 1h0m23 0h0m532 0h0m120 0h0m150 0h0m268 0h0m56 0h0m71 0h0m115 0h0m-1005 1h0m395 0h0m511 0h0m135 0h0m-1229 1h0m1135 0h0m83 0h0m-1242 1h0m329 0h0m590 0h0m-989 1h0m9 0h0m171 0h0m78 0h0m62 0h0m99 0h0m15 0h0m175 0h0m151 0h0m110 0h0m283 0h0m-194 1h0m162 0h0m86 0h0m-845 1h0m-73 7h0m137 0h0m-233 1h0m340 0h0m439 0h0m208 0h0m-951 1h0m503 0h0m600 0h0m-1321 1h0m18 0h0m48 0h0m246 0h0m30 0h0m16 0h0m210 0h0m110 0h0m23 0h0m527 0h0m73 0h0m-1094 1h0m95 0h0m69 0h0m655 0h0m-428 1h0m60 0h0m383 0h0m-414 1h0m121 0h0m125 0h0m284 0h0m-1101 1h0m56 0h0m146 0h0m-171 1h0m153 0h0m254 0h0m151 0h0m129 0h0m73 0h0m244 0h0m28 0h0m69 0h0m-1219 1h0m462 0h0m306 0h0m250 0h0m141 0h0m139 0h0m-1238 1h0m416 0h0m63 0h0m41 0h0m240 0h0m494 0h0m55 0h0m-1214 1h0m806 0h0m19 0h0m50 0h0m77 0h0m130 0h0m-150 1h0m-557 6h0m-149 1h0m389 0h0m163 0h0m31 0h0m59 0h0m208 0h0m17 0h0m-1026 1h0m250 0h0m359 0h0m172 0h0m94 0h0m54 0h0m65 0h0m-1122 1h0m162 0h0m39 0h0m400 1h0m502 0h0m105 0h0m46 0h0m-1142 1h0m71 0h0m474 0h0m362 0h0m-1056 1h0m19 0h0m413 0h0m61 0h0m37 0h0m78 0h0m658 0h0m-1194 1h0m115 0h0m150 0h0m290 1h0m59 0h0m75 0h0m69 0h0m99 0h0m60 0h0m38 0h0m94 0h0m-1161 1h0m151 0h0m973 0h0m128 0h0m-1116 1h0m484 0h0m228 0h0m-835 1h0m390 0h0m147 0h0m490 0h0m-950 1h0m608 0h0m83 0h0m48 0h0m99 0h0m-762 8h0m581 0h0m250 0h0m-873 1h0m94 0h0m279 0h0m463 0h0m-949 1h0m511 0h0m207 0h0m-185 1h0m110 0h0m37 0h0m128 0h0m216 0h0m95 0h0m-344 1h0m226 0h0m92 0h0m-717 1h0m93 0h0m492 0h0m-874 1h0m80 0h0m193 0h0m190 0h0m55 0h0m268 0h0m269 0h0m-1089 1h0m779 0h0m92 0h0m-264 1h0m36 0h0m57 0h0m98 0h0m-512 1h0m58 0h0m490 0h0m16 0h0m-825 1h0m542 0h0m438 0h0m25 0h0m-627 1h0m341 0h0m245 0h0m-900 8h0m270 0h0m676 0h0m-1045 1h0m482 0h0m90 0h0m114 0h0m345 0h0m-1091 1h0m85 0h0m816 0h0m30 0h0m97 0h0m-981 1h0m69 0h0m608 1h0m60 0h0m34 0h0m199 0h0m-532 1h0m319 0h0m189 0h0m-585 1h0m33 1h0m603 0h0m-1015 1h0m428 0h0m313 0h0m-667 1h0m249 0h0m19 0h0m542 0h0m157 0h0m-550 1h0m-388 1h0m257 0h0m109 0h0m205 0h0m-211 7h0m-472 1h0m702 0h0m38 0h0m76 0h0m-727 1h0m269 0h0m619 0h0m-264 1h0m209 0h0m123 0h0m-255 2h0m41 0h0m135 0h0m-932 1h0m971 0h0m-939 1h0m41 0h0m576 0h0m162 0h0m37 0h0m60 0h0m-1114 1h0m182 0h0m41 0h0m546 0h0m174 0h0m131 0h0m-778 1h0m626 0h0m113 0h0m-1060 1h0m707 0h0m52 0h0m-166 1h0m133 0h0m-115 1h0m70 0h0m65 0h0m34 0h0m437 1h0m-995 6h0m849 1h0m-781 1h0m462 0h0m190 0h0m231 0h0m-459 1h0m415 0h0m92 0h0m-437 1h0m80 0h0m62 0h0m-940 1h0m199 0h0m54 0h0m382 0h0m497 0h0m-1106 1h0m191 0h0m111 0h0m669 0h0m-321 1h0m147 0h0m17 0h0m16 0h0m-565 1h0m319 0h0m136 0h0m172 0h0m58 1h0m-287 1h0m16 0h0m82 0h0m269 0h0m-789 1h0m326 0h0m422 0h0m12 0h0m174 0h0m-1164 1h0m1029 0h0m160 0h0m-446 8h0m-573 2h0m471 0h0m399 0h0m101 0h0m-238 1h0m24 0h0m21 0h0m-247 1h0m301 0h0m-929 1h0m75 0h0m729 0h0m106 0h0m-795 1h0m-96 1h0m169 0h0m289 0h0m19 0h0m59 0h0m56 0h0m401 0h0m-845 1h0m46 0h0m380 0h0m-684 1h0m988 0h0m147 0h0m-398 1h0m90 1h0m41 0h0m43 0h0m210 0h0m-921 8h0m476 0h0m8 0h0m237 0h0m-918 1h0m176 0h0m896 0h0m-861 1h0m356 0h0m557 0h0m-888 1h0m489 0h0m325 0h0m-890 1h0m847 0h0m81 0h0m13 0h0m-451 1h0m-536 1h0m138 0h0m353 0h0m137 0h0m251 0h0m-400 1h0m188 0h0m95 0h0m270 0h0m-387 1h0m39 0h0m134 1h0m94 0h0m-924 1h0m531 0h0m-369 1h0m28 0h0m601 0h0m-857 8h0m700 0h0m133 0h0m37 0h0m-672 1h0m445 0h0m411 0h0m-806 1h0m-273 1h0m207 0h0m477 0h0m63 0h0m53 0h0m341 0h0m-1020 1h0m699 0h0m96 0h0m-957 1h0m195 0h0m725 0h0m-712 1h0m789 0h0m88 1h0m-982 1h0m777 0h0m151 0h0m-907 1h0m109 0h0m514 0h0m325 0h0m-898 2h0m109 0h0m523 0h0m13 0h0m187 0h0m48 0h0m57 0h0m28 0h0m-877 8h0m513 0h0m-37 2h0m-568 2h0m586 0h0m169 0h0m-134 1h0m59 0h0m95 0h0m-833 1h0m913 0h0m-162 1h0m-738 1h0m15 0h0m61 0h0m81 0h0m529 0h0m-723 1h0m150 0h0m-15 1h0m667 0h0m-710 1h0m119 0h0m-193 7h0m748 2h0m-619 2h0m601 0h0m-791 3h0m33 0h0m748 0h0m-761 1h0m-35 1h0m220 2h0m44 0h0m-28 1h0m37 0h0m-45 8h0m40 0h0m-54 1h0m35 3h0m-111 4h0m-114 1h0m78 11h0m101 0h0m33 0h0m21 0h0m-258 5h0m9 2h0m44 0h0m129 0h0m36 3h0m-194 7h0m186 1h0m-22 2h0m44 1h0m-285 3h0m61 0h0m74 3h0m13 2h0m-98 11h0m205 1h0m-115 6h0m132 0h0m-27 10h0m-174 1h0m-57 1h0m36 2h0m181 0h0m-199 1h0m143 0h0m13 0h0m17 0h0m58 2h0m-292 14h0m227 0h0m41 1h0m17 0h0m-263 2h0m96 1h0m20 1h0m33 0h0m-138 2h0m161 1h0m51 0h0m-40 8h0m35 1h0m-211 1h0m232 0h0m-208 1h0m94 0h0m-133 1h0m209 3h0m-56 1h0m-174 2h0m184 1h0m-97 8h0m59 0h0m-83 3h0m210 0h0m-234 1h0m69 1h0m152 0h0m-137 3h0m107 0h0m-203 1h0m170 2h0m-42 1h0m-57 10h0m74 1h0m-66 2h0m80 1h0m-214 1h0m-26 2h0m14 0h0m283 0h0m-235 9h0m185 0h0m-29 1h0m66 1h0m-266 1h0m18 0h0m197 5h0m-13 12h0m-147 1h0m133 2h0m53 0h0m-169 7h0m-11 10h0m-16 2h0m194 5h0" stroke="#678eb0" stroke-width="30" stroke-linecap="round" fill="none"/></g><path d="M19.2 405.2V390.8a10 10 0 0 1 10 -10H373.4a10 10 0 0 1 10 10V405.2Z" fill="#fff"/><text x="139.3" y="400.0" textLength="124" lengthAdjust="spacingAndGlyphs" font-family="'Liberation Serif',serif" font-style="italic" font-size="19.5" fill="#1a1a1a">Petro Poroshenko</text><g transform="translate(0.0,330)"><polygon points="53.3,108.7 63.0,107.5 73.3,99.7 88.3,99.0 106.7,101.2 128.3,107.8 144.7,108.8 152.5,113.0 159.7,108.3 165.0,115.2 181.3,113.5 189.7,116.2 190.8,101.7 197.5,95.3 213.3,93.2 221.5,94.5 226.0,88.2 238.0,88.5 251.7,86.3 258.3,92.5 265.0,102.0 259.0,111.0 261.7,118.0 276.7,119.7 284.0,132.0 283.8,138.0 309.0,148.0 323.5,143.5 335.5,157.2 346.7,157.0 375.3,166.5 375.6,175.5 367.0,190.8 372.0,206.5 368.7,216.3 350.0,218.2 340.0,227.8 339.5,239.2 325.5,241.7 311.5,251.3 294.0,253.3 281.9,258.3 275.7,263.7 276.5,281.5 286.1,289.0 305.7,287.5 302.1,297.6 280.7,303.6 254.5,319.3 244.4,312.5 248.0,300.5 227.3,291.3 231.3,285.3 248.6,275.5 243.6,269.4 213.5,262.0 211.8,251.2 193.9,254.8 187.3,270.5 172.0,292.4 163.0,287.3 153.9,292.2 145.4,286.7 150.1,283.3 159.2,262.4 157.7,260.5 158.2,258.1 161.5,257.1 163.5,260.5 174.4,261.0 180.1,259.0 177.3,256.2 177.7,251.9 171.1,244.3 170.1,240.0 167.5,233.0 160.8,227.2 162.0,217.5 153.3,209.7 145.8,208.7 130.8,200.0 120.8,201.7 113.3,206.7 105.8,208.3 100.8,213.7 85.8,216.7 79.5,221.0 70.3,214.2 60.0,213.7 46.3,210.5 38.0,216.3 35.8,208.3 25.8,200.8 31.3,186.7 34.7,182.0 38.7,183.0 33.7,170.5 52.5,145.5 61.3,142.5 63.7,135.0" fill="#fff"/><polygon points="248.6,275.5 243.6,269.4 248.0,270.5 276.0,272.5 276.5,281.5 286.1,289.0 305.7,287.5 302.1,297.6 280.7,303.6 254.5,319.3 244.4,312.5 248.0,300.5 227.3,291.3 231.3,285.3" fill="url(#h)"/><polygon points="352.5,194.5 369.0,199.0 372.0,206.5 368.7,216.3 350.0,218.2 340.0,227.8 339.5,239.2 335.5,239.9 333.0,232.5 331.5,224.5 328.0,218.0" fill="url(#h)"/><polygon points="53.3,108.7 63.0,107.5 73.3,99.7 88.3,99.0 106.7,101.2 128.3,107.8 144.7,108.8 152.5,113.0 159.7,108.3 165.0,115.2 181.3,113.5 189.7,116.2 190.8,101.7 197.5,95.3 213.3,93.2 221.5,94.5 226.0,88.2 238.0,88.5 251.7,86.3 258.3,92.5 265.0,102.0 259.0,111.0 261.7,118.0 276.7,119.7 284.0,132.0 283.8,138.0 309.0,148.0 323.5,143.5 335.5,157.2 346.7,157.0 375.3,166.5 375.6,175.5 367.0,190.8 372.0,206.5 368.7,216.3 350.0,218.2 340.0,227.8 339.5,239.2 325.5,241.7 311.5,251.3 294.0,253.3 281.9,258.3 275.7,263.7 276.5,281.5 286.1,289.0 305.7,287.5 302.1,297.6 280.7,303.6 254.5,319.3 244.4,312.5 248.0,300.5 227.3,291.3 231.3,285.3 248.6,275.5 243.6,269.4 213.5,262.0 211.8,251.2 193.9,254.8 187.3,270.5 172.0,292.4 163.0,287.3 153.9,292.2 145.4,286.7 150.1,283.3 159.2,262.4 157.7,260.5 158.2,258.1 161.5,257.1 163.5,260.5 174.4,261.0 180.1,259.0 177.3,256.2 177.7,251.9 171.1,244.3 170.1,240.0 167.5,233.0 160.8,227.2 162.0,217.5 153.3,209.7 145.8,208.7 130.8,200.0 120.8,201.7 113.3,206.7 105.8,208.3 100.8,213.7 85.8,216.7 79.5,221.0 70.3,214.2 60.0,213.7 46.3,210.5 38.0,216.3 35.8,208.3 25.8,200.8 31.3,186.7 34.7,182.0 38.7,183.0 33.7,170.5 52.5,145.5 61.3,142.5 63.7,135.0" fill="none" stroke="#565b60" stroke-width="1.3" stroke-linejoin="round"/><path transform="scale(.1)" d="M835 1010h0m-29 3h0m-77 1h0m30 0h0m94 3h0m83 0h0m31 0h0m1166 0h0m-1314 1h0m84 15h0m52 1h0m-242 1h0m31 3h0m82 3h0m147 0h0m18 2h0m81 1h0m-347 4h0m193 0h0m-127 2h0m350 0h0m1259 0h0m-1662 6h0m277 0h0m-29 3h0m90 1h0m-311 2h0m-45 5h0m157 0h0m180 2h0m24 1h0m-391 1h0m151 3h0m-102 3h0m199 0h0m79 0h0m-272 1h0m349 1h0m-323 1h0m60 0h0m229 5h0m-217 2h0m111 0h0m74 1h0m51 0h0m-436 2h0m408 0h0m-202 7h0m351 1h0m817 2h0m-1058 5h0m472 0h0m-607 3h0m121 0h0m163 1h0m-436 1h0m-36 1h0m747 0h0m-246 5h0m1180 1h0m-1497 6h0m68 0h0m-200 2h0m-54 1h0m36 6h0m255 1h0m-322 1h0m172 0h0m-126 1h0m286 8h0m136 0h0m-295 4h0m-175 1h0m151 1h0m-23 1h0m419 0h0m602 1h0m-579 1h0m-324 2h0m-201 7h0m425 3h0m76 0h0m467 0h0m-449 4h0m704 2h0m-1204 1h0m383 1h0m509 1h0m-14 5h0m-493 5h0m78 0h0m-360 2h0m1064 0h0m-1195 4h0m451 1h0m24 0h0m-17 10h0m48 0h0m-21 3h0m61 2h0m616 3h0m-997 3h0m287 0h0m-70 1h0m68 8h0m21 4h0m65 0h0m-439 2h0m87 0h0m192 1h0m-364 2h0m51 0h0m437 1h0m-107 1h0m361 2h0m254 0h0m22 1h0m-305 4h0m-661 1h0m345 0h0m92 0h0m-146 3h0m134 0h0m584 0h0m-687 1h0m62 0h0m173 1h0m376 0h0m-989 1h0m363 1h0m-55 1h0m10 0h0m351 1h0m-205 1h0m-438 1h0m1346 0h0m-1335 2h0m45 0h0m200 4h0m-276 1h0m286 1h0m59 0h0m-262 1h0m-67 3h0m348 2h0m112 0h0m-381 1h0m231 0h0m55 0h0m751 2h0m-830 1h0m-151 1h0m-86 1h0m340 0h0m238 0h0m-422 1h0m97 4h0m-240 1h0m129 0h0m32 1h0m105 0h0m158 1h0m-103 1h0m707 1h0m-638 1h0m-283 1h0m1181 1h0m366 0h0m-1305 2h0m65 1h0m-359 2h0m-114 1h0m206 1h0m1624 3h0m-1671 2h0m295 0h0m-280 1h0m131 0h0m78 1h0m32 0h0m122 1h0m-265 1h0m821 0h0m-839 1h0m245 0h0m564 0h0m-510 3h0m-224 1h0m22 1h0m-213 2h0m336 0h0m-276 1h0m-75 5h0m43 1h0m21 0h0m169 0h0m115 1h0m-271 2h0m171 0h0m118 1h0m26 3h0m7 0h0m231 0h0m-512 1h0m-172 1h0m364 0h0m-178 3h0m-27 7h0m-153 1h0m372 0h0m758 0h0m-815 1h0m-350 1h0m484 0h0m-164 1h0m880 0h0m-1177 3h0m717 0h0m-198 2h0m-124 2h0m104 0h0m309 1h0m282 1h0m-916 6h0m303 0h0m-321 1h0m-207 1h0m285 1h0m194 0h0m675 1h0m-1172 2h0m451 0h0m698 0h0m-999 7h0m61 0h0m120 0h0m-153 1h0m377 7h0m-358 1h0m-46 2h0m185 4h0m-369 2h0m386 0h0m-168 3h0m267 4h0m-47 1h0m-423 4h0m165 0h0m-105 1h0m125 0h0m196 0h0m75 0h0m-252 1h0m74 0h0m-181 1h0m-21 3h0m414 0h0m440 2h0m-820 1h0m236 0h0m83 5h0m-123 1h0m38 2h0m-319 1h0m76 0h0m84 0h0m-171 1h0m435 1h0m61 0h0m-460 1h0m18 0h0m866 0h0m-776 1h0m1131 0h0m-1199 1h0m-97 1h0m548 0h0m100 0h0m-521 3h0m-81 8h0m116 0h0m-175 1h0m45 0h0m27 1h0m121 1h0m53 0h0m112 0h0m-258 2h0m166 0h0m208 0h0m-327 1h0m-35 1h0m173 0h0m-298 2h0m28 0h0m216 0h0m-94 2h0m69 0h0m244 1h0m-111 1h0m221 5h0m-546 1h0m108 0h0m577 0h0m-554 1h0m59 0h0m14 0h0m19 0h0m-298 2h0m237 0h0m-141 1h0m18 0h0m17 1h0m-103 1h0m430 0h0m539 0h0m-675 1h0m-178 1h0m377 1h0m177 0h0m-643 1h0m111 0h0m234 0h0m-181 1h0m420 0h0m-48 2h0m598 1h0m379 5h0m-1486 1h0m116 0h0m106 0h0m208 1h0m63 1h0m51 0h0m-466 1h0m510 0h0m-648 2h0m119 0h0m70 0h0m37 0h0m-283 1h0m34 0h0m100 0h0m135 1h0m33 0h0m345 0h0m-572 1h0m81 0h0m60 0h0m-193 1h0m77 0h0m221 0h0m397 0h0m183 0h0m-88 4h0m674 2h0m-1303 4h0m130 0h0m62 0h0m162 0h0m120 0h0m-588 1h0m188 0h0m-245 1h0m71 0h0m320 0h0m-274 1h0m36 1h0m30 0h0m496 0h0m-447 1h0m55 0h0m59 0h0m131 0h0m36 0h0m197 0h0m4 0h0m-675 1h0m-27 1h0m258 1h0m47 0h0m670 0h0m-1013 1h0m162 0h0m72 0h0m175 0h0m36 0h0m41 0h0m-371 1h0m410 0h0m667 0h0m-276 6h0m-652 2h0m365 0h0m-332 1h0m-185 1h0m36 0h0m592 0h0m-704 1h0m459 0h0m223 0h0m268 0h0m-897 1h0m187 2h0m44 0h0m21 0h0m-363 1h0m242 0h0m258 0h0m-427 1h0m20 0h0m55 0h0m115 0h0m139 0h0m-361 1h0m167 0h0m174 1h0m692 0h0m-1053 1h0m172 0h0m31 0h0m403 0h0m434 4h0m-974 4h0m12 1h0m-105 1h0m74 0h0m113 0h0m73 1h0m118 0h0m39 0h0m584 0h0m-849 1h0m72 0h0m51 0h0m65 0h0m850 0h0m-831 1h0m86 0h0m22 0h0m157 0h0m-138 1h0m-470 1h0m146 0h0m37 0h0m121 0h0m-188 1h0m162 1h0m772 0h0m110 0h0m-1127 1h0m197 0h0m257 0h0m573 0h0m-1038 1h0m360 0h0m586 6h0m-898 2h0m203 1h0m93 0h0m-110 1h0m92 0h0m150 0h0m-202 1h0m270 1h0m19 0h0m-574 1h0m153 0h0m-80 1h0m134 0h0m-39 1h0m63 0h0m1070 0h0m100 0h0m-1382 1h0m92 0h0m-20 1h0m39 0h0m62 0h0m110 0h0m17 0h0m-281 1h0m488 0h0m-546 1h0m392 0h0m353 0h0m-141 1h0m-105 5h0m-534 2h0m120 0h0m245 0h0m76 0h0m-418 2h0m325 0h0m-282 1h0m34 0h0m280 0h0m-237 1h0m75 0h0m15 0h0m42 0h0m127 1h0m-323 1h0m81 0h0m134 0h0m-114 2h0m18 0h0m-157 1h0m212 0h0m171 0h0m-96 1h0m229 0h0m-246 1h0m669 0h0m-456 6h0m481 0h0m-1023 2h0m292 0h0m-277 1h0m339 0h0m36 0h0m-278 1h0m35 0h0m171 0h0m679 0h0m-793 1h0m286 0h0m-421 1h0m264 0h0m81 0h0m19 0h0m-160 1h0m173 0h0m-399 1h0m170 0h0m-124 1h0m35 0h0m52 0h0m64 2h0m-212 1h0m226 0h0m247 0h0m63 0h0m-406 1h0m215 0h0m208 2h0m82 6h0m-570 1h0m301 1h0m-147 1h0m77 0h0m-291 1h0m178 0h0m231 0h0m86 0h0m152 0h0m-660 1h0m110 0h0m176 0h0m74 0h0m1116 0h0m-1499 2h0m60 0h0m-78 1h0m102 0h0m38 0h0m70 0h0m149 0h0m75 0h0m-263 1h0m25 0h0m96 0h0m14 0h0m-62 1h0m237 0h0m-101 1h0m292 0h0m-79 7h0m62 0h0m-454 1h0m147 0h0m-73 2h0m414 0h0m309 0h0m-952 1h0m378 0h0m308 0h0m-662 1h0m375 0h0m264 0h0m798 0h0m-1253 1h0m237 0h0m-484 1h0m101 0h0m60 0h0m73 0h0m167 0h0m-192 2h0m254 0h0m-291 1h0m160 0h0m230 0h0m-537 1h0m97 0h0m12 0h0m161 0h0m19 0h0m52 0h0m-290 1h0m311 0h0m627 1h0m9 1h0m136 4h0m-685 2h0m523 0h0m-940 1h0m666 0h0m-750 1h0m55 0h0m172 0h0m20 0h0m24 0h0m781 0h0m-1017 1h0m285 1h0m-333 1h0m109 0h0m191 0h0m187 0h0m-306 1h0m-28 1h0m71 0h0m96 0h0m91 0h0m59 0h0m629 0h0m-967 1h0m221 0h0m-142 1h0m171 0h0m15 0h0m50 0h0m-409 1h0m641 0h0m-511 1h0m265 0h0m651 6h0m-940 2h0m38 0h0m-134 1h0m186 0h0m133 0h0m688 0h0m-1046 1h0m154 0h0m107 0h0m-249 1h0m81 0h0m302 0h0m-288 1h0m198 0h0m149 0h0m-375 1h0m297 0h0m-325 1h0m138 0h0m979 0h0m-958 1h0m72 0h0m398 0h0m577 0h0m-837 1h0m282 0h0m-232 1h0m455 0h0m169 0h0m135 0h0m233 0h0m-1146 1h0m-67 1h0m91 0h0m96 0h0m894 3h0m-247 3h0m144 1h0m-1235 1h0m1217 0h0m110 0h0m-1181 1h0m97 0h0m51 0h0m182 0h0m995 0h0m-1366 1h0m534 0h0m-567 1h0m209 0h0m109 0h0m695 0h0m166 0h0m-834 2h0m703 0h0m-991 1h0m43 0h0m180 0h0m783 0h0m-818 1h0m168 0h0m-454 1h0m57 0h0m95 0h0m81 0h0m68 0h0m101 0h0m-378 1h0m172 0h0m-257 1h0m45 0h0m184 0h0m254 0h0m50 0h0m562 0h0m-687 1h0m802 1h0m14 0h0m295 0h0m-990 7h0m33 0h0m-182 1h0m77 0h0m165 0h0m-279 1h0m15 0h0m799 0h0m-950 1h0m993 0h0m-1124 1h0m32 0h0m134 0h0m150 0h0m83 0h0m-422 1h0m94 0h0m130 0h0m213 0h0m1129 0h0m277 0h0m-1710 1h0m40 0h0m73 0h0m129 0h0m-302 1h0m292 0h0m639 0h0m-969 1h0m175 0h0m57 0h0m185 0h0m-491 1h0m25 0h0m132 0h0m1039 1h0m-455 1h0m329 7h0m-560 1h0m695 0h0m-1180 1h0m19 0h0m332 0h0m93 0h0m-267 1h0m15 0h0m175 0h0m56 0h0m93 0h0m187 0h0m-622 1h0m227 0h0m264 0h0m446 0h0m-728 2h0m663 0h0m-854 1h0m234 0h0m548 0h0m-420 1h0m90 0h0m441 0h0m-831 1h0m74 0h0m266 0h0m-444 1h0m159 0h0m165 0h0m161 0h0m53 0h0m-547 1h0m95 0h0m124 0h0m140 0h0m726 0h0m-1016 1h0m131 0h0m785 1h0m273 0h0m-278 5h0m153 0h0m-144 1h0m-943 1h0m15 0h0m81 0h0m72 0h0m15 0h0m159 0h0m245 0h0m420 0h0m296 0h0m-1079 1h0m19 0h0m42 0h0m154 1h0m-388 1h0m361 0h0m413 0h0m-902 1h0m55 0h0m818 0h0m233 0h0m-959 1h0m37 0h0m44 0h0m154 0h0m54 0h0m112 0h0m131 0h0m-564 1h0m224 0h0m-135 1h0m82 0h0m189 0h0m-457 1h0m20 0h0m354 0h0m65 0h0m75 2h0m-557 1h0m884 0h0m264 1h0m-134 6h0m-848 1h0m-173 1h0m21 0h0m174 0h0m207 0h0m112 0h0m-432 1h0m125 0h0m43 0h0m895 0h0m-990 1h0m207 0h0m110 0h0m132 0h0m464 0h0m-1014 1h0m387 0h0m657 0h0m-760 1h0m87 0h0m165 0h0m496 0h0m-987 1h0m167 0h0m62 0h0m201 0h0m-411 1h0m166 0h0m168 0h0m116 0h0m-265 1h0m918 0h0m-1179 2h0m967 0h0m-870 1h0m85 0h0m268 0h0m59 0h0m138 1h0m-599 7h0m49 0h0m139 0h0m74 0h0m153 0h0m443 0h0m-655 1h0m351 0h0m469 0h0m-705 1h0m588 0h0m239 0h0m-1076 1h0m96 0h0m350 0h0m-593 1h0m612 0h0m94 0h0m313 0h0m-847 1h0m155 0h0m112 0h0m136 0h0m506 0h0m-1059 1h0m39 0h0m304 0h0m50 0h0m46 0h0m-371 1h0m208 0h0m76 0h0m175 1h0m-435 1h0m565 0h0m230 0h0m-402 1h0m653 0h0m-1120 1h0m144 0h0m294 0h0m48 0h0m807 1h0m-397 4h0m-230 2h0m401 0h0m-1122 1h0m105 0h0m72 0h0m58 0h0m409 0h0m60 0h0m-684 1h0m44 0h0m324 0h0m18 0h0m-282 1h0m123 0h0m104 0h0m798 0h0m172 0h0m-1181 1h0m301 0h0m744 0h0m-823 1h0m210 0h0m731 0h0m-1084 1h0m303 0h0m105 0h0m574 0h0m-1154 2h0m284 0h0m152 0h0m18 0h0m172 0h0m-515 1h0m130 0h0m172 0h0m138 0h0m11 0h0m556 0h0m-1082 1h0m187 0h0m37 0h0m226 0h0m-344 2h0m238 0h0m128 0h0m469 2h0m339 0h0m132 0h0m-302 4h0m-930 2h0m170 0h0m38 0h0m230 0h0m222 0h0m136 0h0m-1031 1h0m118 0h0m230 0h0m224 0h0m25 0h0m-60 1h0m112 0h0m-590 1h0m97 0h0m21 0h0m839 0h0m-727 1h0m649 0h0m-799 1h0m336 0h0m24 0h0m22 0h0m-499 1h0m174 0h0m-99 1h0m114 0h0m118 0h0m36 1h0m193 0h0m59 0h0m-363 1h0m132 0h0m33 0h0m-381 1h0m42 0h0m195 0h0m35 1h0m151 0h0m492 5h0m56 1h0m109 1h0m-993 1h0m477 0h0m-453 1h0m40 0h0m40 0h0m11 0h0m45 0h0m-174 1h0m91 0h0m64 0h0m114 0h0m85 0h0m21 0h0m55 0h0m-111 1h0m-264 1h0m151 0h0m40 0h0m97 0h0m109 0h0m-220 3h0m239 0h0m94 0h0m-648 1h0m272 0h0m230 0h0m744 0h0m-879 1h0m266 0h0m-251 1h0m616 0h0m-931 1h0m409 0h0m-505 3h0m1044 0h0m-24 4h0m-656 1h0m312 0h0m379 1h0m-666 1h0m173 0h0m29 0h0m-467 1h0m218 0h0m118 0h0m119 1h0m-423 1h0m132 0h0m153 0h0m-245 1h0m43 0h0m244 0h0m213 0h0m10 0h0m-458 1h0m248 0h0m-219 1h0m261 0h0m71 0h0m-428 1h0m337 0h0m-471 1h0m90 0h0m78 0h0m193 1h0m-140 8h0m341 0h0m65 0h0m-483 1h0m187 0h0m33 1h0m-12 1h0m-198 1h0m232 1h0m75 0h0m72 0h0m-112 3h0m-317 1h0m392 0h0m20 1h0m137 0h0m-471 1h0m17 0h0m209 1h0m410 3h0m149 1h0m-594 1h0m-59 4h0m173 0h0m-256 2h0m-126 3h0m304 0h0m-223 1h0m176 0h0m-154 1h0m1101 1h0m-1173 1h0m371 0h0m921 3h0m-987 6h0m41 1h0m996 0h0m-1250 3h0m100 3h0m80 0h0m-24 1h0m120 1h0m-295 1h0m-18 1h0m232 0h0m882 3h0m-985 1h0m73 1h0m60 2h0m-193 6h0m-15 1h0m196 0h0m-277 1h0m26 5h0m750 2h0m2008 5h0m-2787 2h0m645 5h0m1992 0h0m-2436 2h0m-424 4h0m101 1h0m1975 3h0m20 0h0m-1653 4h0m-473 3h0m400 0h0m158 3h0m-56 2h0m252 0h0m586 1h0m-609 6h0m-51 2h0m-7 1h0m-26 2h0m-182 1h0m871 1h0m524 4h0m-1379 1h0m42 0h0m-113 2h0m93 0h0m-521 2h0m412 4h0m150 5h0m-551 6h0m491 2h0m618 1h0m389 2h0m92 2h0m-1069 10h0m-78 22h0m-277 12h0m1103 0h0m248 12h0m-264 12h0m-876 19h0m990 3h0m1556 3h0m-1366 7h0m1333 6h0m-1621 7h0m-809 3h0m845 0h0m1208 0h0m-946 74h0m-19 6h0m-175 4h0m627 233h0" stroke="#ad3f46" stroke-width="29" stroke-linecap="round" fill="none"/></g><path d="M416.7 405.2V390.8a10 10 0 0 1 10 -10H770.9a10 10 0 0 1 10 10V405.2Z" fill="#fff"/><text x="526.0" y="400.0" textLength="145.5" lengthAdjust="spacingAndGlyphs" font-family="'Liberation Serif',serif" font-style="italic" font-size="19.5" fill="#1a1a1a">Volodymyr Zelensky</text><g transform="translate(397.5,330)"><polygon points="53.3,108.7 63.0,107.5 73.3,99.7 88.3,99.0 106.7,101.2 128.3,107.8 144.7,108.8 152.5,113.0 159.7,108.3 165.0,115.2 181.3,113.5 189.7,116.2 190.8,101.7 197.5,95.3 213.3,93.2 221.5,94.5 226.0,88.2 238.0,88.5 251.7,86.3 258.3,92.5 265.0,102.0 259.0,111.0 261.7,118.0 276.7,119.7 284.0,132.0 283.8,138.0 309.0,148.0 323.5,143.5 335.5,157.2 346.7,157.0 375.3,166.5 375.6,175.5 367.0,190.8 372.0,206.5 368.7,216.3 350.0,218.2 340.0,227.8 339.5,239.2 325.5,241.7 311.5,251.3 294.0,253.3 281.9,258.3 275.7,263.7 276.5,281.5 286.1,289.0 305.7,287.5 302.1,297.6 280.7,303.6 254.5,319.3 244.4,312.5 248.0,300.5 227.3,291.3 231.3,285.3 248.6,275.5 243.6,269.4 213.5,262.0 211.8,251.2 193.9,254.8 187.3,270.5 172.0,292.4 163.0,287.3 153.9,292.2 145.4,286.7 150.1,283.3 159.2,262.4 157.7,260.5 158.2,258.1 161.5,257.1 163.5,260.5 174.4,261.0 180.1,259.0 177.3,256.2 177.7,251.9 171.1,244.3 170.1,240.0 167.5,233.0 160.8,227.2 162.0,217.5 153.3,209.7 145.8,208.7 130.8,200.0 120.8,201.7 113.3,206.7 105.8,208.3 100.8,213.7 85.8,216.7 79.5,221.0 70.3,214.2 60.0,213.7 46.3,210.5 38.0,216.3 35.8,208.3 25.8,200.8 31.3,186.7 34.7,182.0 38.7,183.0 33.7,170.5 52.5,145.5 61.3,142.5 63.7,135.0" fill="#fff"/><polygon points="248.6,275.5 243.6,269.4 248.0,270.5 276.0,272.5 276.5,281.5 286.1,289.0 305.7,287.5 302.1,297.6 280.7,303.6 254.5,319.3 244.4,312.5 248.0,300.5 227.3,291.3 231.3,285.3" fill="url(#h)"/><polygon points="352.5,194.5 369.0,199.0 372.0,206.5 368.7,216.3 350.0,218.2 340.0,227.8 339.5,239.2 335.5,239.9 333.0,232.5 331.5,224.5 328.0,218.0" fill="url(#h)"/><polygon points="53.3,108.7 63.0,107.5 73.3,99.7 88.3,99.0 106.7,101.2 128.3,107.8 144.7,108.8 152.5,113.0 159.7,108.3 165.0,115.2 181.3,113.5 189.7,116.2 190.8,101.7 197.5,95.3 213.3,93.2 221.5,94.5 226.0,88.2 238.0,88.5 251.7,86.3 258.3,92.5 265.0,102.0 259.0,111.0 261.7,118.0 276.7,119.7 284.0,132.0 283.8,138.0 309.0,148.0 323.5,143.5 335.5,157.2 346.7,157.0 375.3,166.5 375.6,175.5 367.0,190.8 372.0,206.5 368.7,216.3 350.0,218.2 340.0,227.8 339.5,239.2 325.5,241.7 311.5,251.3 294.0,253.3 281.9,258.3 275.7,263.7 276.5,281.5 286.1,289.0 305.7,287.5 302.1,297.6 280.7,303.6 254.5,319.3 244.4,312.5 248.0,300.5 227.3,291.3 231.3,285.3 248.6,275.5 243.6,269.4 213.5,262.0 211.8,251.2 193.9,254.8 187.3,270.5 172.0,292.4 163.0,287.3 153.9,292.2 145.4,286.7 150.1,283.3 159.2,262.4 157.7,260.5 158.2,258.1 161.5,257.1 163.5,260.5 174.4,261.0 180.1,259.0 177.3,256.2 177.7,251.9 171.1,244.3 170.1,240.0 167.5,233.0 160.8,227.2 162.0,217.5 153.3,209.7 145.8,208.7 130.8,200.0 120.8,201.7 113.3,206.7 105.8,208.3 100.8,213.7 85.8,216.7 79.5,221.0 70.3,214.2 60.0,213.7 46.3,210.5 38.0,216.3 35.8,208.3 25.8,200.8 31.3,186.7 34.7,182.0 38.7,183.0 33.7,170.5 52.5,145.5 61.3,142.5 63.7,135.0" fill="none" stroke="#565b60" stroke-width="1.3" stroke-linejoin="round"/><path transform="scale(.1)" d="M2486 864h0m-30 14h0m19 1h0m59 0h0m-249 1h0m140 0h0m-40 1h0m-57 1h0m19 0h0m-75 2h0m128 0h0m102 0h0m-136 3h0m149 1h0m-70 1h0m-126 8h0m130 0h0m56 0h0m-244 1h0m232 0h0m-61 1h0m-77 1h0m25 0h0m31 1h0m131 0h0m-153 1h0m-51 1h0m-63 1h0m200 0h0m51 1h0m-223 2h0m-36 9h0m95 0h0m55 0h0m39 0h0m-108 1h0m184 0h0m-91 1h0m71 0h0m-277 2h0m267 1h0m-97 2h0m174 0h0m-288 2h0m13 0h0m28 0h0m224 1h0m-305 1h0m128 0h0m96 0h0m72 8h0m-442 1h0m423 0h0m-358 1h0m56 0h0m89 0h0m115 0h0m63 1h0m-370 1h0m138 0h0m73 0h0m26 0h0m12 0h0m-284 2h0m150 1h0m60 0h0m158 0h0m-407 2h0m100 0h0m56 0h0m-173 1h0m42 0h0m317 0h0m19 0h0m57 0h0m98 0h0m-554 1h0m273 0h0m225 0h0m79 0h0m-578 8h0m105 0h0m66 1h0m69 0h0m319 0h0m-160 1h0m150 0h0m-274 1h0m95 0h0m-112 1h0m56 0h0m98 0h0m41 0h0m-226 1h0m285 0h0m69 0h0m-602 1h0m31 0h0m347 0h0m-233 1h0m61 0h0m282 0h0m58 0h0m-226 1h0m40 0h0m147 0h0m-457 1h0m40 0h0m137 0h0m-253 1h0m97 0h0m92 0h0m-52 1h0m342 0h0m62 8h0m-553 1h0m289 0h0m79 0h0m112 0h0m-136 1h0m198 0h0m-461 1h0m56 0h0m198 0h0m129 0h0m58 0h0m130 0h0m-222 1h0m204 0h0m-360 1h0m34 0h0m-282 1h0m38 0h0m135 0h0m382 0h0m-483 1h0m519 0h0m-405 1h0m226 0h0m-394 1h0m74 0h0m482 0h0m-440 1h0m11 0h0m60 0h0m157 0h0m116 0h0m-250 1h0m149 0h0m-249 8h0m316 0h0m114 0h0m17 0h0m-1806 1h0m46 0h0m1291 0h0m33 0h0m19 0h0m341 0h0m-1646 1h0m49 0h0m1277 0h0m285 0h0m169 0h0m19 0h0m-703 1h0m18 0h0m100 0h0m213 0h0m-1358 1h0m43 0h0m1059 0h0m19 0h0m386 0h0m-350 1h0m-1186 1h0m1097 0h0m269 0h0m219 0h0m-265 1h0m179 0h0m17 0h0m212 0h0m-1826 1h0m1496 0h0m248 0h0m-1709 1h0m111 0h0m1292 0h0m96 0h0m26 0h0m-1485 1h0m1326 0h0m119 0h0m207 0h0m-153 1h0m223 0h0m1 8h0m-1675 1h0m54 0h0m43 0h0m1080 0h0m136 0h0m87 0h0m332 0h0m-1880 1h0m319 0h0m856 0h0m70 0h0m150 0h0m28 1h0m264 0h0m169 0h0m33 0h0m-1728 1h0m64 0h0m985 0h0m79 0h0m93 0h0m58 0h0m31 0h0m23 0h0m77 0h0m231 0h0m30 0h0m-644 1h0m-1140 1h0m56 0h0m157 0h0m-286 1h0m157 0h0m169 0h0m39 0h0m1290 0h0m149 0h0m-1763 1h0m268 0h0m948 0h0m75 0h0m211 0h0m15 0h0m115 0h0m58 0h0m36 0h0m-1673 1h0m15 0h0m1181 0h0m98 0h0m223 0h0m142 0h0m32 0h0m-1576 1h0m1160 0h0m323 0h0m-1640 1h0m347 0h0m1231 0h0m-1619 8h0m129 0h0m102 0h0m126 0h0m1139 0h0m23 0h0m-1554 1h0m418 0h0m833 0h0m89 0h0m23 0h0m286 0h0m108 0h0m138 0h0m-1804 1h0m280 0h0m1031 0h0m33 0h0m38 0h0m-1344 1h0m320 0h0m877 0h0m52 0h0m195 0h0m36 0h0m138 0h0m124 0h0m68 0h0m-1884 1h0m1436 0h0m192 0h0m-1670 1h0m96 0h0m1525 0h0m-1359 1h0m48 0h0m18 0h0m1170 0h0m275 0h0m19 0h0m112 0h0m-1672 1h0m1047 0h0m127 0h0m177 0h0m264 0h0m-1504 1h0m875 0h0m227 0h0m-1391 1h0m120 0h0m19 0h0m21 0h0m1476 0h0m-1558 1h0m285 0h0m1243 0h0m-1368 1h0m907 0h0m58 0h0m42 0h0m417 0h0m94 0h0m12 0h0m-1868 8h0m195 0h0m66 0h0m177 0h0m892 0h0m252 0h0m30 0h0m93 0h0m-1608 1h0m149 0h0m113 0h0m1052 0h0m76 0h0m-1427 1h0m1541 0h0m170 0h0m92 0h0m14 0h0m86 0h0m-1655 1h0m1078 0h0m138 0h0m-1392 1h0m1317 0h0m88 0h0m-1515 1h0m1254 0h0m77 0h0m143 0h0m199 0h0m-1577 1h0m113 0h0m60 0h0m49 0h0m154 0h0m762 0h0m42 0h0m164 0h0m364 0h0m-1280 1h0m1011 0h0m170 0h0m24 0h0m48 0h0m106 0h0m-1502 1h0m49 0h0m28 0h0m942 0h0m-1385 1h0m116 1h0m223 0h0m154 0h0m837 0h0m263 0h0m210 0h0m77 0h0m24 0h0m-1861 1h0m87 0h0m1140 0h0m349 0h0m16 0h0m116 0h0m-1796 8h0m359 0h0m173 0h0m858 0h0m110 0h0m37 0h0m-1422 1h0m185 0h0m1165 0h0m360 0h0m88 0h0m-1932 1h0m99 0h0m181 0h0m198 0h0m38 0h0m1361 0h0m24 0h0m-1937 1h0m208 0h0m170 0h0m252 0h0m1020 0h0m-1366 1h0m193 0h0m160 0h0m703 0h0m331 0h0m-1274 1h0m169 0h0m1125 0h0m303 0h0m-1659 1h0m191 0h0m1004 0h0m192 0h0m100 0h0m21 0h0m-1746 1h0m570 0h0m712 0h0m95 0h0m323 0h0m59 0h0m100 0h0m-1694 1h0m420 0h0m678 0h0m141 0h0m74 0h0m210 0h0m-1711 1h0m39 0h0m41 0h0m93 0h0m1062 0h0m17 0h0m72 0h0m230 0h0m141 0h0m-1579 1h0m38 0h0m209 0h0m53 0h0m965 0h0m155 0h0m133 0h0m155 0h0m-1601 1h0m306 0h0m820 0h0m279 0h0m312 0h0m-2063 8h0m39 0h0m205 0h0m37 0h0m1725 0h0m42 0h0m-1920 1h0m341 0h0m266 0h0m655 0h0m243 0h0m41 0h0m-1507 1h0m358 0h0m1045 0h0m27 0h0m21 0h0m240 0h0m82 0h0m86 0h0m-2013 1h0m58 0h0m267 0h0m112 0h0m171 0h0m188 0h0m654 0h0m70 0h0m18 0h0m346 0h0m-1327 1h0m22 0h0m71 0h0m709 0h0m351 0h0m78 0h0m-1749 1h0m96 0h0m112 0h0m64 0h0m1173 0h0m-1384 1h0m913 0h0m379 0h0m108 0h0m139 0h0m-1425 1h0m138 0h0m143 0h0m99 0h0m818 0h0m286 0h0m78 0h0m33 0h0m15 0h0m135 0h0m24 0h0m-1784 1h0m93 0h0m130 0h0m1039 0h0m273 0h0m-307 1h0m329 0h0m183 0h0m-1466 1h0m58 0h0m250 0h0m40 0h0m1040 0h0m-1894 1h0m207 0h0m190 0h0m266 0h0m121 0h0m285 0h0m640 0h0m226 0h0m-1735 8h0m346 0h0m126 0h0m397 0h0m341 0h0m119 0h0m-1288 1h0m550 0h0m143 0h0m104 0h0m419 0h0m427 0h0m-1766 1h0m1396 0h0m73 0h0m438 0h0m36 0h0m-1591 1h0m85 0h0m22 0h0m26 0h0m450 0h0m519 0h0m128 0h0m16 0h0m93 0h0m-1517 1h0m36 0h0m190 0h0m308 0h0m270 0h0m392 0h0m55 0h0m122 0h0m129 0h0m-1770 1h0m423 0h0m176 0h0m67 0h0m158 0h0m755 0h0m347 0h0m17 0h0m-1487 1h0m284 0h0m46 0h0m951 0h0m142 0h0m86 0h0m53 0h0m-1906 1h0m1243 0h0m15 0h0m44 0h0m239 0h0m172 0h0m27 0h0m130 0h0m-1908 1h0m66 0h0m1312 0h0m295 0h0m152 0h0m-1877 1h0m19 0h0m117 0h0m36 0h0m40 0h0m1381 0h0m192 0h0m-1558 1h0m585 0h0m884 0h0m-1656 1h0m299 0h0m151 7h0m-381 1h0m55 0h0m243 0h0m18 0h0m348 0h0m10 0h0m-740 1h0m136 0h0m424 0h0m378 0h0m77 0h0m277 0h0m228 0h0m67 0h0m19 0h0m259 0h0m-1845 1h0m142 0h0m266 0h0m551 0h0m466 0h0m-1473 1h0m830 0h0m64 0h0m83 0h0m42 0h0m380 0h0m304 0h0m134 0h0m-1628 1h0m295 0h0m292 0h0m113 0h0m15 0h0m604 0h0m390 0h0m33 0h0m52 0h0m-2041 1h0m48 0h0m58 0h0m424 0h0m855 0h0m165 0h0m290 0h0m58 0h0m-1255 1h0m70 0h0m38 0h0m229 0h0m703 0h0m81 0h0m-1750 1h0m147 0h0m502 0h0m18 0h0m96 0h0m721 0h0m38 0h0m492 0h0m-803 1h0m121 0h0m259 0h0m104 0h0m-1557 1h0m122 0h0m419 0h0m49 0h0m656 0h0m16 0h0m47 0h0m163 0h0m159 0h0m131 0h0m-1653 1h0m585 0h0m43 0h0m838 0h0m69 0h0m178 0h0m31 0h0m-523 1h0m338 0h0m42 0h0m-959 1h0m-391 6h0m-493 1h0m231 0h0m434 0h0m190 0h0m25 0h0m224 0h0m40 0h0m16 0h0m104 0h0m-1124 1h0m125 0h0m563 0h0m635 0h0m86 0h0m74 0h0m20 0h0m94 0h0m-1753 1h0m74 0h0m122 0h0m105 0h0m61 0h0m53 0h0m124 0h0m68 0h0m41 0h0m780 0h0m22 0h0m266 0h0m-1540 1h0m1361 0h0m189 0h0m190 0h0m123 0h0m-1927 1h0m825 0h0m38 0h0m38 0h0m220 0h0m179 0h0m530 0h0m11 0h0m-1912 1h0m699 0h0m250 0h0m62 0h0m170 0h0m244 0h0m114 0h0m248 0h0m55 0h0m97 0h0m-1884 1h0m606 0h0m58 0h0m93 0h0m175 0h0m229 0h0m98 0h0m142 0h0m27 0h0m261 0h0m23 0h0m-1351 1h0m499 0h0m720 0h0m165 0h0m161 0h0m15 0h0m33 0h0m-1912 1h0m76 0h0m284 0h0m572 0h0m17 0h0m52 0h0m59 0h0m99 0h0m94 0h0m226 0h0m242 0h0m-1269 1h0m39 0h0m42 0h0m103 0h0m29 0h0m299 0h0m495 0h0m173 0h0m-1710 1h0m169 0h0m98 0h0m20 0h0m1347 0h0m-1312 1h0m55 0h0m41 0h0m241 0h0m193 0h0m987 0h0m-1106 7h0m-786 1h0m385 0h0m480 0h0m260 0h0m419 0h0m-1043 1h0m31 0h0m264 0h0m47 0h0m230 0h0m395 0h0m56 0h0m-1363 1h0m50 0h0m82 0h0m165 0h0m422 0h0m286 0h0m608 0h0m191 0h0m-969 1h0m230 0h0m409 0h0m-1265 1h0m51 0h0m205 0h0m144 0h0m188 0h0m147 0h0m134 0h0m166 0h0m200 0h0m188 0h0m52 0h0m63 0h0m-1866 1h0m231 0h0m551 0h0m363 0h0m18 0h0m770 0h0m-1308 1h0m42 0h0m15 0h0m415 0h0m541 0h0m-1506 1h0m16 0h0m46 0h0m794 0h0m478 0h0m433 0h0m-1866 1h0m328 0h0m108 0h0m134 0h0m273 0h0m90 0h0m418 0h0m324 0h0m121 0h0m11 0h0m46 0h0m-1902 1h0m568 0h0m304 0h0m150 0h0m613 0h0m35 0h0m-1592 1h0m18 0h0m16 0h0m167 0h0m269 0h0m41 0h0m134 0h0m182 0h0m152 0h0m369 0h0m30 0h0m85 0h0m52 0h0m94 0h0m16 0h0m104 0h0m202 0h0m-1977 1h0m378 0h0m49 0h0m201 0h0m288 0h0m838 0h0m190 0h0m13 0h0m-1245 7h0m-201 1h0m39 0h0m14 0h0m337 0h0m67 1h0m426 0h0m60 0h0m139 0h0m30 0h0m-1548 1h0m620 0h0m744 0h0m278 0h0m-1533 1h0m299 0h0m458 0h0m101 0h0m315 0h0m20 0h0m150 0h0m40 0h0m229 0h0m27 0h0m11 0h0m-1749 1h0m153 0h0m815 0h0m417 0h0m269 0h0m255 0h0m-1615 1h0m16 0h0m456 0h0m762 0h0m238 0h0m123 0h0m-2001 1h0m158 0h0m275 0h0m66 0h0m126 0h0m60 0h0m209 0h0m477 0h0m534 0h0m-1848 1h0m75 0h0m61 0h0m150 0h0m271 0h0m32 0h0m15 0h0m41 0h0m61 0h0m17 0h0m55 0h0m174 0h0m530 0h0m377 0h0m156 0h0m-2048 1h0m56 0h0m94 0h0m117 0h0m760 0h0m50 0h0m577 0h0m356 0h0m76 0h0m-2068 1h0m201 0h0m1273 0h0m68 0h0m107 0h0m16 0h0m80 0h0m173 0h0m-1979 1h0m875 0h0m59 0h0m109 0h0m783 0h0m131 0h0m111 0h0m46 0h0m-1732 1h0m584 0h0m171 0h0m607 0h0m256 0h0m-1430 1h0m802 0h0m-1187 7h0m702 0h0m660 0h0m178 0h0m108 0h0m175 0h0m192 0h0m-1831 1h0m74 0h0m247 0h0m313 0h0m467 0h0m45 0h0m17 0h0m365 0h0m-1298 1h0m322 0h0m155 0h0m412 0h0m137 0h0m556 0h0m-2119 1h0m651 0h0m54 0h0m253 0h0m895 0h0m-1807 1h0m327 0h0m76 0h0m279 0h0m109 0h0m522 0h0m604 0h0m-1938 1h0m872 0h0m80 0h0m395 0h0m22 0h0m148 0h0m42 0h0m59 0h0m169 0h0m74 0h0m20 0h0m-1840 1h0m930 0h0m324 0h0m192 0h0m92 0h0m22 0h0m112 0h0m128 0h0m63 0h0m164 0h0m-2106 1h0m337 0h0m170 0h0m196 0h0m1069 0h0m228 0h0m10 0h0m59 0h0m16 0h0m-1990 1h0m1250 0h0m386 0h0m320 0h0m-1935 1h0m40 0h0m15 0h0m54 0h0m705 0h0m757 0h0m-1189 1h0m189 0h0m857 0h0m259 0h0m-1843 1h0m21 0h0m494 0h0m52 0h0m59 0h0m307 0h0m1142 0h0m-1858 8h0m308 0h0m40 0h0m172 0h0m1326 0h0m-1961 1h0m160 0h0m75 0h0m89 0h0m329 0h0m125 0h0m746 0h0m496 0h0m17 0h0m-2070 1h0m112 0h0m172 0h0m643 0h0m28 0h0m374 0h0m61 0h0m208 0h0m37 0h0m20 0h0m57 0h0m58 0h0m40 0h0m57 0h0m108 0h0m-2035 1h0m46 0h0m355 0h0m1576 0h0m189 0h0m-2149 1h0m122 0h0m92 0h0m265 0h0m166 0h0m307 0h0m994 0h0m-498 1h0m62 0h0m256 0h0m96 0h0m-1761 1h0m36 0h0m644 0h0m159 0h0m466 0h0m159 0h0m361 0h0m-1679 1h0m120 0h0m58 0h0m92 0h0m365 0h0m477 0h0m262 0h0m-816 1h0m588 0h0m80 0h0m10 0h0m57 0h0m114 0h0m179 0h0m171 0h0m55 0h0m19 0h0m-2018 1h0m119 0h0m506 0h0m62 0h0m155 0h0m830 0h0m150 0h0m-1592 1h0m168 0h0m213 0h0m169 0h0m738 0h0m399 0h0m-1057 1h0m603 0h0m266 0h0m340 0h0m36 0h0m-1847 7h0m131 0h0m292 0h0m-729 1h0m36 0h0m38 0h0m157 0h0m398 0h0m306 0h0m226 0h0m550 0h0m357 0h0m-2052 1h0m102 0h0m335 0h0m693 0h0m849 0h0m-1608 1h0m32 0h0m321 0h0m61 0h0m414 0h0m137 0h0m93 0h0m34 0h0m60 0h0m73 0h0m331 0h0m-1769 1h0m150 0h0m326 0h0m323 0h0m432 0h0m157 0h0m339 0h0m-1495 1h0m774 0h0m152 0h0m36 0h0m323 0h0m150 0h0m-1855 1h0m68 0h0m85 0h0m18 0h0m52 0h0m344 0h0m289 0h0m105 0h0m44 0h0m469 0h0m190 0h0m106 0h0m31 0h0m194 0h0m-1220 1h0m118 0h0m1000 0h0m289 0h0m-2069 2h0m755 0h0m39 0h0m305 0h0m38 0h0m192 0h0m72 0h0m93 0h0m47 0h0m30 0h0m105 0h0m35 0h0m112 0h0m232 0h0m-1680 1h0m227 0h0m81 0h0m612 0h0m186 0h0m152 0h0m325 0h0m54 0h0m-1842 1h0m69 0h0m180 0h0m49 0h0m49 0h0m296 0h0m606 0h0m313 0h0m190 0h0m11 0h0m99 0h0m-1879 1h0m770 0h0m847 0h0m94 0h0m128 0h0m-784 3h0m-595 4h0m-188 1h0m461 0h0m170 0h0m18 0h0m696 0h0m189 0h0m-1976 1h0m153 0h0m21 0h0m155 0h0m516 0h0m132 0h0m260 0h0m25 0h0m224 0h0m37 0h0m254 0h0m144 0h0m-1893 1h0m523 0h0m215 0h0m585 0h0m366 0h0m-1736 1h0m323 0h0m267 0h0m26 0h0m260 0h0m425 0h0m148 0h0m516 0h0m94 0h0m-1821 1h0m32 0h0m281 0h0m118 0h0m462 0h0m351 0h0m210 0h0m75 0h0m-1683 1h0m22 0h0m48 0h0m535 0h0m38 0h0m595 0h0m390 0h0m134 0h0m137 0h0m97 0h0m13 0h0m-2140 1h0m14 0h0m396 0h0m531 0h0m57 0h0m209 0h0m236 0h0m259 0h0m179 0h0m58 0h0m17 0h0m-1851 1h0m384 0h0m192 0h0m397 0h0m-1117 1h0m298 0h0m36 0h0m457 0h0m441 0h0m282 0h0m45 0h0m162 0h0m474 0h0m-1990 1h0m947 0h0m267 0h0m246 0h0m175 0h0m267 0h0m15 0h0m-2106 1h0m54 0h0m550 0h0m264 0h0m25 0h0m777 0h0m326 0h0m-1508 1h0m596 0h0m341 0h0m54 0h0m112 0h0m48 0h0m46 0h0m58 0h0m-1390 7h0m337 0h0m-284 1h0m131 0h0m425 0h0m265 0h0m602 0h0m151 0h0m-1931 1h0m16 0h0m25 0h0m684 0h0m161 0h0m48 0h0m37 0h0m166 0h0m193 0h0m60 0h0m165 0h0m114 0h0m405 0h0m-2019 1h0m32 0h0m617 0h0m40 0h0m547 0h0m511 0h0m-1627 1h0m221 0h0m17 0h0m27 0h0m15 0h0m533 0h0m132 0h0m361 0h0m248 0h0m318 0h0m64 0h0m-1482 1h0m434 0h0m97 0h0m449 0h0m284 0h0m63 0h0m185 0h0m-1481 1h0m169 0h0m675 0h0m264 0h0m71 0h0m191 0h0m97 0h0m-1125 1h0m19 0h0m64 0h0m221 0h0m227 0h0m118 0h0m41 0h0m-1708 1h0m964 0h0m94 0h0m785 0h0m187 0h0m-1426 1h0m222 0h0m711 0h0m58 0h0m16 0h0m147 0h0m177 0h0m-1959 1h0m109 0h0m250 0h0m16 0h0m215 0h0m21 0h0m794 0h0m43 0h0m48 0h0m248 0h0m273 0h0m182 0h0m-2217 1h0m193 0h0m336 0h0m136 0h0m247 0h0m241 0h0m247 0h0m80 0h0m204 0h0m-1511 1h0m39 0h0m721 0h0m570 0h0m440 0h0m112 0h0m-1957 8h0m254 0h0m667 0h0m335 0h0m177 0h0m395 0h0m154 0h0m-1354 1h0m157 0h0m344 0h0m12 0h0m189 0h0m363 0h0m43 0h0m-892 1h0m260 0h0m481 0h0m128 0h0m406 0h0m-2042 1h0m778 0h0m136 0h0m45 0h0m278 0h0m193 0h0m-1573 1h0m87 0h0m20 0h0m285 0h0m267 0h0m148 0h0m193 0h0m26 0h0m13 0h0m42 0h0m894 0h0m96 0h0m70 0h0m-2170 1h0m85 0h0m590 0h0m906 0h0m57 0h0m212 0h0m16 0h0m158 0h0m16 0h0m97 0h0m-2090 1h0m13 0h0m98 0h0m58 0h0m358 0h0m170 0h0m76 0h0m73 0h0m290 0h0m708 0h0m70 0h0m-1767 1h0m253 0h0m40 0h0m12 0h0m56 0h0m223 0h0m141 0h0m52 0h0m513 0h0m61 0h0m76 0h0m73 0h0m16 0h0m230 0h0m178 0h0m-1807 1h0m90 0h0m454 0h0m285 0h0m516 0h0m320 0h0m-1364 1h0m158 0h0m602 0h0m133 0h0m227 0h0m21 0h0m-1391 1h0m96 0h0m708 0h0m221 0h0m65 0h0m21 0h0m93 0h0m203 0h0m284 0h0m-1345 1h0m557 0h0m923 0h0m-1826 8h0m57 0h0m334 0h0m27 0h0m374 0h0m97 0h0m212 0h0m297 0h0m150 0h0m-1881 1h0m63 0h0m209 0h0m229 0h0m260 0h0m137 0h0m78 0h0m75 0h0m547 0h0m103 0h0m297 0h0m40 0h0m62 0h0m47 0h0m-2104 1h0m116 0h0m41 0h0m450 0h0m194 0h0m70 0h0m270 0h0m718 0h0m22 0h0m-1670 1h0m154 0h0m260 0h0m948 0h0m40 0h0m476 0h0m-1665 1h0m393 0h0m229 0h0m58 0h0m564 0h0m95 0h0m59 0h0m-1636 1h0m845 0h0m451 0h0m548 0h0m-1625 1h0m583 0h0m451 0h0m84 0h0m20 0h0m248 0h0m19 0h0m167 0h0m88 0h0m-2084 1h0m72 0h0m473 0h0m598 0h0m173 0h0m111 0h0m300 0h0m15 0h0m175 0h0m24 0h0m91 0h0m149 0h0m-2124 1h0m53 0h0m283 0h0m62 0h0m209 0h0m272 0h0m148 0h0m98 0h0m152 0h0m114 0h0m166 0h0m-1323 1h0m563 0h0m60 0h0m433 0h0m175 0h0m127 0h0m116 0h0m396 0h0m-2196 1h0m1406 0h0m11 0h0m572 0h0m196 0h0m-2061 1h0m59 0h0m177 0h0m18 0h0m189 0h0m77 0h0m78 0h0m281 0h0m25 0h0m294 0h0m199 0h0m-1300 1h0m179 7h0m233 0h0m229 0h0m551 0h0m214 0h0m127 0h0m133 0h0m-1125 1h0m217 0h0m109 0h0m37 0h0m56 0h0m462 0h0m39 0h0m221 0h0m-1877 1h0m533 0h0m175 0h0m808 0h0m475 0h0m20 0h0m-2026 1h0m318 0h0m111 0h0m84 0h0m52 0h0m128 0h0m47 0h0m29 0h0m20 0h0m39 0h0m153 0h0m80 0h0m530 0h0m225 0h0m177 0h0m145 0h0m-2103 1h0m16 0h0m158 0h0m56 0h0m113 0h0m90 0h0m441 0h0m775 0h0m84 0h0m8 0h0m67 0h0m264 0h0m-1924 1h0m111 0h0m345 0h0m382 0h0m23 0h0m144 0h0m93 0h0m22 0h0m61 0h0m59 0h0m69 0h0m685 0h0m-1818 1h0m57 0h0m40 0h0m224 0h0m261 0h0m265 0h0m124 0h0m16 0h0m37 0h0m166 0h0m98 0h0m156 0h0m147 0h0m121 0h0m15 0h0m36 0h0m-1990 1h0m677 0h0m65 0h0m580 0h0m25 0h0m430 0h0m290 0h0m-2113 1h0m62 0h0m17 0h0m176 0h0m260 0h0m62 0h0m267 0h0m511 0h0m526 0h0m-1739 1h0m10 0h0m250 0h0m38 0h0m478 0h0m699 0h0m455 0h0m-2085 1h0m38 0h0m780 0h0m206 0h0m421 0h0m208 0h0m211 0h0m105 0h0m-890 1h0m422 0h0m279 0h0m-1694 8h0m40 0h0m543 0h0m62 0h0m130 0h0m423 0h0m267 0h0m477 0h0m70 0h0m-2160 1h0m161 0h0m360 0h0m237 0h0m201 0h0m114 0h0m199 0h0m37 0h0m276 0h0m82 0h0m302 0h0m-1895 1h0m184 0h0m65 0h0m655 0h0m401 0h0m-1174 1h0m263 0h0m896 0h0m117 0h0m165 0h0m134 0h0m228 0h0m55 0h0m-1650 1h0m418 0h0m287 0h0m12 0h0m19 0h0m38 0h0m64 0h0m182 0h0m59 0h0m39 0h0m282 0h0m139 0h0m-1900 1h0m229 0h0m115 0h0m260 0h0m363 0h0m78 0h0m414 0h0m119 0h0m51 0h0m-1344 1h0m21 0h0m89 0h0m102 0h0m171 0h0m226 0h0m984 0h0m56 0h0m46 0h0m18 0h0m53 0h0m-2075 1h0m189 0h0m26 0h0m648 0h0m811 0h0m149 0h0m48 0h0m18 0h0m-1814 1h0m523 0h0m58 0h0m128 0h0m97 0h0m296 0h0m212 0h0m139 0h0m163 0h0m404 0h0m55 0h0m-2047 1h0m166 0h0m194 0h0m352 0h0m155 0h0m37 0h0m21 0h0m115 0h0m62 0h0m171 0h0m342 0h0m130 0h0m-1858 1h0m73 0h0m414 0h0m91 0h0m43 0h0m642 0h0m180 0h0m110 0h0m227 0h0m41 0h0m-1461 1h0m54 0h0m437 0h0m457 0h0m435 0h0m-1676 8h0m72 0h0m21 0h0m67 0h0m78 0h0m215 0h0m107 0h0m44 0h0m267 0h0m79 0h0m28 0h0m41 0h0m170 0h0m306 0h0m423 0h0m-1299 1h0m113 0h0m118 0h0m60 0h0m684 0h0m88 0h0m117 0h0m306 0h0m-2144 1h0m372 0h0m139 0h0m185 0h0m139 0h0m358 0h0m20 0h0m264 0h0m92 0h0m114 0h0m23 0h0m53 0h0m135 0h0m138 0h0m-1944 1h0m92 0h0m114 0h0m119 0h0m52 0h0m77 0h0m313 0h0m111 0h0m459 0h0m579 0h0m-2023 1h0m760 0h0m73 0h0m-856 1h0m434 0h0m43 0h0m131 0h0m193 0h0m379 0h0m148 0h0m224 0h0m230 0h0m121 0h0m189 0h0m-2109 1h0m74 0h0m214 0h0m13 0h0m436 0h0m43 0h0m277 0h0m303 0h0m42 0h0m250 0h0m210 0h0m74 0h0m186 0h0m-1911 1h0m10 0h0m1112 0h0m86 0h0m82 0h0m54 0h0m147 0h0m28 0h0m109 0h0m327 0h0m-1794 1h0m137 0h0m477 0h0m167 0h0m76 0h0m157 0h0m286 0h0m211 0h0m147 0h0m15 0h0m95 0h0m43 0h0m-1602 1h0m878 0h0m-1353 1h0m21 0h0m272 0h0m18 0h0m228 0h0m41 0h0m417 0h0m343 0h0m74 0h0m89 0h0m383 0h0m-1677 1h0m543 0h0m70 0h0m210 0h0m39 0h0m34 0h0m101 0h0m-732 8h0m647 0h0m340 0h0m13 0h0m305 0h0m-963 1h0m87 0h0m156 0h0m216 0h0m111 0h0m13 0h0m40 0h0m76 0h0m475 0h0m137 0h0m-2168 1h0m17 0h0m245 0h0m66 0h0m76 0h0m70 0h0m233 0h0m126 0h0m345 0h0m18 0h0m13 0h0m145 0h0m37 0h0m66 0h0m238 0h0m261 0h0m35 0h0m27 0h0m-1963 1h0m111 0h0m404 0h0m760 0h0m203 0h0m57 0h0m-1170 1h0m164 0h0m59 0h0m121 0h0m161 0h0m312 0h0m417 0h0m17 0h0m224 0h0m20 0h0m228 0h0m-2030 1h0m40 0h0m154 0h0m225 0h0m153 0h0m32 0h0m272 0h0m745 0h0m18 0h0m125 0h0m58 0h0m111 0h0m-1663 1h0m110 0h0m300 0h0m80 0h0m15 0h0m75 0h0m104 0h0m70 0h0m140 0h0m-1319 1h0m22 0h0m112 0h0m95 0h0m168 0h0m247 0h0m140 0h0m74 0h0m233 0h0m244 0h0m72 0h0m-1237 1h0m313 0h0m470 0h0m169 0h0m720 0h0m-1881 1h0m114 0h0m207 0h0m218 0h0m793 0h0m330 0h0m182 0h0m94 0h0m123 0h0m87 0h0m63 0h0m-2191 1h0m407 0h0m204 0h0m74 0h0m44 0h0m111 0h0m230 0h0m397 0h0m212 0h0m16 0h0m151 0h0m60 0h0m-1771 1h0m212 0h0m742 0h0m97 0h0m965 0h0m-2064 8h0m479 0h0m486 0h0m175 0h0m898 0h0m-1962 1h0m833 0h0m102 0h0m168 0h0m34 0h0m76 0h0m134 0h0m537 0h0m94 0h0m-2016 1h0m80 0h0m11 0h0m270 0h0m304 0h0m422 0h0m206 0h0m134 0h0m186 0h0m273 0h0m11 0h0m153 0h0m-1894 1h0m164 0h0m192 0h0m538 0h0m172 0h0m143 0h0m160 0h0m591 0h0m-2203 1h0m34 0h0m41 0h0m143 0h0m60 0h0m269 0h0m299 0h0m56 0h0m194 0h0m113 0h0m120 0h0m27 0h0m399 0h0m-1419 1h0m337 0h0m896 0h0m321 0h0m283 0h0m-1458 1h0m54 0h0m95 0h0m66 0h0m103 0h0m403 0h0m-1502 1h0m212 0h0m108 0h0m142 0h0m77 0h0m171 0h0m14 0h0m150 0h0m137 0h0m303 0h0m287 0h0m16 0h0m498 0h0m-2094 1h0m401 0h0m264 0h0m173 0h0m354 0h0m137 0h0m136 0h0m223 0h0m75 0h0m136 0h0m64 0h0m198 0h0m45 0h0m-2053 1h0m96 0h0m279 0h0m21 0h0m191 0h0m304 0h0m401 0h0m375 0h0m22 0h0m148 0h0m117 0h0m188 0h0m-2239 1h0m302 0h0m247 0h0m173 0h0m246 0h0m97 0h0m40 0h0m379 0h0m135 0h0m108 0h0m132 0h0m57 0h0m102 0h0m-2054 1h0m325 0h0m73 0h0m53 0h0m158 0h0m247 0h0m50 0h0m714 0h0m223 0h0m18 0h0m-1695 7h0m-213 1h0m511 0h0m79 0h0m164 0h0m67 0h0m169 0h0m54 0h0m22 0h0m339 0h0m747 0h0m132 0h0m-2173 1h0m74 0h0m743 0h0m82 0h0m72 0h0m136 0h0m51 0h0m382 0h0m57 0h0m309 0h0m189 0h0m-1983 1h0m271 0h0m227 0h0m74 0h0m172 0h0m153 0h0m119 0h0m111 0h0m152 0h0m110 0h0m286 0h0m-1555 1h0m116 0h0m375 0h0m473 0h0m269 0h0m24 0h0m699 0h0m-2010 1h0m181 0h0m98 0h0m530 0h0m268 0h0m357 0h0m19 0h0m323 0h0m251 0h0m-2332 1h0m458 0h0m410 0h0m328 0h0m287 0h0m581 0h0m47 0h0m32 0h0m-2096 1h0m351 0h0m166 0h0m61 0h0m134 0h0m153 0h0m12 0h0m112 0h0m135 0h0m98 0h0m300 0h0m779 0h0m-2008 1h0m32 0h0m294 0h0m131 0h0m96 0h0m760 0h0m182 0h0m212 0h0m73 0h0m270 0h0m-1846 1h0m171 0h0m245 0h0m349 0h0m41 0h0m56 0h0m50 0h0m501 0h0m-1690 1h0m19 0h0m151 0h0m722 0h0m380 0h0m169 0h0m150 0h0m128 0h0m386 0h0m-2180 1h0m126 0h0m96 0h0m262 0h0m25 0h0m517 0h0m225 0h0m58 0h0m469 0h0m39 0h0m-1364 1h0m910 0h0m128 0h0m249 0h0m-1893 2h0m711 6h0m471 0h0m133 0h0m167 0h0m136 0h0m94 0h0m217 0h0m-1558 1h0m146 0h0m417 0h0m148 0h0m446 0h0m320 0h0m168 0h0m-1558 1h0m44 0h0m57 0h0m10 0h0m173 0h0m272 0h0m626 0h0m14 0h0m331 0h0m53 0h0m43 0h0m226 0h0m-2397 1h0m420 0h0m319 0h0m114 0h0m306 0h0m38 0h0m346 0h0m57 0h0m34 0h0m39 0h0m223 0h0m59 0h0m-1195 1h0m185 0h0m47 0h0m51 0h0m42 0h0m910 0h0m56 0h0m307 0h0m-1992 1h0m28 0h0m48 0h0m255 0h0m365 0h0m168 0h0m56 0h0m83 0h0m73 0h0m74 0h0m252 0h0m56 0h0m210 0h0m384 0h0m-1911 1h0m210 0h0m59 0h0m480 0h0m134 0h0m106 0h0m289 0h0m452 0h0m77 0h0m329 0h0m-2664 1h0m331 0h0m75 0h0m1265 0h0m226 0h0m100 0h0m451 0h0m-2315 1h0m382 0h0m127 0h0m67 0h0m124 0h0m116 0h0m292 0h0m129 0h0m212 0h0m580 0h0m134 0h0m61 0h0m157 0h0m180 0h0m-2595 1h0m258 0h0m193 0h0m440 0h0m944 0h0m176 0h0m95 0h0m-1616 1h0m308 0h0m16 0h0m250 0h0m173 0h0m111 0h0m32 0h0m21 0h0m213 0h0m528 0h0m436 0h0m42 0h0m-2678 1h0m299 0h0m151 0h0m443 0h0m94 0h0m119 0h0m1248 0h0m79 0h0m172 0h0m-2538 1h0m364 7h0m86 0h0m330 0h0m130 0h0m96 0h0m1296 0h0m13 0h0m231 0h0m15 0h0m39 0h0m-2217 1h0m222 0h0m185 0h0m352 0h0m277 0h0m252 0h0m203 0h0m141 0h0m357 0h0m-2361 1h0m400 0h0m286 0h0m172 0h0m118 0h0m131 0h0m132 0h0m63 0h0m49 0h0m113 0h0m124 0h0m38 0h0m20 0h0m199 0h0m136 0h0m111 0h0m96 0h0m141 0h0m182 0h0m-1803 1h0m112 0h0m28 0h0m107 0h0m267 0h0m100 0h0m112 0h0m-1526 1h0m72 0h0m332 0h0m340 0h0m401 0h0m229 0h0m168 0h0m76 0h0m706 0h0m393 0h0m-2007 1h0m57 0h0m660 0h0m214 0h0m380 0h0m132 0h0m152 0h0m30 0h0m-1969 1h0m109 0h0m41 0h0m78 0h0m435 0h0m71 0h0m592 0h0m83 0h0m123 0h0m105 0h0m30 0h0m209 0h0m255 0h0m16 0h0m38 0h0m111 0h0m-2695 1h0m337 0h0m45 0h0m491 0h0m173 0h0m277 0h0m65 0h0m571 0h0m51 0h0m83 0h0m77 0h0m296 0h0m137 0h0m-2151 1h0m558 0h0m150 0h0m56 0h0m57 0h0m38 0h0m372 0h0m-1361 1h0m279 0h0m247 0h0m82 0h0m266 0h0m100 0h0m225 0h0m89 0h0m17 0h0m629 0h0m483 0h0m-2152 1h0m90 0h0m23 0h0m1125 0h0m14 0h0m308 0h0m96 0h0m52 0h0m325 0h0m-2265 1h0m65 0h0m226 0h0m18 0h0m95 0h0m736 0h0m360 0h0m346 0h0m-2146 2h0m104 4h0m-120 1h0m448 1h0m1231 0h0m184 0h0m385 0h0m114 0h0m224 0h0m-2088 1h0m194 0h0m146 0h0m555 0h0m414 0h0m218 0h0m106 0h0m22 0h0m271 0h0m-2071 1h0m53 0h0m229 0h0m94 0h0m154 0h0m242 0h0m98 0h0m287 0h0m247 0h0m184 0h0m330 0h0m17 0h0m212 0h0m201 0h0m-2279 1h0m62 0h0m228 0h0m55 0h0m23 0h0m32 0h0m91 0h0m238 0h0m376 0h0m56 0h0m324 0h0m441 0h0m-1542 1h0m188 0h0m253 0h0m371 0h0m17 0h0m599 0h0m-1846 1h0m130 0h0m59 0h0m167 0h0m445 0h0m126 0h0m21 0h0m17 0h0m61 0h0m19 0h0m41 0h0m226 0h0m127 0h0m783 0h0m20 0h0m-2368 1h0m354 0h0m437 0h0m20 0h0m41 0h0m168 0h0m818 0h0m200 0h0m21 0h0m417 0h0m-2429 1h0m24 0h0m29 0h0m178 0h0m114 0h0m298 0h0m208 0h0m105 0h0m342 0h0m171 0h0m13 0h0m175 0h0m74 0h0m479 0h0m-2051 1h0m123 0h0m425 0h0m183 0h0m367 0h0m358 0h0m56 0h0m137 0h0m61 0h0m10 0h0m214 0h0m78 0h0m94 0h0m-2336 1h0m38 0h0m285 0h0m416 0h0m395 0h0m359 0h0m276 0h0m523 0h0m-2241 1h0m573 0h0m36 0h0m39 0h0m94 0h0m270 0h0m183 0h0m58 0h0m115 0h0m63 0h0m171 0h0m568 0h0m-1784 1h0m414 0h0m366 0h0m390 0h0m711 0h0m86 0h0m78 0h0m-2387 8h0m98 0h0m65 0h0m1820 0h0m172 0h0m129 0h0m26 0h0m-2534 1h0m268 0h0m171 0h0m74 0h0m37 0h0m748 0h0m371 0h0m27 0h0m168 0h0m261 0h0m324 0h0m140 0h0m33 0h0m-1896 1h0m472 0h0m43 0h0m599 0h0m95 0h0m125 0h0m122 0h0m249 0h0m-2234 1h0m544 0h0m283 0h0m81 0h0m31 0h0m46 0h0m549 0h0m59 0h0m17 0h0m224 0h0m41 0h0m244 0h0m-2026 1h0m14 0h0m151 0h0m83 0h0m530 0h0m377 0h0m22 0h0m932 0h0m167 0h0m-2198 1h0m32 0h0m210 0h0m18 0h0m38 0h0m345 0h0m107 0h0m151 0h0m306 0h0m665 0h0m237 0h0m15 0h0m-2078 1h0m65 0h0m20 0h0m78 0h0m11 0h0m253 0h0m70 0h0m45 0h0m378 0h0m55 0h0m22 0h0m11 0h0m-1253 1h0m43 0h0m570 0h0m150 0h0m437 0h0m117 0h0m126 0h0m270 0h0m35 0h0m685 0h0m-2254 1h0m531 0h0m286 0h0m55 0h0m36 0h0m58 0h0m857 0h0m-1926 1h0m436 0h0m308 0h0m56 0h0m481 0h0m14 0h0m58 0h0m109 0h0m305 0h0m79 0h0m205 0h0m114 0h0m-2392 1h0m86 0h0m549 0h0m108 0h0m61 0h0m72 0h0m190 0h0m477 0h0m94 0h0m459 0h0m35 0h0m78 0h0m113 0h0m211 0h0m-1842 1h0m93 0h0m60 0h0m112 0h0m530 0h0m133 0h0m118 0h0m8 0h0m61 0h0m172 0h0m267 0h0m-2330 2h0m265 6h0m174 0h0m41 0h0m1360 0h0m650 0h0m-2300 1h0m154 0h0m232 0h0m12 0h0m47 0h0m46 0h0m846 0h0m1027 0h0m15 0h0m-2056 1h0m399 0h0m40 0h0m19 0h0m204 0h0m80 0h0m22 0h0m187 0h0m566 0h0m85 0h0m18 0h0m98 0h0m160 0h0m67 0h0m12 0h0m-2581 1h0m113 0h0m302 0h0m156 0h0m849 0h0m502 0h0m76 0h0m268 0h0m55 0h0m-1882 1h0m78 0h0m16 0h0m361 0h0m325 0h0m58 0h0m411 0h0m99 0h0m337 0h0m294 0h0m351 0h0m-2745 1h0m694 0h0m60 0h0m223 0h0m96 0h0m25 0h0m60 0h0m260 0h0m153 0h0m74 0h0m134 0h0m77 0h0m418 0h0m530 0h0m-2426 1h0m68 0h0m494 0h0m228 0h0m287 0h0m131 0h0m118 0h0m552 0h0m435 0h0m16 0h0m76 0h0m-1898 1h0m134 0h0m292 0h0m201 0h0m227 0h0m712 0h0m151 0h0m9 0h0m124 0h0m32 0h0m-1801 1h0m246 0h0m21 0h0m457 0h0m147 0h0m226 0h0m26 0h0m241 0h0m42 0h0m-1750 1h0m489 0h0m217 0h0m105 0h0m102 0h0m89 0h0m101 0h0m188 0h0m120 0h0m317 0h0m326 0h0m-2039 1h0m156 0h0m14 0h0m26 0h0m77 0h0m19 0h0m362 0h0m85 0h0m1090 0h0m-2001 1h0m266 0h0m114 0h0m293 0h0m683 0h0m58 0h0m129 0h0m36 0h0m93 0h0m23 0h0m-1920 2h0m139 6h0m230 0h0m728 0h0m243 0h0m140 0h0m10 0h0m516 0h0m-1610 1h0m90 0h0m281 0h0m196 0h0m75 0h0m147 0h0m23 0h0m170 0h0m174 0h0m435 0h0m71 0h0m64 0h0m242 0h0m-2599 1h0m532 0h0m280 0h0m57 0h0m46 0h0m48 0h0m135 0h0m291 0h0m358 0h0m262 0h0m38 0h0m625 0h0m-2100 1h0m135 0h0m133 0h0m188 0h0m18 0h0m173 0h0m242 0h0m77 0h0m138 0h0m244 0h0m186 0h0m271 0h0m163 0h0m197 0h0m-2258 1h0m70 0h0m38 0h0m401 0h0m266 0h0m33 0h0m650 0h0m252 0h0m75 0h0m147 0h0m37 0h0m24 0h0m322 0h0m-2809 1h0m525 0h0m169 0h0m66 0h0m35 0h0m282 0h0m821 0h0m187 0h0m23 0h0m109 0h0m366 0h0m-1908 1h0m267 0h0m17 0h0m294 0h0m110 0h0m22 0h0m191 0h0m33 0h0m39 0h0m706 0h0m316 0h0m-1540 1h0m574 0h0m72 0h0m230 0h0m150 0h0m141 0h0m149 0h0m154 0h0m-2260 1h0m71 0h0m35 0h0m29 0h0m392 0h0m38 0h0m197 0h0m568 0h0m154 0h0m28 0h0m327 0h0m156 0h0m318 0h0m61 0h0m-2340 1h0m55 0h0m381 0h0m604 0h0m998 0h0m111 0h0m268 0h0m-2830 1h0m549 0h0m258 0h0m391 0h0m33 0h0m131 0h0m645 0h0m673 0h0m96 0h0m-2766 1h0m686 0h0m521 0h0m697 0h0m272 0h0m360 0h0m-2194 2h0m129 6h0m98 0h0m113 0h0m169 0h0m136 0h0m1023 0h0m204 0h0m215 0h0m-2456 1h0m419 0h0m153 0h0m97 0h0m326 0h0m71 0h0m152 0h0m116 0h0m435 0h0m44 0h0m34 0h0m585 0h0m-1594 1h0m56 0h0m643 0h0m159 0h0m94 0h0m92 0h0m27 0h0m51 0h0m43 0h0m113 0h0m163 0h0m370 0h0m30 0h0m-2198 1h0m52 0h0m188 0h0m103 0h0m87 0h0m116 0h0m100 0h0m13 0h0m309 0h0m13 0h0m64 0h0m192 0h0m1079 0h0m-2337 1h0m320 0h0m177 0h0m284 0h0m396 0h0m452 0h0m44 0h0m55 0h0m150 0h0m213 0h0m213 0h0m112 0h0m-2855 1h0m415 0h0m120 0h0m373 0h0m48 0h0m130 0h0m146 0h0m157 0h0m16 0h0m73 0h0m576 0h0m698 0h0m65 0h0m-2205 1h0m452 0h0m99 0h0m303 0h0m78 0h0m106 0h0m478 0h0m206 0h0m-1701 1h0m656 0h0m60 0h0m26 0h0m1174 0h0m172 0h0m-2134 1h0m136 0h0m17 0h0m444 0h0m68 0h0m27 0h0m754 0h0m605 0h0m198 0h0m39 0h0m-2100 1h0m61 0h0m193 0h0m108 0h0m501 0h0m68 0h0m28 0h0m108 0h0m549 0h0m404 0h0m99 0h0m-2870 1h0m471 0h0m839 0h0m566 0h0m305 0h0m303 0h0m167 0h0m228 0h0m117 0h0m-2355 1h0m1141 0h0m193 0h0m189 0h0m56 0h0m114 0h0m98 0h0m239 0h0m-2480 8h0m514 0h0m292 0h0m377 0h0m565 0h0m483 0h0m186 0h0m292 0h0m57 0h0m-2536 1h0m116 0h0m17 0h0m82 0h0m94 0h0m206 0h0m110 0h0m313 0h0m318 0h0m80 0h0m223 0h0m343 0h0m226 0h0m246 0h0m60 0h0m73 0h0m-2939 1h0m174 0h0m607 0h0m416 0h0m90 0h0m57 0h0m151 0h0m23 0h0m269 0h0m224 0h0m44 0h0m49 0h0m633 0h0m14 0h0m-2085 1h0m126 0h0m628 0h0m305 0h0m17 0h0m135 0h0m18 0h0m252 0h0m266 0h0m132 0h0m-2162 1h0m75 0h0m294 0h0m217 0h0m56 0h0m206 0h0m207 0h0m134 0h0m806 0h0m261 0h0m16 0h0m321 0h0m-2501 1h0m563 0h0m231 0h0m651 0h0m112 0h0m457 0h0m299 0h0m66 0h0m-2870 1h0m550 0h0m89 0h0m301 0h0m618 0h0m262 0h0m55 0h0m206 0h0m59 0h0m194 0h0m210 0h0m163 0h0m-2180 1h0m574 0h0m48 0h0m39 0h0m479 0h0m324 0h0m530 0h0m266 0h0m-2379 1h0m192 0h0m115 0h0m190 0h0m217 0h0m45 0h0m402 0h0m290 0h0m760 0h0m-1993 1h0m260 0h0m37 0h0m313 0h0m90 0h0m168 0h0m156 0h0m299 0h0m236 0h0m70 0h0m116 0h0m362 0h0m110 0h0m195 0h0m-3065 1h0m115 0h0m416 0h0m499 0h0m128 0h0m215 0h0m344 0h0m777 0h0m226 0h0m207 0h0m39 0h0m-2512 1h0m269 0h0m135 0h0m24 0h0m414 0h0m148 0h0m65 0h0m240 0h0m122 0h0m258 0h0m120 0h0m16 0h0m38 0h0m135 0h0m185 0h0m-2531 7h0m96 0h0m160 1h0m135 0h0m305 0h0m94 0h0m384 0h0m422 0h0m59 0h0m509 0h0m77 0h0m304 0h0m11 0h0m181 0h0m228 0h0m-2403 1h0m58 0h0m18 0h0m141 0h0m89 0h0m140 0h0m145 0h0m209 0h0m150 0h0m24 0h0m42 0h0m240 0h0m229 0h0m362 0h0m356 0h0m-2824 1h0m514 0h0m12 0h0m436 0h0m216 0h0m108 0h0m170 0h0m217 0h0m131 0h0m91 0h0m63 0h0m319 0h0m224 0h0m235 0h0m154 0h0m-2305 1h0m935 0h0m268 0h0m874 0h0m92 0h0m93 0h0m265 0h0m-1992 1h0m632 0h0m18 0h0m146 0h0m609 0h0m-2085 1h0m126 0h0m92 0h0m389 0h0m207 0h0m185 0h0m45 0h0m380 0h0m262 0h0m456 0h0m231 0h0m282 0h0m-3078 1h0m726 0h0m207 0h0m325 0h0m109 0h0m310 0h0m392 0h0m97 0h0m56 0h0m75 0h0m382 0h0m167 0h0m139 0h0m-2531 1h0m80 0h0m88 0h0m81 0h0m80 0h0m16 0h0m204 0h0m80 0h0m36 0h0m25 0h0m184 0h0m157 0h0m755 0h0m103 0h0m46 0h0m25 0h0m118 0h0m9 0h0m346 0h0m36 0h0m-2026 1h0m72 0h0m15 0h0m76 0h0m466 0h0m388 0h0m141 0h0m262 0h0m378 0h0m-2528 1h0m419 0h0m706 0h0m249 0h0m438 0h0m39 0h0m416 0h0m193 0h0m-2678 1h0m18 0h0m788 0h0m118 0h0m300 0h0m137 0h0m282 0h0m124 0h0m110 0h0m-1429 1h0m76 0h0m380 0h0m502 0h0m28 0h0m424 0h0m222 0h0m446 0h0m-2272 2h0m-236 6h0m1011 0h0m613 0h0m243 0h0m20 0h0m32 0h0m313 0h0m11 0h0m26 0h0m546 0h0m292 0h0m-2644 1h0m16 0h0m281 0h0m328 0h0m155 0h0m88 0h0m26 0h0m228 0h0m626 0h0m266 0h0m171 0h0m211 0h0m-2023 1h0m62 0h0m94 0h0m74 0h0m346 0h0m15 0h0m56 0h0m685 0h0m666 0h0m227 0h0m25 0h0m91 0h0m-2659 1h0m688 0h0m87 0h0m255 0h0m228 0h0m55 0h0m72 0h0m159 0h0m260 0h0m102 0h0m584 0h0m-2560 1h0m47 0h0m113 0h0m103 0h0m72 0h0m99 0h0m78 0h0m259 0h0m54 0h0m123 0h0m202 0h0m685 0h0m58 0h0m26 0h0m160 0h0m62 0h0m92 0h0m-2729 1h0m17 0h0m448 0h0m144 0h0m299 0h0m73 0h0m36 0h0m218 0h0m276 0h0m286 0h0m42 0h0m168 0h0m76 0h0m264 0h0m270 0h0m42 0h0m128 0h0m45 0h0m237 0h0m-2293 1h0m643 0h0m73 0h0m230 0h0m26 0h0m371 0h0m418 0h0m28 0h0m148 0h0m-2515 1h0m533 0h0m444 0h0m192 0h0m490 0h0m39 0h0m778 0h0m289 0h0m209 0h0m-2894 1h0m416 0h0m100 0h0m76 0h0m437 0h0m249 0h0m56 0h0m97 0h0m362 0h0m417 0h0m492 0h0m266 0h0m-2981 1h0m314 0h0m59 0h0m75 0h0m256 0h0m110 0h0m17 0h0m478 0h0m926 0h0m422 0h0m14 0h0m-2899 1h0m1116 0h0m1650 0h0m405 0h0m-2590 1h0m62 0h0m175 0h0m912 0h0m10 0h0m215 0h0m249 0h0m191 0h0m408 0h0m258 0h0m85 0h0m-3062 6h0m-135 2h0m216 0h0m244 0h0m127 0h0m897 0h0m265 0h0m60 0h0m110 0h0m33 0h0m176 0h0m15 0h0m534 0h0m-1949 1h0m131 0h0m474 0h0m79 0h0m148 0h0m230 0h0m794 0h0m21 0h0m185 0h0m83 0h0m357 0h0m-3210 1h0m1083 0h0m341 0h0m529 0h0m79 0h0m432 0h0m64 0h0m194 0h0m143 0h0m-2091 1h0m20 0h0m27 0h0m318 0h0m207 0h0m137 0h0m189 0h0m307 0h0m475 0h0m169 0h0m279 0h0m25 0h0m129 0h0m113 0h0m-2578 1h0m70 0h0m216 0h0m114 0h0m298 0h0m226 0h0m79 0h0m92 0h0m118 0h0m120 0h0m225 0h0m401 0h0m183 0h0m309 0h0m152 0h0m-2231 1h0m97 0h0m345 0h0m174 0h0m643 0h0m136 0h0m399 0h0m-2739 1h0m19 0h0m214 0h0m604 0h0m62 0h0m124 0h0m137 0h0m452 0h0m22 0h0m420 0h0m209 0h0m94 0h0m-1763 1h0m15 0h0m21 0h0m34 0h0m215 0h0m339 0h0m326 0h0m294 0h0m198 0h0m148 0h0m96 0h0m20 0h0m72 0h0m-1873 1h0m434 0h0m244 0h0m245 0h0m274 0h0m134 0h0m1097 0h0m21 0h0m117 0h0m204 0h0m-2810 1h0m69 0h0m177 0h0m36 0h0m250 0h0m12 0h0m80 0h0m119 0h0m50 0h0m64 0h0m30 0h0m135 0h0m323 0h0m267 0h0m246 0h0m97 0h0m62 0h0m8 0h0m608 0h0m-2807 1h0m228 0h0m210 0h0m185 0h0m195 0h0m33 0h0m465 0h0m266 0h0m529 0h0m225 0h0m148 0h0m30 0h0m67 0h0m-2707 1h0m1079 0h0m492 0h0m849 0h0m233 0h0m-2487 1h0m2751 0h0m-2195 7h0m100 0h0m224 0h0m247 0h0m158 0h0m397 0h0m212 0h0m433 0h0m98 0h0m127 0h0m103 0h0m89 0h0m175 0h0m30 0h0m-3305 1h0m571 0h0m292 0h0m89 0h0m269 0h0m37 0h0m147 0h0m312 0h0m129 0h0m252 0h0m35 0h0m75 0h0m358 0h0m97 0h0m134 0h0m-1958 1h0m341 0h0m264 0h0m101 0h0m131 0h0m250 0h0m263 0h0m175 0h0m160 0h0m708 0h0m-3193 1h0m319 0h0m121 0h0m115 0h0m52 0h0m63 0h0m50 0h0m135 0h0m266 0h0m116 0h0m669 0h0m9 0h0m98 0h0m24 0h0m472 0h0m530 0h0m-2575 1h0m57 0h0m225 0h0m151 0h0m88 0h0m289 0h0m55 0h0m418 0h0m100 0h0m415 0h0m211 0h0m536 0h0m89 0h0m-2416 1h0m330 0h0m30 0h0m385 0h0m119 0h0m243 0h0m344 0h0m60 0h0m170 0h0m14 0h0m404 0h0m38 0h0m-2224 1h0m29 0h0m162 0h0m564 0h0m375 0h0m575 0h0m133 0h0m252 0h0m18 0h0m124 0h0m25 0h0m43 0h0m-2947 1h0m68 0h0m478 0h0m213 0h0m451 0h0m405 0h0m11 0h0m199 0h0m56 0h0m279 0h0m231 0h0m110 0h0m264 0h0m306 0h0m55 0h0m67 0h0m116 0h0m34 0h0m-2902 1h0m259 0h0m190 0h0m266 0h0m358 0h0m928 0h0m192 0h0m-2653 1h0m551 0h0m456 0h0m94 0h0m51 0h0m312 0h0m542 0h0m478 0h0m191 0h0m345 0h0m221 0h0m-2406 1h0m192 0h0m301 0h0m33 0h0m26 0h0m166 0h0m46 0h0m187 0h0m148 0h0m204 0h0m859 0h0m-2353 1h0m496 0h0m553 0h0m32 0h0m43 0h0m551 0h0m36 0h0m263 0h0m243 0h0m401 7h0m-2672 1h0m296 0h0m237 0h0m292 0h0m108 0h0m369 0h0m14 0h0m327 0h0m30 0h0m557 0h0m170 0h0m132 0h0m100 0h0m-3155 1h0m566 0h0m75 0h0m289 0h0m264 0h0m301 0h0m235 0h0m34 0h0m263 0h0m339 0h0m29 0h0m107 0h0m99 0h0m245 0h0m416 0h0m-3241 1h0m30 0h0m58 0h0m363 0h0m185 0h0m195 0h0m38 0h0m252 0h0m15 0h0m164 0h0m57 0h0m403 0h0m101 0h0m9 0h0m121 0h0m287 0h0m20 0h0m313 0h0m142 0h0m48 0h0m309 0h0m171 0h0m-3338 1h0m624 0h0m31 0h0m219 0h0m701 0h0m638 0h0m808 0h0m54 0h0m74 0h0m-3176 1h0m518 0h0m323 0h0m339 0h0m289 0h0m69 0h0m207 0h0m439 0h0m293 0h0m47 0h0m21 0h0m427 0h0m46 0h0m141 0h0m-2587 1h0m98 0h0m74 0h0m281 0h0m403 0h0m149 0h0m122 0h0m30 0h0m188 0h0m140 0h0m148 0h0m213 0h0m229 0h0m419 0h0m-3025 1h0m52 0h0m668 0h0m300 0h0m287 0h0m361 0h0m462 0h0m227 0h0m376 0h0m302 0h0m-2218 1h0m116 0h0m76 0h0m456 0h0m491 0h0m139 0h0m351 0h0m364 0h0m280 0h0m-3142 1h0m810 0h0m361 0h0m139 0h0m39 0h0m321 0h0m10 0h0m310 0h0m132 0h0m402 0h0m278 0h0m-2538 1h0m359 0h0m472 0h0m154 0h0m375 0h0m25 0h0m170 0h0m54 0h0m174 0h0m119 0h0m1133 0h0m15 0h0m-3103 1h0m359 0h0m219 0h0m42 0h0m284 0h0m40 0h0m167 0h0m61 0h0m398 0h0m910 0h0m188 0h0m135 0h0m224 0h0m-3096 1h0m807 0h0m69 0h0m267 0h0m216 0h0m1139 0h0m91 0h0m19 0h0m193 0h0m448 7h0m-3288 1h0m562 0h0m442 0h0m75 0h0m232 0h0m71 0h0m99 0h0m514 0h0m686 0h0m53 0h0m229 0h0m78 0h0m188 0h0m-2743 1h0m652 0h0m136 0h0m181 0h0m153 0h0m132 0h0m135 0h0m692 0h0m-2614 1h0m60 0h0m511 0h0m1048 0h0m55 0h0m593 0h0m75 0h0m157 0h0m258 0h0m283 0h0m-3077 1h0m18 0h0m744 0h0m38 0h0m121 0h0m38 0h0m70 0h0m120 0h0m55 0h0m33 0h0m20 0h0m897 0h0m51 0h0m151 0h0m672 0h0m266 0h0m-2911 1h0m248 0h0m188 0h0m34 0h0m195 0h0m22 0h0m266 0h0m71 0h0m196 0h0m245 0h0m925 0h0m402 0h0m157 0h0m-3348 1h0m550 0h0m590 0h0m55 0h0m116 0h0m75 0h0m378 0h0m177 0h0m742 0h0m29 0h0m138 0h0m22 0h0m362 0h0m20 0h0m-3124 1h0m555 0h0m948 0h0m416 0h0m597 0h0m-2488 1h0m298 0h0m17 0h0m102 0h0m148 0h0m227 0h0m378 0h0m171 0h0m245 0h0m158 0h0m88 0h0m145 0h0m357 0h0m114 0h0m151 0h0m418 0h0m-2640 1h0m382 0h0m94 0h0m19 0h0m93 0h0m400 0h0m71 0h0m324 0h0m267 0h0m58 0h0m20 0h0m305 0h0m517 0h0m-2380 1h0m98 0h0m56 0h0m684 0h0m106 0h0m41 0h0m92 0h0m921 0h0m420 0h0m-3047 1h0m914 0h0m299 0h0m170 0h0m742 0h0m99 0h0m166 0h0m158 0h0m118 0h0m144 0h0m36 0h0m46 0h0m-2478 1h0m246 0h0m20 0h0m140 0h0m551 0h0m365 0h0m15 0h0m128 0h0m59 0h0m59 0h0m42 0h0m468 0h0m444 0h0m184 1h0m-3046 1h0m3015 5h0m-3131 1h0m229 0h0m242 0h0m64 0h0m56 0h0m172 0h0m508 0h0m152 0h0m176 0h0m318 0h0m286 0h0m110 0h0m136 0h0m206 0h0m-2521 1h0m214 0h0m144 0h0m23 0h0m490 0h0m435 0h0m178 0h0m53 0h0m22 0h0m31 0h0m45 0h0m929 0h0m58 0h0m38 0h0m117 0h0m162 0h0m-3003 1h0m669 0h0m134 0h0m191 0h0m117 0h0m186 0h0m822 0h0m335 0h0m320 0h0m23 0h0m283 0h0m81 0h0m-3210 1h0m547 0h0m45 0h0m52 0h0m18 0h0m95 0h0m58 0h0m61 0h0m323 0h0m114 0h0m77 0h0m546 0h0m512 0h0m72 0h0m62 0h0m108 0h0m274 0h0m-3048 1h0m505 0h0m189 0h0m317 0h0m83 0h0m468 0h0m37 0h0m364 0h0m379 0h0m233 0h0m373 0h0m38 0h0m269 0h0m135 0h0m-3272 1h0m1061 0h0m265 0h0m594 0h0m34 0h0m28 0h0m50 0h0m177 0h0m106 0h0m199 0h0m602 0h0m-3188 1h0m716 0h0m653 0h0m201 0h0m494 0h0m438 0h0m139 0h0m16 0h0m307 0h0m266 0h0m-2496 1h0m138 0h0m76 0h0m43 0h0m9 0h0m102 0h0m55 0h0m323 0h0m170 0h0m150 0h0m208 0h0m365 0h0m452 0h0m-2852 1h0m838 0h0m22 0h0m223 0h0m213 0h0m268 0h0m1307 0h0m445 0h0m14 0h0m58 0h0m-3252 1h0m364 0h0m453 0h0m249 0h0m71 0h0m248 0h0m103 0h0m355 0h0m135 0h0m58 0h0m18 0h0m953 0h0m11 0h0m191 0h0m-3261 1h0m209 0h0m304 0h0m548 0h0m556 0h0m512 0h0m135 0h0m435 0h0m257 0h0m30 0h0m-2378 1h0m553 0h0m92 0h0m22 0h0m398 0h0m37 0h0m488 0h0m93 0h0m437 0h0m194 0h0m90 0h0m-2468 8h0m9 0h0m670 0h0m41 0h0m107 0h0m255 0h0m622 0h0m362 0h0m214 0h0m-2926 1h0m17 0h0m702 0h0m316 0h0m24 0h0m53 0h0m152 0h0m24 0h0m15 0h0m230 0h0m700 0h0m58 0h0m99 0h0m190 0h0m816 0h0m-2570 1h0m60 0h0m43 0h0m239 0h0m459 0h0m16 0h0m28 0h0m76 0h0m467 0h0m322 0h0m76 0h0m39 0h0m79 0h0m420 0h0m40 0h0m135 0h0m-2725 1h0m79 0h0m480 0h0m51 0h0m21 0h0m156 0h0m12 0h0m455 0h0m246 0h0m770 0h0m369 0h0m58 0h0m-3170 1h0m421 0h0m228 0h0m128 0h0m291 0h0m150 0h0m227 0h0m24 0h0m90 0h0m451 0h0m38 0h0m503 0h0m427 0h0m-3036 1h0m1033 0h0m454 0h0m281 0h0m233 0h0m414 0h0m15 0h0m389 0h0m130 0h0m22 0h0m-2930 1h0m697 0h0m215 0h0m776 0h0m235 0h0m369 0h0m499 0h0m178 0h0m208 0h0m48 0h0m-3304 1h0m213 0h0m335 0h0m218 0h0m341 0h0m571 0h0m988 0h0m152 0h0m318 0h0m64 0h0m-2665 1h0m1049 0h0m153 0h0m46 0h0m308 0h0m186 0h0m117 0h0m130 0h0m42 0h0m204 0h0m143 0h0m430 0h0m-3280 1h0m73 0h0m22 0h0m680 0h0m97 0h0m109 0h0m179 0h0m199 0h0m322 0h0m220 0h0m18 0h0m182 0h0m67 0h0m73 0h0m457 0h0m30 0h0m-2771 1h0m101 0h0m369 0h0m217 0h0m20 0h0m230 0h0m15 0h0m421 0h0m10 0h0m67 0h0m15 0h0m857 0h0m155 0h0m673 0h0m162 0h0m-3089 1h0m345 0h0m80 0h0m155 0h0m90 0h0m1105 0h0m35 0h0m366 0h0m315 0h0m232 0h0m56 0h0m34 1h0m-2782 1h0m1450 6h0m410 0h0m48 0h0m451 0h0m378 0h0m63 0h0m128 0h0m110 0h0m-3242 1h0m14 0h0m746 0h0m75 0h0m285 0h0m839 0h0m230 0h0m67 0h0m119 0h0m22 0h0m245 0h0m-2225 1h0m224 0h0m21 0h0m245 0h0m59 0h0m517 0h0m983 0h0m135 0h0m-2637 1h0m546 0h0m171 0h0m576 0h0m447 0h0m59 0h0m358 0h0m-2194 1h0m13 0h0m1052 0h0m93 0h0m206 0h0m95 0h0m241 0h0m305 0h0m363 0h0m216 0h0m167 0h0m92 0h0m193 0h0m51 0h0m159 0h0m13 0h0m-3204 1h0m283 0h0m93 0h0m76 0h0m420 0h0m189 0h0m189 0h0m42 0h0m40 0h0m12 0h0m231 0h0m37 0h0m380 0h0m194 0h0m49 0h0m265 0h0m62 0h0m78 0h0m359 0h0m-2946 1h0m690 0h0m18 0h0m38 0h0m21 0h0m698 0h0m74 0h0m121 0h0m55 0h0m277 0h0m494 0h0m170 0h0m21 0h0m160 0h0m169 0h0m186 0h0m54 0h0m-2807 1h0m21 0h0m316 0h0m552 0h0m43 0h0m55 0h0m56 0h0m271 0h0m-1454 1h0m214 0h0m321 0h0m58 0h0m135 0h0m38 0h0m42 0h0m207 0h0m72 0h0m23 0h0m170 0h0m437 0h0m98 0h0m914 0h0m-2969 1h0m488 0h0m21 0h0m96 0h0m250 0h0m62 0h0m152 0h0m29 0h0m27 0h0m1193 0h0m13 0h0m840 0h0m43 0h0m-2859 1h0m116 0h0m460 0h0m512 0h0m196 0h0m182 0h0m403 0h0m479 0h0m55 0h0m68 0h0m-2866 1h0m15 0h0m101 0h0m18 0h0m338 0h0m103 0h0m267 0h0m285 0h0m484 0h0m572 0h0m348 0h0m169 0h0m360 1h0m39 0h0m-2766 6h0m-401 1h0m114 0h0m250 0h0m341 0h0m39 0h0m547 0h0m1108 0h0m202 0h0m177 0h0m152 0h0m73 0h0m63 0h0m-3139 1h0m718 0h0m26 0h0m56 0h0m210 0h0m152 0h0m12 0h0m388 0h0m645 0h0m38 0h0m173 0h0m751 0h0m-3070 1h0m419 0h0m94 0h0m716 0h0m216 0h0m319 0h0m17 0h0m234 0h0m75 0h0m529 0h0m185 0h0m159 0h0m285 0h0m-3333 1h0m26 0h0m229 0h0m50 0h0m217 0h0m11 0h0m365 0h0m74 0h0m612 0h0m548 0h0m660 0h0m381 0h0m-2696 1h0m172 0h0m102 0h0m355 0h0m309 0h0m153 0h0m92 0h0m1190 0h0m408 0h0m54 0h0m-3274 1h0m105 0h0m431 0h0m44 0h0m339 0h0m112 0h0m23 0h0m113 0h0m230 0h0m35 0h0m152 0h0m113 0h0m89 0h0m193 0h0m360 0h0m134 0h0m95 0h0m-2509 1h0m541 0h0m222 0h0m416 0h0m120 0h0m363 0h0m659 0h0m590 0h0m-2314 1h0m494 0h0m143 0h0m178 0h0m191 0h0m604 0h0m173 0h0m115 0h0m48 0h0m240 0h0m-2762 1h0m548 0h0m160 0h0m17 0h0m372 0h0m47 0h0m34 0h0m917 0h0m35 0h0m116 0h0m570 0h0m304 0h0m-3081 1h0m755 0h0m209 0h0m116 0h0m212 0h0m262 0h0m194 0h0m532 0h0m516 0h0m15 0h0m-2417 1h0m333 0h0m133 0h0m15 0h0m14 0h0m442 0h0m154 0h0m34 0h0m96 0h0m18 0h0m25 0h0m74 0h0m226 0h0m508 0h0m140 0h0m12 0h0m597 0h0m-2438 1h0m440 0h0m224 0h0m440 0h0m516 0h0m128 0h0m36 0h0m17 0h0m482 0h0m127 0h0m-209 1h0m-115 6h0m105 0h0m-3055 1h0m98 0h0m356 0h0m268 0h0m208 0h0m141 0h0m236 0h0m119 0h0m136 0h0m95 0h0m202 0h0m485 0h0m393 0h0m71 0h0m49 0h0m293 0h0m-3092 1h0m22 0h0m906 0h0m153 0h0m343 0h0m205 0h0m800 0h0m100 0h0m97 0h0m32 0h0m532 0h0m-2845 1h0m19 0h0m209 0h0m568 0h0m345 0h0m283 0h0m169 0h0m131 0h0m37 0h0m497 0h0m475 0h0m130 0h0m-2885 1h0m171 0h0m25 0h0m9 0h0m180 0h0m510 0h0m166 0h0m61 0h0m684 0h0m110 0h0m573 0h0m-2889 1h0m168 0h0m513 0h0m118 0h0m60 0h0m73 0h0m438 0h0m176 0h0m72 0h0m116 0h0m319 0h0m187 0h0m250 0h0m527 0h0m-3052 1h0m375 0h0m174 0h0m209 0h0m157 0h0m35 0h0m69 0h0m84 0h0m58 0h0m20 0h0m258 0h0m1661 0h0m55 0h0m92 0h0m-3081 1h0m497 0h0m189 0h0m151 0h0m58 0h0m178 0h0m69 0h0m322 0h0m156 0h0m36 0h0m595 0h0m50 0h0m154 0h0m605 0h0m-3213 1h0m512 0h0m610 0h0m537 0h0m363 0h0m284 0h0m109 0h0m461 0h0m377 0h0m-2188 1h0m194 0h0m16 0h0m54 0h0m1029 0h0m84 0h0m242 0h0m431 0h0m214 0h0m-3363 1h0m115 0h0m194 0h0m277 0h0m134 0h0m102 0h0m586 0h0m468 0h0m214 0h0m500 0h0m186 0h0m208 0h0m205 0h0m-3096 1h0m116 0h0m746 0h0m286 0h0m239 0h0m342 0h0m43 0h0m53 0h0m252 0h0m190 0h0m150 0h0m95 0h0m78 0h0m321 0h0m-2487 1h0m89 0h0m155 0h0m137 0h0m550 0h0m92 0h0m174 0h0m33 0h0m439 0h0m35 0h0m407 0h0m72 0h0m-2363 1h0m831 7h0m1318 0h0m125 0h0m81 0h0m335 0h0m-2918 1h0m36 0h0m630 0h0m226 0h0m381 0h0m408 0h0m27 0h0m421 0h0m429 0h0m408 0h0m-2914 1h0m203 0h0m496 0h0m63 0h0m553 0h0m358 0h0m474 0h0m436 0h0m61 0h0m346 0h0m-3139 1h0m666 0h0m18 0h0m59 0h0m428 0h0m1450 0h0m153 0h0m377 0h0m20 0h0m130 0h0m44 0h0m-3272 1h0m436 0h0m80 0h0m724 0h0m115 0h0m16 0h0m206 0h0m113 0h0m477 0h0m630 0h0m-2838 1h0m839 0h0m225 0h0m95 0h0m97 0h0m96 0h0m96 0h0m188 0h0m482 0h0m28 0h0m105 0h0m71 0h0m400 0h0m249 0h0m245 0h0m-2549 1h0m73 0h0m178 0h0m69 0h0m194 0h0m386 0h0m34 0h0m476 0h0m278 0h0m253 0h0m53 0h0m289 0h0m209 0h0m126 0h0m-3299 1h0m38 0h0m395 0h0m40 0h0m82 0h0m34 0h0m38 0h0m413 0h0m61 0h0m376 0h0m381 0h0m64 0h0m225 0h0m207 0h0m-1840 1h0m18 0h0m72 0h0m102 0h0m74 0h0m36 0h0m168 0h0m236 0h0m35 0h0m57 0h0m17 0h0m57 0h0m152 0h0m58 0h0m95 0h0m137 0h0m11 0h0m593 0h0m76 0h0m-2152 1h0m95 0h0m423 0h0m249 0h0m115 0h0m258 0h0m18 0h0m191 0h0m25 0h0m681 0h0m72 0h0m217 0h0m111 0h0m98 0h0m-2812 1h0m809 0h0m46 0h0m110 0h0m608 0h0m205 0h0m62 0h0m19 0h0m109 0h0m332 0h0m152 0h0m-1522 1h0m532 0h0m458 0h0m18 0h0m22 0h0m128 0h0m56 0h0m317 0h0m544 0h0m103 0h0m-2809 1h0m2797 0h0m58 0h0m-2926 1h0m-51 5h0m46 0h0m-62 1h0m78 0h0m413 0h0m234 0h0m244 0h0m185 0h0m133 0h0m253 0h0m91 0h0m474 0h0m17 0h0m140 0h0m125 0h0m254 0h0m131 0h0m202 0h0m-3094 1h0m1333 0h0m496 0h0m126 0h0m83 0h0m231 0h0m30 0h0m231 0h0m-2697 1h0m491 0h0m271 0h0m173 0h0m52 0h0m138 0h0m52 0h0m310 0h0m67 0h0m151 0h0m557 0h0m269 0h0m34 0h0m189 0h0m-2683 1h0m381 0h0m134 0h0m286 0h0m83 0h0m884 0h0m607 0h0m295 0h0m491 0h0m-3247 1h0m810 0h0m22 0h0m72 0h0m442 0h0m265 0h0m451 0h0m292 0h0m278 0h0m329 0h0m31 0h0m175 0h0m38 0h0m-3158 1h0m574 0h0m555 0h0m203 0h0m45 0h0m282 0h0m43 0h0m1175 0h0m133 0h0m89 0h0m198 0h0m-3267 1h0m583 0h0m23 0h0m166 0h0m19 0h0m454 0h0m123 0h0m186 0h0m287 0h0m71 0h0m300 0h0m327 0h0m60 0h0m-2700 1h0m131 0h0m39 0h0m271 0h0m173 0h0m105 0h0m63 0h0m316 0h0m174 0h0m779 0h0m17 0h0m123 0h0m76 0h0m70 0h0m77 0h0m133 0h0m76 0h0m265 0h0m399 0h0m-2623 1h0m94 0h0m416 0h0m156 0h0m171 0h0m341 0h0m441 0h0m75 0h0m517 0h0m277 0h0m-3094 1h0m512 0h0m381 0h0m58 0h0m552 0h0m110 0h0m18 0h0m25 0h0m109 0h0m-1627 1h0m319 0h0m38 0h0m570 0h0m132 0h0m61 0h0m263 0h0m225 0h0m94 0h0m82 0h0m13 0h0m214 0h0m18 0h0m985 0h0m-3059 1h0m274 0h0m644 0h0m16 0h0m57 0h0m94 0h0m157 0h0m35 0h0m355 0h0m141 0h0m474 0h0m135 0h0m226 0h0m55 0h0m14 0h0m78 0h0m92 0h0m55 0h0m65 0h0m-2835 2h0m204 6h0m190 0h0m430 0h0m21 0h0m21 0h0m573 0h0m114 0h0m476 0h0m831 0h0m224 0h0m-3190 1h0m170 0h0m81 0h0m490 0h0m37 0h0m122 0h0m153 0h0m16 0h0m22 0h0m69 0h0m458 0h0m379 0h0m81 0h0m98 0h0m9 0h0m123 0h0m31 0h0m-1938 1h0m208 0h0m161 0h0m224 0h0m288 0h0m52 0h0m186 0h0m532 0h0m196 0h0m307 0h0m260 0h0m301 0h0m59 0h0m-3243 1h0m200 0h0m30 0h0m105 0h0m76 0h0m84 0h0m28 0h0m24 0h0m193 0h0m21 0h0m161 0h0m62 0h0m283 0h0m265 0h0m20 0h0m113 0h0m155 0h0m396 0h0m207 0h0m119 0h0m18 0h0m-2470 1h0m783 0h0m509 0h0m500 0h0m145 0h0m22 0h0m720 0h0m-2848 1h0m792 0h0m64 0h0m108 0h0m483 0h0m89 0h0m493 0h0m397 0h0m404 0h0m327 0h0m-3195 1h0m55 0h0m38 0h0m35 0h0m630 0h0m609 0h0m56 0h0m22 0h0m535 0h0m68 0h0m744 0h0m116 0h0m33 0h0m-2221 1h0m309 0h0m29 0h0m134 0h0m96 0h0m23 0h0m639 0h0m253 0h0m21 0h0m232 0h0m354 0h0m42 0h0m-2073 1h0m35 0h0m98 0h0m417 0h0m234 0h0m75 0h0m127 0h0m62 0h0m205 0h0m54 0h0m42 0h0m441 0h0m147 0h0m515 0h0m111 0h0m-3319 1h0m528 0h0m20 0h0m56 0h0m77 0h0m896 0h0m143 0h0m140 0h0m125 0h0m609 0h0m309 0h0m32 0h0m122 0h0m201 0h0m-3204 1h0m94 0h0m52 0h0m294 0h0m221 0h0m801 0h0m72 0h0m74 0h0m170 0h0m420 0h0m132 0h0m418 0h0m381 0h0m113 0h0m-3165 1h0m1056 0h0m197 0h0m487 0h0m20 0h0m474 0h0m114 0h0m79 0h0m24 0h0m410 0h0m-2834 8h0m13 0h0m246 0h0m989 0h0m253 0h0m324 0h0m209 0h0m41 0h0m14 0h0m440 0h0m-2629 1h0m19 0h0m407 0h0m339 0h0m74 0h0m120 0h0m104 0h0m66 0h0m92 0h0m56 0h0m247 0h0m476 0h0m98 0h0m55 0h0m116 0h0m68 0h0m136 0h0m776 0h0m-3112 1h0m404 0h0m92 0h0m53 0h0m138 0h0m75 0h0m87 0h0m58 0h0m420 0h0m102 0h0m485 0h0m28 0h0m242 0h0m869 0h0m-3283 1h0m366 0h0m16 0h0m117 0h0m116 0h0m492 0h0m184 0h0m98 0h0m282 0h0m102 0h0m170 0h0m355 0h0m512 0h0m40 0h0m18 0h0m78 0h0m205 0h0m-3002 1h0m103 0h0m10 0h0m277 0h0m33 0h0m134 0h0m357 0h0m362 0h0m118 0h0m281 0h0m136 0h0m419 0h0m148 0h0m79 0h0m14 0h0m63 0h0m89 0h0m249 0h0m176 0h0m-3181 1h0m47 0h0m105 0h0m500 0h0m341 0h0m23 0h0m469 0h0m16 0h0m690 0h0m489 0h0m58 0h0m177 0h0m116 0h0m185 0h0m32 0h0m-1937 1h0m272 0h0m126 0h0m28 0h0m36 0h0m15 0h0m61 0h0m535 0h0m818 0h0m-3142 1h0m272 0h0m468 0h0m60 0h0m81 0h0m160 0h0m234 0h0m59 0h0m489 0h0m443 0h0m321 0h0m77 0h0m587 0h0m-3287 1h0m701 0h0m59 0h0m90 0h0m307 0h0m43 0h0m238 0h0m158 0h0m288 0h0m128 0h0m421 0h0m508 0h0m94 0h0m178 0h0m-2703 1h0m283 0h0m135 0h0m290 0h0m315 0h0m137 0h0m604 0h0m144 0h0m340 0h0m40 0h0m133 0h0m-2532 1h0m152 0h0m60 0h0m629 0h0m567 0h0m33 0h0m92 0h0m60 0h0m616 0h0m717 0h0m-2884 1h0m205 0h0m75 0h0m413 0h0m294 0h0m534 0h0m581 0h0m311 0h0m162 0h0m246 0h0m-3117 8h0m188 0h0m77 0h0m323 0h0m226 0h0m841 0h0m51 0h0m709 0h0m19 0h0m620 0h0m-3132 1h0m13 0h0m81 0h0m205 0h0m312 0h0m20 0h0m143 0h0m893 0h0m194 0h0m324 0h0m97 0h0m247 0h0m108 0h0m305 0h0m250 0h0m-3023 1h0m225 0h0m364 0h0m338 0h0m181 0h0m298 0h0m250 0h0m248 0h0m51 0h0m496 0h0m59 0h0m527 0h0m-2617 1h0m135 0h0m107 0h0m38 0h0m190 0h0m173 0h0m53 0h0m102 0h0m38 0h0m80 0h0m266 0h0m209 0h0m75 0h0m604 0h0m90 0h0m210 0h0m-2671 1h0m1046 0h0m33 0h0m668 0h0m76 0h0m223 0h0m891 0h0m-3279 1h0m20 0h0m161 0h0m236 0h0m325 0h0m244 0h0m36 0h0m19 0h0m32 0h0m58 0h0m270 0h0m60 0h0m112 0h0m96 0h0m95 0h0m376 0h0m119 0h0m18 0h0m153 0h0m-2455 1h0m458 0h0m623 0h0m178 0h0m286 0h0m20 0h0m113 0h0m93 0h0m56 0h0m148 0h0m64 0h0m32 0h0m301 0h0m573 0h0m-2370 1h0m147 0h0m101 0h0m53 0h0m118 0h0m33 0h0m98 0h0m109 0h0m159 0h0m321 0h0m1444 0h0m188 0h0m-3207 1h0m49 0h0m330 0h0m92 0h0m19 0h0m263 0h0m435 0h0m286 0h0m25 0h0m241 0h0m465 0h0m431 0h0m97 0h0m184 0h0m192 0h0m-3265 1h0m73 0h0m65 0h0m115 0h0m169 0h0m130 0h0m13 0h0m47 0h0m928 0h0m434 0h0m272 0h0m203 0h0m102 0h0m130 0h0m471 0h0m-2637 1h0m707 0h0m11 0h0m58 0h0m19 0h0m630 0h0m399 0h0m188 0h0m169 0h0m225 0h0m26 0h0m193 0h0m54 0h0m-3208 1h0m681 0h0m129 0h0m160 0h0m793 0h0m283 0h0m529 0h0m347 0h0m435 0h0m-96 1h0m-2445 7h0m163 0h0m715 0h0m134 0h0m74 0h0m80 0h0m300 0h0m569 0h0m249 0h0m75 0h0m-3191 1h0m532 0h0m402 0h0m679 0h0m1180 0h0m482 0h0m-3235 1h0m366 0h0m103 0h0m134 0h0m460 0h0m365 0h0m53 0h0m109 0h0m476 0h0m99 0h0m190 0h0m56 0h0m121 0h0m36 0h0m563 0h0m-2449 1h0m37 0h0m329 0h0m37 0h0m58 0h0m420 0h0m88 0h0m73 0h0m787 0h0m87 0h0m138 0h0m245 0h0m193 0h0m36 0h0m-3041 1h0m60 0h0m21 0h0m302 0h0m300 0h0m554 0h0m228 0h0m76 0h0m129 0h0m21 0h0m189 0h0m97 0h0m73 0h0m328 0h0m149 0h0m-2298 1h0m358 0h0m24 0h0m190 0h0m53 0h0m274 0h0m491 0h0m300 0h0m158 0h0m54 0h0m22 0h0m9 0h0m384 0h0m-2645 1h0m117 0h0m187 0h0m144 0h0m47 0h0m85 0h0m848 0h0m253 0h0m19 0h0m126 0h0m21 0h0m189 0h0m94 0h0m839 0h0m282 0h0m-3288 1h0m102 0h0m201 0h0m116 0h0m455 0h0m191 0h0m103 0h0m982 0h0m188 0h0m84 0h0m171 0h0m15 0h0m204 0h0m-2823 1h0m135 0h0m472 0h0m30 0h0m81 0h0m496 0h0m16 0h0m63 0h0m32 0h0m43 0h0m154 0h0m285 0h0m645 0h0m113 0h0m183 0h0m17 0h0m122 0h0m50 0h0m59 0h0m47 0h0m50 0h0m-3053 1h0m57 0h0m301 0h0m114 0h0m169 0h0m116 0h0m51 0h0m61 0h0m222 0h0m61 0h0m155 0h0m73 0h0m78 0h0m176 0h0m303 0h0m129 0h0m556 0h0m130 0h0m182 0h0m315 0h0m-3335 1h0m465 0h0m142 0h0m249 0h0m159 0h0m17 0h0m118 0h0m55 0h0m93 0h0m191 0h0m514 0h0m885 0h0m19 0h0m-2794 1h0m121 0h0m1125 0h0m281 0h0m325 0h0m77 0h0m267 0h0m109 0h0m551 0h0m300 0h0m97 0h0m-155 1h0m-189 6h0m-2951 1h0m135 0h0m1191 0h0m1006 0h0m137 0h0m171 0h0m23 0h0m18 0h0m318 0h0m40 0h0m231 0h0m-3322 1h0m15 0h0m244 0h0m1081 0h0m155 0h0m245 0h0m26 0h0m143 0h0m20 0h0m477 0h0m210 0h0m166 0h0m116 0h0m77 0h0m-2585 1h0m40 0h0m117 0h0m37 0h0m119 0h0m20 0h0m357 0h0m21 0h0m108 0h0m272 0h0m469 0h0m44 0h0m12 0h0m151 0h0m341 0h0m366 0h0m265 0h0m-3091 1h0m586 0h0m21 0h0m205 0h0m166 0h0m103 0h0m18 0h0m155 0h0m218 0h0m216 0h0m343 0h0m203 0h0m328 0h0m166 0h0m78 0h0m228 0h0m42 0h0m-2949 1h0m362 0h0m127 0h0m83 0h0m166 0h0m103 0h0m395 0h0m40 0h0m149 0h0m189 0h0m111 0h0m79 0h0m60 0h0m449 0h0m196 0h0m283 0h0m-2882 1h0m147 0h0m137 0h0m324 0h0m145 0h0m100 0h0m32 0h0m19 0h0m255 0h0m323 0h0m95 0h0m19 0h0m874 0h0m16 0h0m642 0h0m-3116 1h0m25 0h0m304 0h0m68 0h0m83 0h0m34 0h0m454 0h0m101 0h0m421 0h0m267 0h0m204 0h0m131 0h0m133 0h0m489 0h0m-2827 1h0m168 0h0m228 0h0m87 0h0m17 0h0m303 0h0m34 0h0m231 0h0m133 0h0m149 0h0m287 0h0m98 0h0m93 0h0m298 0h0m550 0h0m232 0h0m135 0h0m22 0h0m192 0h0m-2987 1h0m552 0h0m663 0h0m421 0h0m242 0h0m93 0h0m43 0h0m113 0h0m459 0h0m472 0h0m-3176 1h0m384 0h0m438 0h0m1352 0h0m161 0h0m121 0h0m-2375 1h0m548 0h0m118 0h0m324 0h0m67 0h0m36 0h0m68 0h0m266 0h0m187 0h0m269 0h0m551 0h0m296 0h0m236 0h0m8 0h0m-2298 1h0m371 0h0m277 0h0m154 0h0m510 0h0m45 0h0m97 0h0m411 0h0m538 0h0m52 1h0m-335 6h0m-3041 1h0m41 0h0m442 0h0m419 0h0m129 0h0m53 0h0m60 0h0m97 0h0m286 0h0m359 0h0m71 0h0m732 0h0m51 0h0m432 0h0m28 0h0m148 0h0m-3326 1h0m116 0h0m439 0h0m50 0h0m171 0h0m252 0h0m266 0h0m75 0h0m223 0h0m59 0h0m160 0h0m90 0h0m93 0h0m58 0h0m98 0h0m133 0h0m129 0h0m132 0h0m255 0h0m257 0h0m60 0h0m-2957 1h0m755 0h0m289 0h0m206 0h0m226 0h0m118 0h0m11 0h0m304 0h0m194 0h0m816 0h0m207 0h0m-3183 1h0m146 0h0m171 0h0m567 0h0m362 0h0m178 0h0m319 0h0m172 0h0m213 0h0m198 0h0m-2354 1h0m321 0h0m255 0h0m677 0h0m60 0h0m292 0h0m10 0h0m27 0h0m172 0h0m351 0h0m101 0h0m129 0h0m574 0h0m-2855 1h0m83 0h0m76 0h0m145 0h0m19 0h0m55 0h0m30 0h0m37 0h0m50 0h0m253 0h0m319 0h0m59 0h0m229 0h0m582 0h0m171 0h0m63 0h0m374 0h0m82 0h0m373 0h0m164 0h0m-3141 1h0m271 0h0m219 0h0m41 0h0m157 0h0m150 0h0m91 0h0m100 0h0m223 0h0m97 0h0m174 0h0m300 0h0m171 0h0m194 0h0m87 0h0m86 0h0m203 0h0m129 0h0m-2736 1h0m217 0h0m420 0h0m47 0h0m97 0h0m138 0h0m363 0h0m1437 0h0m-2828 1h0m73 0h0m303 0h0m405 0h0m335 0h0m98 0h0m150 0h0m190 0h0m483 0h0m74 0h0m345 0h0m852 0h0m-3331 1h0m634 0h0m438 0h0m475 0h0m532 0h0m263 0h0m495 0h0m231 0h0m-2133 1h0m857 0h0m91 0h0m41 0h0m566 0h0m56 0h0m114 0h0m268 0h0m-2740 1h0m312 0h0m182 0h0m48 0h0m51 0h0m663 0h0m309 0h0m669 0h0m494 0h0m53 0h0m-2998 8h0m1564 0h0m403 0h0m337 0h0m343 0h0m-2661 1h0m508 0h0m171 0h0m342 0h0m141 0h0m72 0h0m61 0h0m35 0h0m170 0h0m15 0h0m673 0h0m199 0h0m48 0h0m438 0h0m66 0h0m-2127 1h0m408 0h0m451 0h0m831 0h0m540 0h0m107 0h0m-3112 1h0m451 0h0m349 0h0m23 0h0m31 0h0m42 0h0m341 0h0m150 0h0m172 0h0m20 0h0m130 0h0m112 0h0m597 0h0m437 0h0m-2688 1h0m348 0h0m246 0h0m396 0h0m170 0h0m170 0h0m402 0h0m223 0h0m126 0h0m14 0h0m173 0h0m59 0h0m188 0h0m306 0h0m96 0h0m50 0h0m-3117 1h0m26 0h0m32 0h0m16 0h0m26 0h0m108 0h0m131 0h0m997 0h0m321 0h0m168 0h0m205 0h0m28 0h0m237 0h0m196 0h0m242 0h0m121 0h0m-2621 1h0m816 0h0m206 0h0m607 0h0m148 0h0m140 0h0m15 0h0m188 0h0m159 0h0m36 0h0m93 0h0m41 0h0m21 0h0m229 0h0m398 0h0m-3405 1h0m116 0h0m97 0h0m474 0h0m202 0h0m141 0h0m172 0h0m282 0h0m22 0h0m210 0h0m144 0h0m-1613 1h0m22 0h0m281 0h0m119 0h0m324 0h0m69 0h0m402 0h0m108 0h0m79 0h0m264 0h0m350 0h0m238 0h0m97 0h0m195 0h0m-2362 1h0m23 0h0m34 0h0m138 0h0m137 0h0m35 0h0m129 0h0m40 0h0m44 0h0m355 0h0m416 0h0m245 0h0m30 0h0m13 0h0m322 0h0m550 0h0m-2350 1h0m10 0h0m43 0h0m130 0h0m329 0h0m37 0h0m16 0h0m269 0h0m373 0h0m218 0h0m336 0h0m480 0h0m263 0h0m58 0h0m-2962 1h0m277 0h0m610 0h0m188 0h0m407 0h0m76 0h0m226 0h0m724 0h0m167 0h0m116 0h0m128 0h0m-3082 8h0m21 0h0m208 0h0m818 0h0m17 0h0m19 0h0m516 0h0m359 0h0m359 0h0m167 0h0m633 0h0m-2870 1h0m457 0h0m262 0h0m345 0h0m149 0h0m320 0h0m341 0h0m84 0h0m376 0h0m400 0h0m35 0h0m-2900 1h0m299 0h0m64 0h0m416 0h0m55 0h0m184 0h0m160 0h0m226 0h0m53 0h0m61 0h0m21 0h0m409 0h0m288 0h0m78 0h0m71 0h0m330 0h0m-2265 1h0m212 0h0m56 0h0m517 0h0m320 0h0m608 0h0m360 0h0m248 0h0m-2752 1h0m129 0h0m121 0h0m521 0h0m254 0h0m39 0h0m14 0h0m21 0h0m170 0h0m44 0h0m1591 0h0m-3082 1h0m441 0h0m32 0h0m61 0h0m224 0h0m218 0h0m563 0h0m114 0h0m271 0h0m205 0h0m23 0h0m52 0h0m613 0h0m17 0h0m81 0h0m198 0h0m-3094 1h0m172 0h0m361 0h0m18 0h0m26 0h0m107 0h0m137 0h0m81 0h0m104 0h0m502 0h0m56 0h0m284 0h0m229 0h0m418 0h0m72 0h0m60 0h0m251 0h0m204 0h0m-3003 1h0m556 0h0m28 0h0m177 0h0m361 0h0m625 0h0m58 0h0m118 0h0m320 0h0m32 0h0m324 0h0m253 0h0m91 0h0m130 0h0m-3094 1h0m54 0h0m104 0h0m15 0h0m890 0h0m230 0h0m36 0h0m331 0h0m227 0h0m105 0h0m539 0h0m240 0h0m-2120 1h0m79 0h0m508 0h0m109 0h0m43 0h0m135 0h0m182 0h0m23 0h0m173 0h0m210 0h0m243 0h0m20 0h0m264 0h0m252 0h0m-2846 1h0m369 0h0m176 0h0m397 0h0m233 0h0m582 0h0m61 0h0m101 0h0m8 0h0m182 0h0m190 0h0m149 0h0m91 0h0m137 0h0m-2582 1h0m111 0h0m305 0h0m153 0h0m107 0h0m150 0h0m707 0h0m18 0h0m493 0h0m722 0h0m27 0h0m-2690 8h0m202 0h0m190 0h0m156 0h0m39 0h0m146 0h0m481 0h0m432 0h0m120 0h0m115 0h0m30 0h0m766 0h0m61 0h0m-3067 1h0m37 0h0m173 0h0m61 0h0m223 0h0m1028 0h0m628 0h0m272 0h0m29 0h0m531 0h0m179 0h0m-3023 1h0m91 0h0m18 0h0m99 0h0m259 0h0m99 0h0m112 0h0m331 0h0m181 0h0m743 0h0m121 0h0m115 0h0m317 0h0m99 0h0m21 0h0m95 0h0m279 0h0m-3054 1h0m30 0h0m198 0h0m377 0h0m228 0h0m269 0h0m125 0h0m1197 0h0m190 0h0m27 0h0m263 0h0m79 0h0m-2869 1h0m511 0h0m112 0h0m377 0h0m190 0h0m75 0h0m22 0h0m244 0h0m63 0h0m78 0h0m85 0h0m444 0h0m564 0h0m-2509 1h0m217 0h0m190 0h0m381 0h0m357 0h0m36 0h0m198 0h0m227 0h0m127 0h0m271 0h0m152 0h0m341 0h0m-2908 1h0m57 0h0m223 0h0m322 0h0m389 0h0m110 0h0m77 0h0m70 0h0m139 0h0m78 0h0m623 0h0m120 0h0m53 0h0m492 0h0m320 0h0m38 0h0m-3019 1h0m247 0h0m157 0h0m77 0h0m337 0h0m40 0h0m13 0h0m61 0h0m61 0h0m201 0h0m288 0h0m133 0h0m21 0h0m74 0h0m173 0h0m51 0h0m520 0h0m-1805 1h0m99 0h0m167 0h0m51 0h0m311 0h0m38 0h0m229 0h0m131 0h0m137 0h0m30 0h0m519 0h0m56 0h0m19 0h0m113 0h0m-2209 1h0m322 0h0m463 0h0m16 0h0m92 0h0m553 0h0m115 0h0m254 0h0m235 0h0m105 0h0m296 0h0m172 0h0m-2885 1h0m546 0h0m897 0h0m717 0h0m497 0h0m-2693 1h0m319 0h0m74 0h0m404 0h0m553 0h0m49 0h0m114 0h0m27 0h0m432 0h0m215 0h0m526 0h0m20 0h0m-2724 8h0m77 0h0m112 0h0m400 0h0m648 0h0m352 0h0m209 0h0m19 0h0m724 0h0m217 0h0m-2456 1h0m208 0h0m155 0h0m113 0h0m361 0h0m129 0h0m132 0h0m493 0h0m26 0h0m14 0h0m249 0h0m310 0h0m20 0h0m220 0h0m225 0h0m-3092 1h0m172 0h0m59 0h0m186 0h0m79 0h0m39 0h0m128 0h0m209 0h0m587 0h0m22 0h0m43 0h0m54 0h0m62 0h0m27 0h0m143 0h0m456 0h0m167 0h0m169 0h0m381 0h0m-2679 1h0m930 0h0m263 0h0m212 0h0m193 0h0m431 0h0m155 0h0m550 0h0m25 0h0m-2905 1h0m33 0h0m80 0h0m209 0h0m412 0h0m170 0h0m197 0h0m627 0h0m323 0h0m34 0h0m135 0h0m129 0h0m58 0h0m359 0h0m-2642 1h0m484 0h0m56 0h0m261 0h0m36 0h0m212 0h0m56 0h0m62 0h0m240 0h0m139 0h0m10 0h0m155 0h0m421 0h0m384 0h0m-2702 1h0m16 0h0m132 0h0m342 0h0m189 0h0m409 0h0m469 0h0m443 0h0m14 0h0m60 0h0m227 0h0m190 0h0m165 0h0m-2727 1h0m56 0h0m475 0h0m76 0h0m418 0h0m296 0h0m442 0h0m403 0h0m88 0h0m414 0h0m119 0h0m97 0h0m-2560 1h0m162 0h0m169 0h0m62 0h0m97 0h0m11 0h0m252 0h0m57 0h0m403 0h0m418 0h0m40 0h0m711 0h0m-2026 1h0m430 0h0m467 0h0m264 0h0m59 0h0m220 0h0m312 0h0m389 0h0m101 0h0m-2375 1h0m35 0h0m607 0h0m93 0h0m117 0h0m707 0h0m170 0h0m414 0h0m255 0h0m53 0h0m-3046 1h0m483 0h0m737 0h0m98 0h0m315 0h0m858 0h0m64 0h0m131 0h0m174 0h0m277 0h0m-2760 7h0m-58 1h0m149 0h0m366 0h0m396 0h0m153 0h0m22 0h0m71 0h0m188 0h0m17 0h0m330 0h0m53 0h0m140 0h0m29 0h0m140 0h0m373 0h0m38 0h0m57 0h0m42 0h0m101 0h0m-2841 1h0m65 0h0m323 0h0m73 0h0m307 0h0m205 0h0m167 0h0m572 0h0m77 0h0m15 0h0m949 0h0m176 0h0m-2773 1h0m327 0h0m172 0h0m618 0h0m37 0h0m116 0h0m513 0h0m44 0h0m39 0h0m144 0h0m459 0h0m-2660 1h0m233 0h0m322 0h0m40 0h0m108 0h0m531 0h0m459 0h0m337 0h0m132 0h0m652 0h0m-2377 1h0m91 0h0m77 0h0m172 0h0m768 0h0m982 0h0m98 0h0m88 0h0m-2763 1h0m208 0h0m14 0h0m576 0h0m466 0h0m169 0h0m277 0h0m141 0h0m83 0h0m111 0h0m81 0h0m286 0h0m148 0h0m60 0h0m183 0h0m-2827 1h0m148 0h0m381 0h0m112 0h0m573 0h0m113 0h0m74 0h0m351 0h0m1023 0h0m184 0h0m-2898 1h0m68 0h0m590 0h0m17 0h0m858 0h0m113 0h0m672 0h0m190 0h0m-2537 1h0m67 0h0m220 0h0m229 0h0m566 0h0m25 0h0m99 0h0m36 0h0m203 0h0m38 0h0m496 0h0m210 0h0m443 0h0m397 0h0m-2584 1h0m363 0h0m958 0h0m61 0h0m550 0h0m494 0h0m171 0h0m16 0h0m-2896 1h0m15 0h0m494 0h0m458 0h0m340 0h0m61 0h0m10 0h0m105 0h0m10 0h0m95 0h0m158 0h0m50 0h0m328 0h0m138 0h0m90 0h0m77 0h0m59 0h0m246 0h0m-2478 1h0m651 0h0m76 0h0m661 0h0m419 0h0m272 0h0m476 0h0m17 0h0m-558 1h0m-1867 7h0m1344 0h0m25 0h0m79 0h0m70 0h0m569 0h0m198 0h0m-2849 1h0m224 0h0m229 0h0m738 0h0m470 0h0m83 0h0m70 0h0m177 0h0m552 0h0m150 0h0m60 0h0m266 0h0m-2894 1h0m112 0h0m80 0h0m227 0h0m100 0h0m11 0h0m99 0h0m609 0h0m173 0h0m115 0h0m131 0h0m117 0h0m66 0h0m652 0h0m308 0h0m-2720 1h0m298 0h0m102 0h0m506 0h0m162 0h0m29 0h0m119 0h0m20 0h0m36 0h0m355 0h0m505 0h0m165 0h0m215 0h0m179 0h0m49 0h0m91 0h0m-2999 1h0m399 0h0m33 0h0m612 0h0m171 0h0m90 0h0m157 0h0m230 0h0m30 0h0m265 0h0m17 0h0m22 0h0m38 0h0m481 0h0m-2413 1h0m415 0h0m116 0h0m855 0h0m736 0h0m-2187 1h0m180 0h0m112 0h0m810 0h0m170 0h0m26 0h0m59 0h0m113 0h0m31 0h0m515 0h0m244 0h0m117 0h0m291 0h0m-2687 1h0m330 0h0m682 0h0m40 0h0m89 0h0m60 0h0m1108 0h0m341 0h0m-2688 1h0m134 0h0m341 0h0m655 0h0m617 0h0m649 0h0m-2374 1h0m649 0h0m20 0h0m778 0h0m78 0h0m34 0h0m322 0h0m189 0h0m60 0h0m436 0h0m35 0h0m286 0h0m40 0h0m-2508 1h0m193 0h0m111 0h0m356 0h0m540 0h0m720 0h0m155 0h0m-2548 1h0m130 0h0m120 0h0m39 0h0m319 0h0m155 0h0m551 0h0m374 0h0m511 0h0m25 0h0m70 0h0m484 0h0m184 0h0m-2331 8h0m765 0h0m300 0h0m303 0h0m142 0h0m282 0h0m-2284 1h0m481 0h0m125 0h0m19 0h0m388 0h0m382 0h0m54 0h0m467 0h0m232 0h0m556 0h0m35 0h0m91 0h0m-2922 1h0m209 0h0m154 0h0m40 0h0m239 0h0m535 0h0m119 0h0m143 0h0m116 0h0m493 0h0m59 0h0m19 0h0m34 0h0m265 0h0m67 0h0m105 0h0m67 0h0m248 0h0m36 0h0m-2930 1h0m128 0h0m131 0h0m103 0h0m302 0h0m359 0h0m843 0h0m113 0h0m266 0h0m585 0h0m20 0h0m-2809 1h0m552 0h0m580 0h0m115 0h0m215 0h0m213 0h0m339 0h0m260 0h0m24 0h0m172 0h0m358 0h0m-2339 1h0m784 0h0m57 0h0m108 0h0m920 0h0m316 0h0m-2624 1h0m205 0h0m118 0h0m27 0h0m1002 0h0m251 0h0m40 0h0m76 0h0m677 0h0m-2545 1h0m168 0h0m57 0h0m80 0h0m818 0h0m79 0h0m438 0h0m71 0h0m300 0h0m473 0h0m20 0h0m100 0h0m-2528 1h0m43 0h0m90 0h0m363 0h0m588 0h0m98 0h0m13 0h0m389 0h0m66 0h0m82 0h0m133 0h0m130 0h0m195 0h0m357 0h0m37 0h0m156 0h0m-2544 1h0m186 0h0m73 0h0m645 0h0m138 0h0m98 0h0m202 0h0m340 0h0m799 0h0m-2733 1h0m267 0h0m224 0h0m40 0h0m552 0h0m575 0h0m511 0h0m151 0h0m91 0h0m-1764 1h0m33 0h0m1179 0h0m93 0h0m387 0h0m-2347 8h0m37 0h0m588 0h0m778 0h0m533 0h0m347 0h0m207 0h0m416 0h0m-2808 1h0m31 0h0m253 0h0m148 0h0m41 0h0m107 0h0m685 0h0m214 0h0m1047 0h0m29 0h0m24 0h0m263 0h0m-2827 1h0m70 0h0m136 0h0m121 0h0m147 0h0m799 0h0m489 0h0m217 0h0m219 0h0m59 0h0m380 0h0m218 0h0m-2954 1h0m1198 0h0m84 0h0m11 0h0m130 0h0m63 0h0m337 0h0m-1630 1h0m209 0h0m129 0h0m598 0h0m335 0h0m119 0h0m174 0h0m484 0h0m-830 1h0m230 0h0m11 0h0m27 0h0m335 0h0m330 0h0m181 0h0m-2297 1h0m40 0h0m171 0h0m23 0h0m991 0h0m69 0h0m509 0h0m361 0h0m162 0h0m38 0h0m-2431 1h0m88 0h0m930 0h0m444 0h0m149 0h0m116 0h0m264 0h0m284 0h0m245 0h0m232 0h0m-2853 1h0m1791 0h0m90 0h0m-1468 1h0m120 0h0m54 0h0m570 0h0m117 0h0m173 0h0m608 0h0m297 0h0m209 0h0m103 0h0m-2681 1h0m97 0h0m240 0h0m120 0h0m134 0h0m1079 0h0m98 0h0m146 0h0m617 0h0m182 0h0m-2541 1h0m946 0h0m79 0h0m20 0h0m56 0h0m285 0h0m89 0h0m360 0h0m326 0h0m440 0h0m55 0h0m-2369 8h0m46 0h0m1652 0h0m431 0h0m-2367 1h0m126 0h0m41 0h0m134 0h0m53 0h0m593 0h0m131 0h0m193 0h0m265 0h0m244 0h0m-1847 1h0m214 0h0m173 0h0m799 0h0m57 0h0m412 0h0m19 0h0m152 0h0m82 0h0m695 0h0m-2771 1h0m75 0h0m383 0h0m822 0h0m182 0h0m595 0h0m31 0h0m285 0h0m28 0h0m124 0h0m326 0h0m-2871 1h0m516 0h0m112 0h0m548 0h0m96 0h0m304 0h0m1074 0h0m70 0h0m-2586 1h0m1108 0h0m144 0h0m425 0h0m70 0h0m59 0h0m60 0h0m130 0h0m400 0h0m398 0h0m-2633 1h0m1056 0h0m92 0h0m21 0h0m102 0h0m666 0h0m429 0h0m189 0h0m-2581 1h0m984 0h0m367 0h0m148 0h0m294 0h0m407 0h0m-2309 1h0m68 0h0m1177 0h0m250 0h0m37 0h0m-1257 1h0m153 0h0m1312 0h0m24 0h0m457 0h0m71 0h0m111 0h0m45 0h0m304 0h0m-2873 1h0m142 0h0m28 0h0m1013 0h0m510 0h0m231 0h0m343 0h0m132 0h0m69 0h0m80 0h0m-2602 1h0m471 0h0m860 0h0m194 0h0m91 0h0m41 0h0m29 0h0m77 0h0m80 0h0m384 0h0m283 0h0m206 0h0m134 0h0m-2473 1h0m179 7h0m688 0h0m169 0h0m358 0h0m173 0h0m248 0h0m115 0h0m-1764 1h0m1006 0h0m551 0h0m479 0h0m12 0h0m194 0h0m-1592 1h0m151 0h0m58 0h0m640 0h0m117 0h0m-1897 1h0m52 0h0m109 0h0m20 0h0m83 0h0m923 0h0m189 0h0m439 0h0m385 0h0m-2434 1h0m215 0h0m34 0h0m1405 0h0m71 0h0m158 0h0m152 0h0m379 0h0m38 0h0m39 0h0m134 0h0m269 0h0m-2708 1h0m112 0h0m941 0h0m15 0h0m97 0h0m116 0h0m74 0h0m37 0h0m931 0h0m233 0h0m-2575 1h0m312 0h0m1022 0h0m96 0h0m356 0h0m347 0h0m172 0h0m110 0h0m287 0h0m-2315 1h0m1304 0h0m330 0h0m211 0h0m208 0h0m166 0h0m59 0h0m-1562 1h0m63 0h0m144 0h0m495 0h0m746 0h0m-2276 1h0m1559 0h0m111 0h0m247 0h0m458 0h0m-2244 1h0m627 0h0m92 0h0m120 0h0m412 0h0m73 0h0m482 0h0m410 0h0m57 0h0m-2861 1h0m471 0h0m717 0h0m460 0h0m303 0h0m207 0h0m497 0h0m20 0h0m-1070 8h0m59 0h0m198 0h0m159 0h0m-1537 1h0m772 0h0m160 0h0m148 0h0m664 0h0m43 0h0m148 0h0m300 0h0m43 0h0m59 0h0m-2318 1h0m702 0h0m241 0h0m272 0h0m413 0h0m251 0h0m22 0h0m391 0h0m46 0h0m30 0h0m-2328 1h0m1350 0h0m-213 1h0m228 0h0m22 0h0m430 0h0m98 0h0m-2030 1h0m97 0h0m829 0h0m139 0h0m282 0h0m80 0h0m205 0h0m380 0h0m266 0h0m-2724 1h0m463 0h0m990 0h0m112 0h0m242 0h0m171 0h0m255 0h0m428 0h0m212 0h0m-1577 1h0m462 0h0m357 0h0m574 0h0m-1444 1h0m165 0h0m363 0h0m189 0h0m631 0h0m165 0h0m-2275 1h0m832 0h0m35 0h0m257 0h0m227 0h0m434 0h0m54 0h0m384 0h0m-1444 1h0m126 0h0m325 0h0m341 0h0m492 0h0m-1206 1h0m502 0h0m334 0h0m316 0h0m36 0h0m-1178 8h0m789 0h0m327 0h0m113 0h0m82 0h0m179 0h0m23 0h0m-2445 1h0m886 0h0m117 0h0m510 0h0m62 0h0m169 0h0m17 0h0m228 0h0m286 0h0m-1446 1h0m520 0h0m493 0h0m418 0h0m-1409 1h0m24 0h0m76 0h0m28 0h0m656 0h0m449 0h0m378 0h0m-2486 1h0m1559 0h0m365 0h0m130 0h0m-1977 1h0m910 0h0m908 0h0m426 0h0m-1065 1h0m781 0h0m93 0h0m244 0h0m24 0h0m-1296 1h0m320 0h0m380 0h0m21 0h0m117 0h0m213 0h0m-2113 1h0m1122 0h0m37 0h0m116 0h0m11 0h0m306 0h0m42 0h0m414 0h0m246 0h0m18 0h0m81 0h0m-2371 1h0m986 0h0m77 0h0m59 0h0m276 0h0m18 0h0m29 0h0m187 0h0m22 0h0m-652 1h0m22 0h0m315 0h0m39 0h0m78 0h0m-1534 1h0m1151 0h0m256 0h0m191 0h0m303 0h0m107 0h0m173 0h0m-1242 8h0m151 0h0m98 0h0m399 0h0m30 0h0m711 0h0m-1450 1h0m121 0h0m124 0h0m133 0h0m137 0h0m149 1h0m117 0h0m302 0h0m225 0h0m-2159 1h0m1506 0h0m141 0h0m99 0h0m270 0h0m50 0h0m208 0h0m-1376 1h0m241 0h0m1061 0h0m216 0h0m-1008 1h0m379 0h0m182 0h0m141 0h0m230 0h0m-2308 1h0m958 0h0m124 0h0m424 0h0m705 0h0m150 0h0m37 0h0m-1411 1h0m235 0h0m360 0h0m95 0h0m336 0h0m134 0h0m-1343 1h0m112 0h0m59 0h0m170 0h0m130 0h0m180 0h0m90 0h0m381 0h0m74 0h0m116 0h0m212 0h0m14 0h0m-2352 1h0m1271 0h0m34 0h0m27 0h0m415 0h0m37 0h0m19 0h0m31 0h0m45 0h0m14 0h0m-1038 1h0m201 0h0m344 0h0m251 0h0m16 0h0m404 0h0m-1160 1h0m945 0h0m-898 8h0m1323 0h0m171 0h0m-1644 1h0m258 0h0m254 0h0m220 0h0m519 0h0m191 0h0m-1352 1h0m512 0h0m384 0h0m-912 1h0m377 0h0m453 0h0m-496 1h0m120 0h0m130 0h0m285 0h0m64 0h0m210 0h0m187 0h0m133 0h0m-1498 1h0m69 0h0m76 0h0m245 0h0m160 0h0m276 0h0m156 0h0m173 0h0m324 0h0m-1356 1h0m124 0h0m53 0h0m34 0h0m387 0h0m28 0h0m20 0h0m76 0h0m255 0h0m152 0h0m338 0h0m-1616 1h0m345 0h0m213 0h0m199 0h0m383 0h0m83 0h0m-1187 1h0m153 0h0m197 0h0m70 0h0m1141 0h0m-1482 1h0m95 0h0m101 0h0m396 0h0m111 0h0m17 0h0m253 0h0m67 0h0m248 0h0m77 0h0m95 0h0m-618 1h0m65 0h0m84 0h0m240 0h0m105 0h0m-976 1h0m595 0h0m260 0h0m-1341 8h0m554 0h0m97 0h0m856 0h0m-1405 1h0m333 0h0m24 0h0m529 0h0m54 0h0m159 0h0m-892 1h0m301 0h0m135 0h0m700 0h0m-1408 1h0m134 0h0m190 0h0m156 0h0m187 0h0m247 0h0m79 0h0m90 0h0m101 0h0m268 0h0m91 0h0m-1287 1h0m180 0h0m246 0h0m60 0h0m45 0h0m89 0h0m98 0h0m153 0h0m73 0h0m-480 1h0m172 0h0m153 0h0m200 0h0m187 0h0m-1404 1h0m183 0h0m604 0h0m-617 1h0m261 0h0m191 0h0m149 0h0m43 0h0m297 0h0m344 0h0m82 0h0m74 0h0m-1653 1h0m97 0h0m68 0h0m24 0h0m170 0h0m-302 1h0m498 0h0m224 0h0m94 0h0m208 0h0m284 0h0m225 0h0m-1483 1h0m1235 0h0m69 0h0m204 0h0m-1375 1h0m80 0h0m245 0h0m82 0h0m305 0h0m165 0h0m111 0h0m157 0h0m138 0h0m-1341 8h0m34 0h0m139 0h0m417 0h0m132 0h0m60 0h0m187 0h0m306 0h0m17 0h0m126 0h0m-1608 1h0m145 0h0m94 0h0m-112 1h0m139 0h0m148 0h0m26 0h0m791 0h0m424 0h0m-1453 1h0m495 0h0m-321 1h0m22 0h0m324 0h0m225 0h0m154 0h0m320 0h0m-1391 1h0m27 0h0m982 0h0m271 0h0m72 0h0m-1363 1h0m324 0h0m542 0h0m102 0h0m156 0h0m219 0h0m272 0h0m37 0h0m-1218 1h0m169 0h0m138 0h0m78 0h0m221 0h0m193 0h0m146 0h0m125 0h0m-1409 1h0m357 0h0m462 0h0m151 0h0m211 0h0m-1123 1h0m325 0h0m246 0h0m49 0h0m74 0h0m307 0h0m177 0h0m-1253 1h0m545 0h0m168 0h0m461 0h0m59 0h0m264 0h0m-1029 1h0m99 0h0m21 0h0m335 0h0m97 0h0m92 0h0m232 0h0m-1373 8h0m204 0h0m73 0h0m134 0h0m156 0h0m509 0h0m230 0h0m25 0h0m-1103 1h0m132 0h0m185 0h0m628 0h0m215 0h0m123 0h0m-1005 1h0m256 0h0m163 0h0m119 0h0m486 0h0m42 0h0m22 0h0m-1407 1h0m1087 0h0m131 0h0m-1486 1h0m250 0h0m230 0h0m281 0h0m-724 1h0m103 0h0m71 0h0m252 0h0m280 0h0m81 0h0m247 0h0m-1046 1h0m129 0h0m176 0h0m200 0h0m192 0h0m699 0h0m-1234 1h0m1394 0h0m-1464 1h0m282 0h0m303 0h0m225 0h0m115 0h0m174 0h0m53 0h0m-1207 1h0m552 0h0m172 0h0m315 0h0m130 0h0m-1003 1h0m118 0h0m32 0h0m141 0h0m565 0h0m52 0h0m62 0h0m89 0h0m28 0h0m132 0h0m93 0h0m-990 1h0m21 0h0m97 0h0m16 0h0m120 0h0m149 0h0m79 0h0m146 0h0m187 0h0m265 0h0m-1105 8h0m327 0h0m416 0h0m48 0h0m57 0h0m-1227 1h0m111 0h0m230 0h0m167 0h0m99 0h0m31 0h0m315 0h0m-628 1h0m224 0h0m117 0h0m169 0h0m133 0h0m22 0h0m294 0h0m19 0h0m-1232 1h0m134 0h0m365 0h0m763 0h0m12 0h0m100 0h0m-1541 1h0m152 0h0m188 0h0m151 0h0m326 0h0m88 0h0m216 0h0m-898 1h0m27 0h0m760 0h0m503 0h0m-1055 1h0m130 0h0m398 0h0m-1010 1h0m572 0h0m134 0h0m100 0h0m456 0h0m12 0h0m-1120 1h0m188 0h0m40 0h0m529 0h0m132 0h0m135 0h0m161 0h0m-800 1h0m51 0h0m55 0h0m740 0h0m117 0h0m121 0h0m14 0h0m-1598 1h0m57 0h0m215 0h0m585 0h0m270 0h0m358 0h0m-1239 1h0m270 0h0m195 0h0m242 0h0m129 0h0m455 0h0m29 0h0m-1518 8h0m113 0h0m24 0h0m212 0h0m301 0h0m722 0h0m125 0h0m-1472 1h0m660 0h0m235 0h0m130 0h0m-1105 1h0m96 0h0m232 0h0m582 0h0m140 0h0m28 0h0m58 0h0m-777 1h0m1013 0h0m-1160 1h0m58 0h0m381 0h0m124 0h0m97 0h0m198 0h0m144 0h0m83 0h0m152 0h0m65 0h0m-965 1h0m254 0h0m357 0h0m79 0h0m225 0h0m118 0h0m-1282 1h0m75 0h0m306 0h0m917 0h0m21 0h0m-1499 1h0m302 0h0m204 0h0m98 0h0m110 0h0m25 0h0m144 0h0m-717 1h0m149 0h0m129 0h0m-316 1h0m509 0h0m56 0h0m121 0h0m58 0h0m190 0h0m72 0h0m59 0h0m41 0h0m183 0h0m95 0h0m-1404 1h0m234 0h0m11 0h0m121 0h0m18 0h0m285 0h0m58 0h0m240 0h0m82 0h0m229 0h0m-1351 1h0m185 0h0m786 0h0m-1016 8h0m257 0h0m388 0h0m123 0h0m60 0h0m671 0h0m-1468 1h0m590 0h0m77 0h0m55 0h0m454 0h0m-1228 1h0m169 0h0m893 0h0m362 0h0m-1390 1h0m74 0h0m115 0h0m22 0h0m79 0h0m50 0h0m58 0h0m691 0h0m54 0h0m363 0h0m-1240 1h0m187 0h0m56 0h0m352 0h0m262 0h0m98 0h0m-1106 1h0m109 0h0m254 0h0m18 0h0m297 0h0m175 0h0m338 0h0m-1403 1h0m400 0h0m764 0h0m373 0h0m-1399 1h0m107 0h0m176 0h0m114 0h0m399 0h0m35 0h0m22 0h0m38 0h0m437 0h0m92 0h0m-1536 1h0m718 0h0m405 0h0m117 0h0m-1221 1h0m762 0h0m79 0h0m201 0h0m307 0h0m-872 1h0m127 0h0m368 0h0m92 0h0m417 0h0m-1366 1h0m1042 0h0m75 0h0m81 0h0m21 0h0m-1193 8h0m177 0h0m185 0h0m156 0h0m294 0h0m96 0h0m83 0h0m-1176 1h0m111 0h0m326 0h0m153 0h0m322 0h0m374 0h0m156 0h0m114 0h0m-1429 1h0m326 0h0m357 0h0m307 0h0m458 0h0m-1424 1h0m111 0h0m157 0h0m147 0h0m356 0h0m61 0h0m43 0h0m126 0h0m-1138 1h0m62 0h0m582 0h0m132 0h0m63 0h0m17 0h0m-815 1h0m222 0h0m440 0h0m38 0h0m24 0h0m432 0h0m271 0h0m-1392 1h0m133 0h0m93 0h0m1042 0h0m45 0h0m189 0h0m-1291 1h0m304 0h0m137 0h0m300 0h0m336 0h0m-1036 1h0m50 0h0m878 0h0m192 0h0m-1258 1h0m168 0h0m591 0h0m101 0h0m458 0h0m90 0h0m-1578 1h0m128 0h0m922 0h0m222 0h0m22 0h0m12 0h0m78 0h0m118 0h0m-1288 1h0m640 0h0m54 0h0m195 0h0m55 0h0m-1147 8h0m135 0h0m172 0h0m38 0h0m9 0h0m466 0h0m245 0h0m-1047 1h0m19 0h0m649 0h0m32 0h0m139 0h0m114 0h0m204 0h0m34 0h0m65 0h0m-1120 1h0m75 0h0m35 0h0m176 0h0m58 0h0m1022 0h0m-1202 1h0m386 0h0m188 0h0m118 0h0m279 0h0m189 0h0m-1275 1h0m85 0h0m167 0h0m497 0h0m90 0h0m62 0h0m52 0h0m209 0h0m-970 1h0m273 0h0m451 0h0m228 0h0m-1290 1h0m1518 0h0m-1384 1h0m589 0h0m16 0h0m347 0h0m50 0h0m194 0h0m-1137 1h0m128 0h0m34 0h0m578 0h0m418 0h0m-1447 1h0m113 0h0m43 0h0m415 0h0m22 0h0m48 0h0m949 0h0m-1570 1h0m529 0h0m320 0h0m713 0h0m-1373 1h0m451 0h0m398 0h0m236 0h0m163 0h0m-1148 8h0m44 0h0m37 0h0m478 0h0m360 0h0m211 0h0m-1178 1h0m454 0h0m127 0h0m55 0h0m114 0h0m249 0h0m-1253 1h0m25 0h0m411 0h0m170 0h0m120 0h0m18 0h0m377 0h0m403 0h0m-1466 1h0m79 0h0m33 0h0m324 0h0m267 0h0m63 0h0m378 0h0m117 0h0m64 0h0m23 0h0m65 0h0m9 0h0m-607 1h0m207 0h0m254 0h0m34 0h0m-1010 1h0m290 0h0m955 0h0m-1448 1h0m888 0h0m249 0h0m292 0h0m27 0h0m-1186 1h0m93 0h0m149 0h0m494 0h0m21 0h0m-915 1h0m23 0h0m258 0h0m253 0h0m271 0h0m165 0h0m33 0h0m-1083 1h0m296 0h0m661 0h0m421 0h0m-1169 1h0m174 0h0m111 0h0m312 0h0m516 0h0m32 0h0m-1497 1h0m486 0h0m59 0h0m40 0h0m395 0h0m425 0h0m-1225 9h0m154 0h0m772 0h0m320 0h0m-1301 1h0m88 0h0m60 0h0m205 0h0m115 0h0m135 0h0m40 0h0m12 0h0m152 0h0m118 0h0m74 0h0m236 0h0m35 0h0m88 0h0m-965 1h0m281 0h0m292 0h0m-1080 1h0m184 0h0m632 0h0m72 0h0m412 0h0m270 0h0m-1616 1h0m120 0h0m220 0h0m388 0h0m49 0h0m119 0h0m58 0h0m304 0h0m77 0h0m37 0h0m70 0h0m57 0h0m-1328 1h0m500 0h0m247 0h0m659 0h0m-873 1h0m41 0h0m246 0h0m-854 1h0m193 0h0m153 0h0m798 0h0m320 0h0m-1313 1h0m168 0h0m236 0h0m190 0h0m411 0h0m267 0h0m-1291 1h0m260 0h0m76 0h0m421 0h0m288 0h0m171 0h0m-1458 1h0m73 0h0m88 0h0m304 0h0m919 0h0m135 0h0m-830 8h0m60 0h0m265 0h0m-822 1h0m379 0h0m79 0h0m60 0h0m-626 1h0m246 0h0m51 0h0m135 0h0m91 0h0m159 0h0m88 0h0m496 0h0m152 0h0m-1198 1h0m37 0h0m441 0h0m310 0h0m317 0h0m-1384 1h0m1000 0h0m247 0h0m115 0h0m-1290 1h0m302 0h0m74 0h0m324 0h0m134 0h0m137 0h0m359 0h0m-1467 1h0m104 0h0m173 0h0m12 0h0m110 0h0m76 0h0m190 0h0m217 0h0m603 0h0m41 0h0m-1449 1h0m116 0h0m20 0h0m1122 0h0m-874 1h0m129 0h0m331 0h0m69 0h0m97 0h0m73 0h0m350 0h0m-1255 1h0m79 0h0m239 0h0m188 0h0m388 0h0m74 0h0m-1193 1h0m11 0h0m121 0h0m472 0h0m226 0h0m99 0h0m342 0h0m106 0h0m-1225 1h0m133 0h0m189 0h0m206 0h0m227 0h0m340 0h0m93 0h0m-19 1h0m-251 7h0m111 0h0m-1212 1h0m1038 0h0m-969 1h0m100 0h0m18 0h0m25 0h0m8 0h0m40 0h0m28 0h0m34 0h0m107 0h0m236 0h0m168 0h0m56 0h0m112 0h0m135 0h0m-1125 1h0m401 0h0m93 0h0m442 0h0m78 0h0m136 0h0m142 0h0m83 0h0m-1045 1h0m361 0h0m78 0h0m11 0h0m80 0h0m326 0h0m204 0h0m-1095 1h0m49 0h0m173 0h0m55 0h0m351 0h0m38 0h0m392 0h0m75 0h0m27 0h0m-856 1h0m113 0h0m343 0h0m263 0h0m-1181 1h0m473 0h0m236 0h0m56 0h0m76 0h0m487 0h0m-908 1h0m175 0h0m377 0h0m58 0h0m-803 1h0m18 0h0m57 0h0m194 0h0m-612 1h0m62 0h0m394 0h0m267 0h0m327 0h0m193 0h0m13 0h0m54 0h0m-1228 1h0m132 0h0m566 0h0m-769 8h0m322 0h0m252 0h0m201 0h0m98 0h0m115 0h0m61 0h0m33 0h0m194 0h0m-1251 1h0m265 0h0m166 0h0m95 0h0m211 0h0m399 0h0m22 0h0m124 0h0m-1210 1h0m34 0h0m766 0h0m342 0h0m58 0h0m30 0h0m97 0h0m-620 1h0m-764 1h0m592 0h0m55 0h0m21 0h0m-744 1h0m416 0h0m214 0h0m227 0h0m184 0h0m22 0h0m75 0h0m119 0h0m184 0h0m-1039 1h0m-177 1h0m209 0h0m458 0h0m288 0h0m111 0h0m137 0h0m-1414 1h0m290 0h0m271 0h0m113 0h0m74 0h0m189 0h0m-839 1h0m81 0h0m52 0h0m26 0h0m13 0h0m173 0h0m57 0h0m962 0h0m-1318 1h0m186 0h0m36 0h0m90 0h0m306 0h0m326 0h0m57 0h0m223 0h0m-852 1h0m434 0h0m37 0h0m238 0h0m-1102 8h0m289 0h0m594 0h0m-778 1h0m266 0h0m545 0h0m195 0h0m-1214 1h0m17 0h0m908 0h0m356 0h0m-1152 1h0m170 0h0m150 0h0m248 0h0m647 0h0m60 0h0m-1054 1h0m324 0h0m761 0h0m-1017 1h0m333 0h0m307 0h0m193 0h0m-1107 1h0m46 0h0m185 0h0m51 0h0m648 0h0m255 0h0m-1237 1h0m75 0h0m317 0h0m175 0h0m81 0h0m67 0h0m196 0h0m115 0h0m246 0h0m-1327 1h0m190 0h0m90 0h0m402 0h0m130 0h0m318 0h0m99 0h0m155 0h0m-629 1h0m36 0h0m46 0h0m34 0h0m327 0h0m-632 1h0m288 0h0m202 0h0m213 0h0m-740 1h0m12 0h0m201 0h0m258 0h0m101 0h0m16 0h0m-946 8h0m276 0h0m72 0h0m644 0h0m137 0h0m-1028 1h0m221 0h0m199 0h0m208 0h0m318 0h0m-1179 1h0m120 0h0m79 0h0m89 0h0m101 0h0m374 0h0m234 0h0m73 0h0m77 0h0m98 0h0m55 0h0m-1329 1h0m205 0h0m146 0h0m30 0h0m551 0h0m198 0h0m-1082 1h0m85 0h0m335 0h0m150 0h0m199 0h0m242 0h0m-1048 1h0m171 0h0m388 0h0m126 0h0m-416 1h0m242 0h0m78 0h0m742 0h0m-1276 1h0m324 0h0m345 0h0m35 0h0m231 0h0m80 0h0m-742 1h0m421 0h0m95 0h0m127 0h0m53 0h0m269 0h0m-1330 1h0m661 0h0m276 0h0m-332 1h0m613 0h0m38 0h0m14 0h0m-945 1h0m155 0h0m94 0h0m167 0h0m406 0h0m-1139 8h0m134 0h0m349 0h0m676 0h0m56 0h0m-377 1h0m398 0h0m-449 1h0m-636 1h0m134 0h0m273 0h0m325 0h0m34 0h0m396 0h0m-1238 1h0m502 0h0m189 0h0m49 0h0m-754 1h0m241 0h0m57 0h0m38 0h0m247 0h0m76 0h0m135 0h0m331 0h0m115 0h0m-885 1h0m116 0h0m218 0h0m297 0h0m26 0h0m14 0h0m-1060 1h0m1171 0h0m54 0h0m83 0h0m-991 1h0m37 0h0m209 0h0m41 0h0m298 0h0m44 0h0m173 0h0m-435 1h0m191 0h0m53 0h0m32 0h0m25 0h0m107 0h0m-1077 1h0m61 0h0m358 0h0m340 0h0m-625 1h0m263 0h0m661 0h0m-560 8h0m407 0h0m-777 1h0m281 0h0m250 0h0m227 0h0m-742 1h0m717 0h0m56 0h0m169 0h0m-1056 1h0m592 0h0m11 0h0m199 0h0m107 0h0m-933 1h0m61 0h0m378 0h0m83 0h0m73 0h0m69 0h0m463 0h0m-1086 2h0m490 0h0m228 0h0m195 0h0m109 0h0m-718 1h0m42 0h0m319 0h0m39 0h0m-784 1h0m23 0h0m498 0h0m203 0h0m156 0h0m-692 1h0m893 0h0m-617 1h0m125 0h0m421 0h0m-898 1h0m24 0h0m911 0h0m93 0h0m-631 8h0m267 0h0m155 0h0m66 0h0m-563 1h0m113 0h0m136 0h0m20 0h0m-665 1h0m624 0h0m301 0h0m-852 1h0m247 0h0m229 1h0m493 0h0m-1011 1h0m22 0h0m285 0h0m74 0h0m44 0h0m31 0h0m425 0h0m-902 1h0m422 0h0m93 0h0m156 0h0m152 0h0m-746 1h0m517 0h0m168 0h0m25 1h0m182 0h0m38 0h0m-1039 1h0m780 0h0m97 0h0m84 0h0m65 1h0m53 0h0m-705 1h0m340 0h0m19 0h0m-100 8h0m17 0h0m406 0h0m-516 1h0m188 0h0m246 0h0m61 0h0m-950 1h0m610 0h0m57 0h0m-627 1h0m320 0h0m136 0h0m-558 1h0m301 0h0m23 0h0m18 0h0m417 0h0m213 0h0m-499 1h0m214 0h0m-241 1h0m93 0h0m371 0h0m-1115 1h0m612 0h0m371 0h0m83 0h0m126 0h0m-600 1h0m429 0h0m84 0h0m-936 1h0m-192 1h0m254 0h0m18 0h0m410 0h0m38 0h0m-409 1h0m282 0h0m380 0h0m54 0h0m133 0h0m-963 8h0m62 0h0m270 0h0m53 0h0m419 0h0m-784 1h0m457 0h0m197 0h0m-862 1h0m550 0h0m428 0h0m111 0h0m117 1h0m-1184 1h0m1158 0h0m-642 1h0m114 0h0m514 0h0m-326 1h0m-215 1h0m190 0h0m77 0h0m237 0h0m-857 1h0m419 0h0m49 0h0m45 0h0m167 0h0m156 0h0m-784 1h0m-340 1h0m242 0h0m58 0h0m25 0h0m283 0h0m114 0h0m15 0h0m210 0h0m-127 1h0m106 0h0m103 0h0m-813 8h0m705 0h0m244 0h0m-856 1h0m535 0h0m364 0h0m-536 1h0m-412 1h0m546 0h0m16 0h0m47 0h0m151 0h0m-378 1h0m134 0h0m180 0h0m38 0h0m134 0h0m-1133 1h0m143 0h0m100 0h0m324 0h0m419 0h0m-369 1h0m83 0h0m249 0h0m-864 2h0m215 0h0m357 0h0m137 0h0m251 0h0m-763 1h0m439 0h0m163 0h0m21 0h0m-896 1h0m543 0h0m189 0h0m-538 1h0m549 0h0m368 0h0m69 0h0m-628 8h0m355 0h0m111 0h0m47 0h0m66 0h0m-888 1h0m378 0h0m195 0h0m56 0h0m128 0h0m-1002 1h0m895 0h0m-785 1h0m455 0h0m191 0h0m-660 1h0m945 0h0m35 0h0m-296 1h0m186 0h0m-935 1h0m194 0h0m42 0h0m686 0h0m-825 1h0m560 0h0m431 0h0m-1043 1h0m563 0h0m105 0h0m91 0h0m-641 1h0m90 0h0m697 0h0m196 0h0m-1154 1h0m31 0h0m643 0h0m101 0h0m53 0h0m79 0h0m-719 1h0m450 0h0m64 0h0m373 0h0m65 0h0m-438 8h0m83 0h0m107 0h0m102 0h0m116 0h0m-896 1h0m550 0h0m109 0h0m59 0h0m93 0h0m58 0h0m-829 1h0m357 0h0m53 0h0m466 1h0m-995 1h0m688 1h0m320 0h0m-403 1h0m231 0h0m-887 1h0m641 0h0m76 0h0m148 0h0m-989 1h0m45 0h0m42 0h0m66 0h0m58 0h0m-154 1h0m43 0h0m43 0h0m56 0h0m528 1h0m325 0h0m-1031 1h0m295 0h0m420 8h0m60 0h0m150 0h0m37 0h0m-969 1h0m100 0h0m59 0h0m665 0h0m-804 1h0m191 0h0m556 0h0m-496 1h0m471 1h0m207 0h0m-909 1h0m270 0h0m485 1h0m-507 1h0m548 0h0m-723 2h0m745 0h0m-794 1h0m10 0h0m60 0h0m55 1h0m-82 8h0m36 0h0m44 0h0m75 0h0m-171 1h0m-79 1h0m279 0h0m-262 3h0m169 1h0m43 0h0m39 0h0m526 0h0m-814 1h0m233 0h0m598 0h0m-657 1h0m-101 1h0m-15 1h0m79 0h0m-70 9h0m108 0h0m-166 2h0m22 0h0m57 0h0m107 0h0m66 2h0m-133 1h0m17 1h0m17 0h0m-118 1h0m-56 1h0m227 1h0m-115 2h0m133 0h0m39 0h0m-135 8h0m88 0h0m-186 1h0m76 0h0m-17 1h0m181 1h0m-74 1h0m-38 1h0m-148 1h0m137 0h0m-172 1h0m16 1h0m191 0h0m-228 1h0m282 0h0m25 0h0m-212 1h0m159 9h0m42 0h0m-131 1h0m38 0h0m67 0h0m-190 2h0m161 0h0m-228 3h0m18 0h0m89 1h0m-74 1h0m23 0h0m68 0h0m77 0h0m-29 2h0m96 9h0m-284 1h0m272 0h0m-102 3h0m-18 1h0m64 0h0m37 0h0m-199 2h0m37 1h0m40 0h0m-58 2h0m42 0h0m114 0h0m-210 1h0m19 0h0m107 8h0m59 0h0m15 2h0m-110 2h0m49 0h0m103 1h0m-192 2h0m13 0h0m158 0h0m-229 1h0m116 2h0m-91 1h0m15 0h0m22 8h0m133 0h0m-162 1h0m201 0h0m-192 1h0m214 1h0m-154 2h0m85 0h0m-60 2h0m-38 1h0m48 0h0m21 2h0m62 0h0m-101 11h0m-62 3h0m-80 2h0m253 0h0m-96 1h0m76 0h0m-40 1h0m81 0h0m-93 1h0m29 0h0m-220 1h0m-12 9h0m98 0h0m-38 1h0m12 0h0m-58 1h0m157 3h0m91 2h0m-226 3h0m166 0h0m-113 8h0m147 0h0m-208 3h0m22 0h0m221 0h0m-53 1h0m-114 1h0m20 1h0m-136 1h0m174 0h0m-187 1h0m84 0h0m143 0h0m56 2h0m-189 9h0m-38 3h0m191 1h0m-221 1h0m59 0h0m186 0h0m-234 1h0m102 0h0m13 0h0m-145 1h0m223 1h0m-116 1h0m101 2h0m-129 9h0m134 0h0m-147 1h0m35 2h0m-91 1h0m11 2h0m158 0h0m80 0h0m-219 1h0m189 1h0m-193 11h0m194 4h0m-176 1h0m190 3h0" stroke="#678eb0" stroke-width="30" stroke-linecap="round" fill="none"/></g><path d="M814.2 405.2V390.8a10 10 0 0 1 10 -10H1168.4a10 10 0 0 1 10 10V405.2Z" fill="#fff"/><text x="830.8" y="400.0" textLength="324.6" lengthAdjust="spacingAndGlyphs" font-family="'Liberation Serif',serif" font-style="italic" font-size="19.5" fill="#1a1a1a">from Boyko (first round) to Zelensky (runoff)</text><g transform="translate(795.0,330)"><polygon points="53.3,108.7 63.0,107.5 73.3,99.7 88.3,99.0 106.7,101.2 128.3,107.8 144.7,108.8 152.5,113.0 159.7,108.3 165.0,115.2 181.3,113.5 189.7,116.2 190.8,101.7 197.5,95.3 213.3,93.2 221.5,94.5 226.0,88.2 238.0,88.5 251.7,86.3 258.3,92.5 265.0,102.0 259.0,111.0 261.7,118.0 276.7,119.7 284.0,132.0 283.8,138.0 309.0,148.0 323.5,143.5 335.5,157.2 346.7,157.0 375.3,166.5 375.6,175.5 367.0,190.8 372.0,206.5 368.7,216.3 350.0,218.2 340.0,227.8 339.5,239.2 325.5,241.7 311.5,251.3 294.0,253.3 281.9,258.3 275.7,263.7 276.5,281.5 286.1,289.0 305.7,287.5 302.1,297.6 280.7,303.6 254.5,319.3 244.4,312.5 248.0,300.5 227.3,291.3 231.3,285.3 248.6,275.5 243.6,269.4 213.5,262.0 211.8,251.2 193.9,254.8 187.3,270.5 172.0,292.4 163.0,287.3 153.9,292.2 145.4,286.7 150.1,283.3 159.2,262.4 157.7,260.5 158.2,258.1 161.5,257.1 163.5,260.5 174.4,261.0 180.1,259.0 177.3,256.2 177.7,251.9 171.1,244.3 170.1,240.0 167.5,233.0 160.8,227.2 162.0,217.5 153.3,209.7 145.8,208.7 130.8,200.0 120.8,201.7 113.3,206.7 105.8,208.3 100.8,213.7 85.8,216.7 79.5,221.0 70.3,214.2 60.0,213.7 46.3,210.5 38.0,216.3 35.8,208.3 25.8,200.8 31.3,186.7 34.7,182.0 38.7,183.0 33.7,170.5 52.5,145.5 61.3,142.5 63.7,135.0" fill="#fff"/><polygon points="248.6,275.5 243.6,269.4 248.0,270.5 276.0,272.5 276.5,281.5 286.1,289.0 305.7,287.5 302.1,297.6 280.7,303.6 254.5,319.3 244.4,312.5 248.0,300.5 227.3,291.3 231.3,285.3" fill="url(#h)"/><polygon points="352.5,194.5 369.0,199.0 372.0,206.5 368.7,216.3 350.0,218.2 340.0,227.8 339.5,239.2 335.5,239.9 333.0,232.5 331.5,224.5 328.0,218.0" fill="url(#h)"/><polygon points="53.3,108.7 63.0,107.5 73.3,99.7 88.3,99.0 106.7,101.2 128.3,107.8 144.7,108.8 152.5,113.0 159.7,108.3 165.0,115.2 181.3,113.5 189.7,116.2 190.8,101.7 197.5,95.3 213.3,93.2 221.5,94.5 226.0,88.2 238.0,88.5 251.7,86.3 258.3,92.5 265.0,102.0 259.0,111.0 261.7,118.0 276.7,119.7 284.0,132.0 283.8,138.0 309.0,148.0 323.5,143.5 335.5,157.2 346.7,157.0 375.3,166.5 375.6,175.5 367.0,190.8 372.0,206.5 368.7,216.3 350.0,218.2 340.0,227.8 339.5,239.2 325.5,241.7 311.5,251.3 294.0,253.3 281.9,258.3 275.7,263.7 276.5,281.5 286.1,289.0 305.7,287.5 302.1,297.6 280.7,303.6 254.5,319.3 244.4,312.5 248.0,300.5 227.3,291.3 231.3,285.3 248.6,275.5 243.6,269.4 213.5,262.0 211.8,251.2 193.9,254.8 187.3,270.5 172.0,292.4 163.0,287.3 153.9,292.2 145.4,286.7 150.1,283.3 159.2,262.4 157.7,260.5 158.2,258.1 161.5,257.1 163.5,260.5 174.4,261.0 180.1,259.0 177.3,256.2 177.7,251.9 171.1,244.3 170.1,240.0 167.5,233.0 160.8,227.2 162.0,217.5 153.3,209.7 145.8,208.7 130.8,200.0 120.8,201.7 113.3,206.7 105.8,208.3 100.8,213.7 85.8,216.7 79.5,221.0 70.3,214.2 60.0,213.7 46.3,210.5 38.0,216.3 35.8,208.3 25.8,200.8 31.3,186.7 34.7,182.0 38.7,183.0 33.7,170.5 52.5,145.5 61.3,142.5 63.7,135.0" fill="none" stroke="#565b60" stroke-width="1.3" stroke-linejoin="round"/><path transform="scale(.1)" d="M2473 871h0m-164 11h0m145 0h0m46 1h0m-179 2h0m20 0h0m-67 2h0m94 3h0m21 0h0m139 7h0m-134 4h0m152 3h0m-240 4h0m67 2h0m159 10h0m20 2h0m18 2h0m-24 14h0m42 0h0m-18 7h0m-30 6h0m58 13h0m4 9h0m-509 4h0m496 3h0m-1629 10h0m1665 0h0m-32 6h0m18 1h0m-12 21h0m22 0h0m6 13h0m-1877 2h0m1845 3h0m-1678 4h0m1697 1h0m-1897 2h0m1904 9h0m-23 6h0m-1815 2h0m1834 13h0m-117 10h0m-460 10h0m-1347 17h0m1888 1h0m-30 5h0m-1274 1h0m1302 14h0m-21 13h0m14 9h0m-1039 4h0m1020 7h0m33 5h0m-23 5h0m70 26h0m-1283 10h0m417 7h0m-234 16h0m622 21h0m572 19h0m-220 27h0m-1317 50h0m1087 10h0m539 32h0m11 6h0m-1187 2h0m270 7h0m-222 2h0m1005 1h0m222 11h0m10 11h0m-119 1h0m100 6h0m-44 1h0m20 1h0m353 8h0m-352 4h0m13 3h0m-34 5h0m94 0h0m240 4h0m-26 3h0m-129 1h0m81 2h0m-65 3h0m-61 2h0m235 2h0m25 1h0m10 0h0m-499 2h0m402 8h0m7 0h0m22 0h0m85 4h0m-60 2h0m20 3h0m-33 8h0m-189 4h0m36 0h0m139 1h0m-21 3h0m-199 2h0m73 9h0m165 1h0m82 1h0m-234 2h0m95 0h0m123 0h0m-104 1h0m-64 2h0m-58 12h0m257 2h0m-152 2h0m113 0h0m-151 3h0m209 0h0m-200 1h0m48 1h0m-362 1h0m225 0h0m40 0h0m136 1h0m15 0h0m-2289 5h0m2120 2h0m68 0h0m27 0h0m76 0h0m63 1h0m-147 1h0m124 1h0m-1947 2h0m1754 0h0m-52 2h0m229 1h0m70 0h0m-111 1h0m96 0h0m-1803 2h0m1484 0h0m61 1h0m247 6h0m77 0h0m-174 1h0m269 0h0m-472 2h0m260 0h0m-242 1h0m225 0h0m211 0h0m-317 1h0m92 0h0m59 0h0m-190 2h0m16 1h0m210 1h0m-108 10h0m-172 1h0m522 0h0m-560 2h0m-21 1h0m248 0h0m77 1h0m-279 1h0m227 0h0m-196 1h0m26 0h0m57 0h0m149 1h0m156 1h0m-81 1h0m-167 1h0m128 0h0m-1715 1h0m1361 0h0m298 0h0m73 0h0m158 0h0m-203 8h0m198 0h0m-523 2h0m364 0h0m-186 1h0m91 0h0m281 1h0m-305 1h0m100 0h0m36 0h0m160 1h0m-444 1h0m-181 1h0m388 0h0m95 1h0m81 0h0m-435 2h0m31 0h0m540 1h0m-1405 2h0m876 4h0m151 3h0m322 0h0m-10 2h0m-485 1h0m325 0h0m195 0h0m-321 1h0m112 0h0m-417 1h0m72 0h0m622 0h0m-295 1h0m266 1h0m11 0h0m43 0h0m-73 1h0m-330 9h0m103 0h0m249 1h0m75 0h0m-626 1h0m503 0h0m-122 1h0m226 0h0m-676 1h0m390 1h0m334 0h0m-687 2h0m240 0h0m68 0h0m-195 1h0m-264 1h0m171 0h0m-1560 1h0m1184 0h0m541 0h0m308 0h0m12 0h0m44 0h0m17 0h0m-242 1h0m-158 1h0m-308 6h0m455 0h0m-118 1h0m462 0h0m30 0h0m-284 1h0m-40 1h0m316 0h0m-574 1h0m131 0h0m-83 1h0m324 0h0m-49 1h0m-96 1h0m18 1h0m40 0h0m132 0h0m-680 1h0m108 0h0m33 0h0m268 0h0m247 0h0m47 0h0m-583 1h0m222 1h0m-144 1h0m418 0h0m-425 1h0m105 0h0m-338 1h0m-468 2h0m45 2h0m642 2h0m394 0h0m142 0h0m-410 1h0m100 0h0m153 0h0m266 0h0m-360 1h0m52 0h0m101 0h0m71 0h0m-194 1h0m-146 1h0m41 0h0m-1385 1h0m1368 0h0m162 1h0m103 0h0m19 0h0m-687 1h0m450 0h0m342 0h0m-715 1h0m93 0h0m343 0h0m355 0h0m-390 1h0m287 0h0m-66 1h0m82 0h0m-1880 2h0m1521 6h0m275 0h0m12 1h0m73 0h0m-693 1h0m103 0h0m290 0h0m347 0h0m-770 2h0m49 0h0m448 0h0m-412 1h0m376 0h0m328 0h0m-515 2h0m316 0h0m-352 1h0m205 0h0m35 0h0m136 0h0m-552 1h0m36 1h0m244 0h0m368 0h0m43 0h0m-353 1h0m160 0h0m131 0h0m-471 1h0m295 0h0m303 0h0m-277 1h0m261 0h0m-858 5h0m98 2h0m221 0h0m208 0h0m-33 2h0m-84 1h0m329 0h0m40 1h0m9 0h0m-595 1h0m197 0h0m231 0h0m191 0h0m22 0h0m-357 1h0m-1302 1h0m883 0h0m376 0h0m167 0h0m-89 1h0m173 0h0m-28 1h0m-2352 1h0m1916 0h0m231 0h0m112 0h0m21 0h0m166 0h0m139 0h0m-949 1h0m927 0h0m-632 2h0m-8 5h0m45 0h0m459 0h0m58 1h0m95 0h0m-460 1h0m18 0h0m52 0h0m82 1h0m89 0h0m-199 1h0m335 0h0m120 0h0m-748 1h0m478 0h0m-61 1h0m180 0h0m-516 1h0m228 0h0m345 0h0m-136 1h0m-497 1h0m139 0h0m374 0h0m39 0h0m-341 1h0m127 0h0m29 1h0m50 0h0m19 0h0m-527 1h0m246 2h0m69 6h0m53 0h0m-203 1h0m315 0h0m253 0h0m-347 1h0m57 1h0m21 0h0m193 2h0m51 0h0m-207 1h0m-91 1h0m110 0h0m108 0h0m64 0h0m-546 1h0m276 0h0m251 0h0m-427 1h0m374 0h0m-607 1h0m227 0h0m-19 1h0m-393 1h0m-2335 5h0m2916 2h0m266 0h0m-661 1h0m512 0h0m21 0h0m112 0h0m-391 1h0m-17 1h0m142 0h0m43 0h0m59 1h0m18 0h0m184 0h0m-837 2h0m235 0h0m228 0h0m151 0h0m171 0h0m-25 1h0m-277 1h0m371 0h0m-435 2h0m491 0h0m-664 1h0m187 8h0m422 0h0m-2404 1h0m1960 0h0m418 0h0m-1084 2h0m802 0h0m131 0h0m98 0h0m-251 1h0m41 0h0m-169 1h0m263 1h0m148 0h0m-56 1h0m-1124 1h0m643 0h0m372 0h0m-178 1h0m24 0h0m377 0h0m-504 1h0m148 0h0m-1532 1h0m1477 0h0m453 1h0m-276 7h0m15 0h0m133 0h0m35 0h0m-146 1h0m189 1h0m-440 1h0m417 0h0m-27 1h0m71 1h0m-530 1h0m246 0h0m-209 1h0m375 0h0m-277 1h0m9 0h0m60 0h0m337 0h0m-483 1h0m129 2h0m-2064 1h0m619 0h0m1249 8h0m427 0h0m-360 2h0m426 1h0m-457 1h0m19 0h0m108 0h0m175 1h0m174 0h0m-218 1h0m23 0h0m-115 2h0m63 0h0m11 0h0m173 0h0m-364 1h0m102 0h0m56 0h0m158 0h0m68 0h0m58 0h0m-506 1h0m130 0h0m264 0h0m-488 1h0m-33 4h0m8 2h0m403 1h0m-3111 1h0m2923 0h0m246 0h0m77 0h0m-244 1h0m15 0h0m339 0h0m-73 1h0m-394 1h0m98 0h0m169 0h0m147 0h0m19 0h0m-420 1h0m-55 1h0m212 0h0m129 0h0m-321 1h0m171 0h0m-97 1h0m157 0h0m-26 1h0m65 1h0m-177 1h0m387 0h0m-521 1h0m-2734 5h0m1768 0h0m430 0h0m607 2h0m35 0h0m-423 2h0m503 0h0m326 0h0m-463 1h0m77 0h0m153 0h0m40 1h0m22 1h0m-324 1h0m13 0h0m320 0h0m-266 1h0m157 0h0m18 1h0m-111 1h0m155 1h0m188 0h0m-493 1h0m166 0h0m-336 2h0m192 6h0m159 1h0m-198 1h0m213 0h0m79 0h0m-949 1h0m780 0h0m56 0h0m-160 1h0m46 0h0m10 0h0m182 0h0m-154 1h0m31 1h0m227 0h0m-93 1h0m215 0h0m-153 1h0m22 1h0m-199 1h0m152 0h0m188 1h0m-1406 2h0m-967 6h0m2006 0h0m-91 2h0m60 0h0m20 0h0m320 0h0m-3150 1h0m3048 0h0m25 0h0m96 0h0m18 0h0m-473 1h0m169 0h0m110 0h0m40 0h0m-742 1h0m611 0h0m118 0h0m87 0h0m-343 1h0m152 0h0m-59 1h0m-73 1h0m348 1h0m-177 1h0m24 0h0m-253 1h0m211 0h0m-251 1h0m-1734 5h0m1844 2h0m381 0h0m-599 1h0m119 0h0m273 0h0m-662 2h0m677 0h0m23 0h0m-133 1h0m190 0h0m-311 1h0m198 1h0m-133 1h0m9 0h0m-86 1h0m143 0h0m160 0h0m-330 1h0m59 0h0m132 2h0m26 0h0m97 0h0m-3050 1h0m2750 7h0m173 0h0m-196 2h0m66 0h0m238 0h0m-199 1h0m8 0h0m179 0h0m-142 1h0m101 1h0m78 1h0m-286 1h0m36 0h0m56 1h0m-144 1h0m277 0h0m-54 2h0m14 0h0m-120 8h0m-57 1h0m25 0h0m-44 1h0m209 1h0m-78 3h0m-173 1h0m230 0h0m36 0h0m24 0h0m-267 1h0m138 0h0m38 0h0m10 0h0m-105 2h0m-216 1h0m244 0h0m-254 2h0m-49 5h0m359 1h0m21 0h0m-2103 1h0m1540 0h0m349 0h0m62 0h0m93 0h0m147 1h0m-207 1h0m-52 1h0m67 3h0m151 1h0m-89 1h0m114 0h0m-263 1h0m110 0h0m118 0h0m-171 1h0m148 0h0m27 9h0m-231 1h0m79 0h0m64 0h0m70 0h0m41 0h0m-73 1h0m-161 3h0m-34 1h0m52 1h0m26 0h0m204 0h0m-164 1h0m48 1h0m40 0h0m-73 1h0m-2142 4h0m2128 6h0m-125 1h0m152 1h0m38 0h0m28 0h0m-164 2h0m58 2h0m-73 1h0m50 0h0m117 0h0m-134 1h0m172 0h0m-224 1h0m142 0h0m-66 8h0m-74 1h0m97 0h0m-126 1h0m72 0h0m75 2h0m117 0h0m-250 1h0m-2135 1h0m2283 0h0m-2260 2h0m2150 0h0m133 0h0m13 0h0m44 0h0m-2303 1h0m2147 1h0m-2676 7h0m2575 2h0m270 0h0m-177 1h0m95 0h0m-169 1h0m60 0h0m-38 1h0m130 1h0m-2275 2h0m2257 0h0m-2223 1h0m2292 1h0m21 0h0m-126 1h0m16 1h0m-379 3h0m258 7h0m151 0h0m-46 2h0m106 1h0m-2306 2h0m2111 0h0m32 0h0m-159 1h0m146 0h0m59 0h0m-24 4h0m57 0h0m-2208 1h0m-456 1h0m2638 6h0m79 0h0m-135 1h0m33 0h0m85 1h0m-2673 2h0m2652 0h0m-120 1h0m40 0h0m57 0h0m93 0h0m-207 4h0m185 1h0m-323 4h0m184 5h0m122 0h0m-82 1h0m-95 1h0m78 0h0m71 1h0m44 0h0m-848 2h0m671 4h0m95 1h0m-73 1h0m94 0h0m-42 8h0m52 0h0m23 1h0m-139 2h0m37 3h0m60 0h0m-871 1h0m857 0h0m-61 2h0m-33 2h0m6 8h0m20 4h0m31 0h0m48 1h0m17 0h0m20 0h0m-153 1h0m57 1h0m39 4h0m-87 8h0m30 2h0m44 1h0m32 0h0m-54 1h0m77 1h0m-110 1h0m69 1h0m58 3h0m-1238 7h0m812 6h0m20 1h0m357 0h0m59 0h0m-96 1h0m78 1h0m-555 1h0m170 1h0m277 0h0m11 1h0m41 0h0m37 0h0m-1180 4h0m-109 3h0m183 0h0m-163 1h0m1302 1h0m-1240 2h0m1195 0h0m28 1h0m-86 1h0m116 0h0m-345 1h0m215 0h0m-1109 1h0m678 2h0m484 0h0m-77 1h0m-13 2h0m78 0h0m-268 3h0m-862 4h0m1135 1h0m59 0h0m21 0h0m-132 1h0m-1189 1h0m1258 1h0m19 2h0m-51 1h0m-77 1h0m12 0h0m-542 1h0m582 0h0m-1065 2h0m-331 2h0m794 0h0m-494 5h0m618 0h0m546 2h0m-111 1h0m135 0h0m36 0h0m-1235 1h0m681 1h0m424 0h0m-579 1h0m600 1h0m-513 1h0m598 1h0m-692 1h0m567 1h0m68 0h0m-957 1h0m939 1h0m-1495 1h0m1009 1h0m21 3h0m-141 1h0m75 1h0m-505 1h0m971 0h0m92 0h0m45 0h0m-119 1h0m-470 2h0m432 0h0m56 1h0m22 0h0m17 1h0m-1400 2h0m415 3h0m16 0h0m1011 1h0m-1337 1h0m297 0h0m629 9h0m269 1h0m57 0h0m60 0h0m-288 2h0m188 0h0m-1411 1h0m960 0h0m418 0h0m92 0h0m-1392 1h0m1450 0h0m-1023 1h0m921 1h0m58 1h0m-507 3h0m-629 5h0m107 2h0m998 2h0m-1461 1h0m1487 0h0m20 0h0m41 0h0m52 0h0m-638 1h0m470 0h0m11 0h0m-1346 1h0m-22 1h0m582 1h0m-163 1h0m-112 1h0m1146 0h0m35 0h0m-1079 1h0m853 0h0m-11 7h0m-978 1h0m-37 1h0m340 2h0m808 0h0m57 0h0m14 1h0m26 0h0m-195 1h0m225 2h0m-1098 1h0m986 0h0m97 0h0m-132 1h0m55 0h0m119 0h0m-460 4h0m15 1h0m-784 3h0m112 1h0m1023 1h0m-459 1h0m366 3h0m158 0h0m-424 1h0m398 1h0m-114 1h0m159 0h0m-1046 1h0m100 1h0m516 0h0m332 0h0m-297 1h0m-841 1h0m1103 0h0m67 0h0m76 0h0m-218 1h0m-877 1h0m981 7h0m69 2h0m-133 1h0m96 0h0m19 0h0m55 0h0m-146 3h0m133 0h0m-684 4h0m321 0h0m283 0h0m-1480 2h0m331 0h0m825 0h0m-1169 4h0m1442 2h0m103 0h0m-140 3h0m159 0h0m-1528 1h0m801 0h0m662 0h0m-1482 3h0m1562 1h0m-1304 1h0m-60 1h0m1308 0h0m-32 1h0m-590 1h0m-548 2h0m-155 3h0m-172 2h0m333 0h0m887 0h0m42 0h0m125 1h0m-572 1h0m457 0h0m210 3h0m-414 1h0m141 1h0m258 1h0m-11 3h0m-1253 1h0m234 1h0m-444 4h0m214 2h0m387 0h0m9 0h0m-592 1h0m1470 0h0m-350 2h0m-35 4h0m24 1h0m338 2h0m-1013 4h0m-400 8h0m986 1h0m288 2h0m-874 5h0m812 2h0m24 0h0m-280 4h0m234 1h0m18 0h0m-227 1h0m-610 2h0m846 2h0m31 0h0m-1031 2h0m249 2h0m-358 1h0m-122 2h0m1015 0h0m31 1h0m-450 1h0m505 0h0m-1003 6h0m127 0h0m892 1h0m-63 2h0m-57 3h0m-999 2h0m1086 1h0m-1074 4h0m1103 4h0m-49 1h0m-79 2h0m-738 3h0m626 1h0m-16 1h0m-829 4h0m949 0h0m-29 2h0m80 0h0m-196 1h0m194 4h0m-196 1h0m137 0h0m21 0h0m-85 3h0m136 4h0m-43 3h0m-142 2h0m115 7h0m-61 3h0m-45 3h0m91 5h0m-147 2h0m135 11h0m44 1h0m9 0h0m-236 1h0m104 0h0m69 4h0m-1076 8h0m1064 2h0m65 4h0m-85 1h0m81 11h0m-1141 1h0m23 0h0m1040 2h0m-1079 1h0m1169 1h0m-1106 3h0m905 1h0m95 1h0m32 0h0m-140 1h0m30 1h0m-819 2h0m978 1h0m-268 5h0m66 5h0m-764 2h0m122 0h0m-134 3h0m-120 3h0m13 0h0m92 6h0m854 1h0m-19 1h0m-989 1h0m27 3h0m267 0h0m-149 17h0m-19 6h0m-95 3h0m255 4h0m-191 8h0m36 2h0m16 10h0m34 5h0m-214 18h0m173 6h0m-137 1h0m-19 2h0m133 0h0m56 0h0m-165 8h0m74 0h0m-134 1h0m77 1h0m45 0h0m-75 5h0m-27 2h0m14 9h0m-16 2h0m53 0h0m83 4h0m7 0h0m-102 2h0m65 5h0m-62 8h0m-38 3h0m77 1h0m-54 1h0m-10 13h0m163 2h0m-200 2h0m79 0h0m12 2h0m-75 3h0m88 9h0m-59 4h0m147 8h0m-17 1h0m-65 9h0m-61 24h0m128 0h0m-206 2h0m34 0h0m99 0h0m90 0h0m-251 1h0m77 0h0m57 1h0m-83 7h0m-38 3h0m63 0h0m16 1h0m-62 5h0m234 0h0m-13 2h0m-134 2h0m-39 13h0m-19 1h0m-11 10h0" stroke="#b68099" stroke-width="29" stroke-linecap="round" fill="none"/></g></svg></body></html>
